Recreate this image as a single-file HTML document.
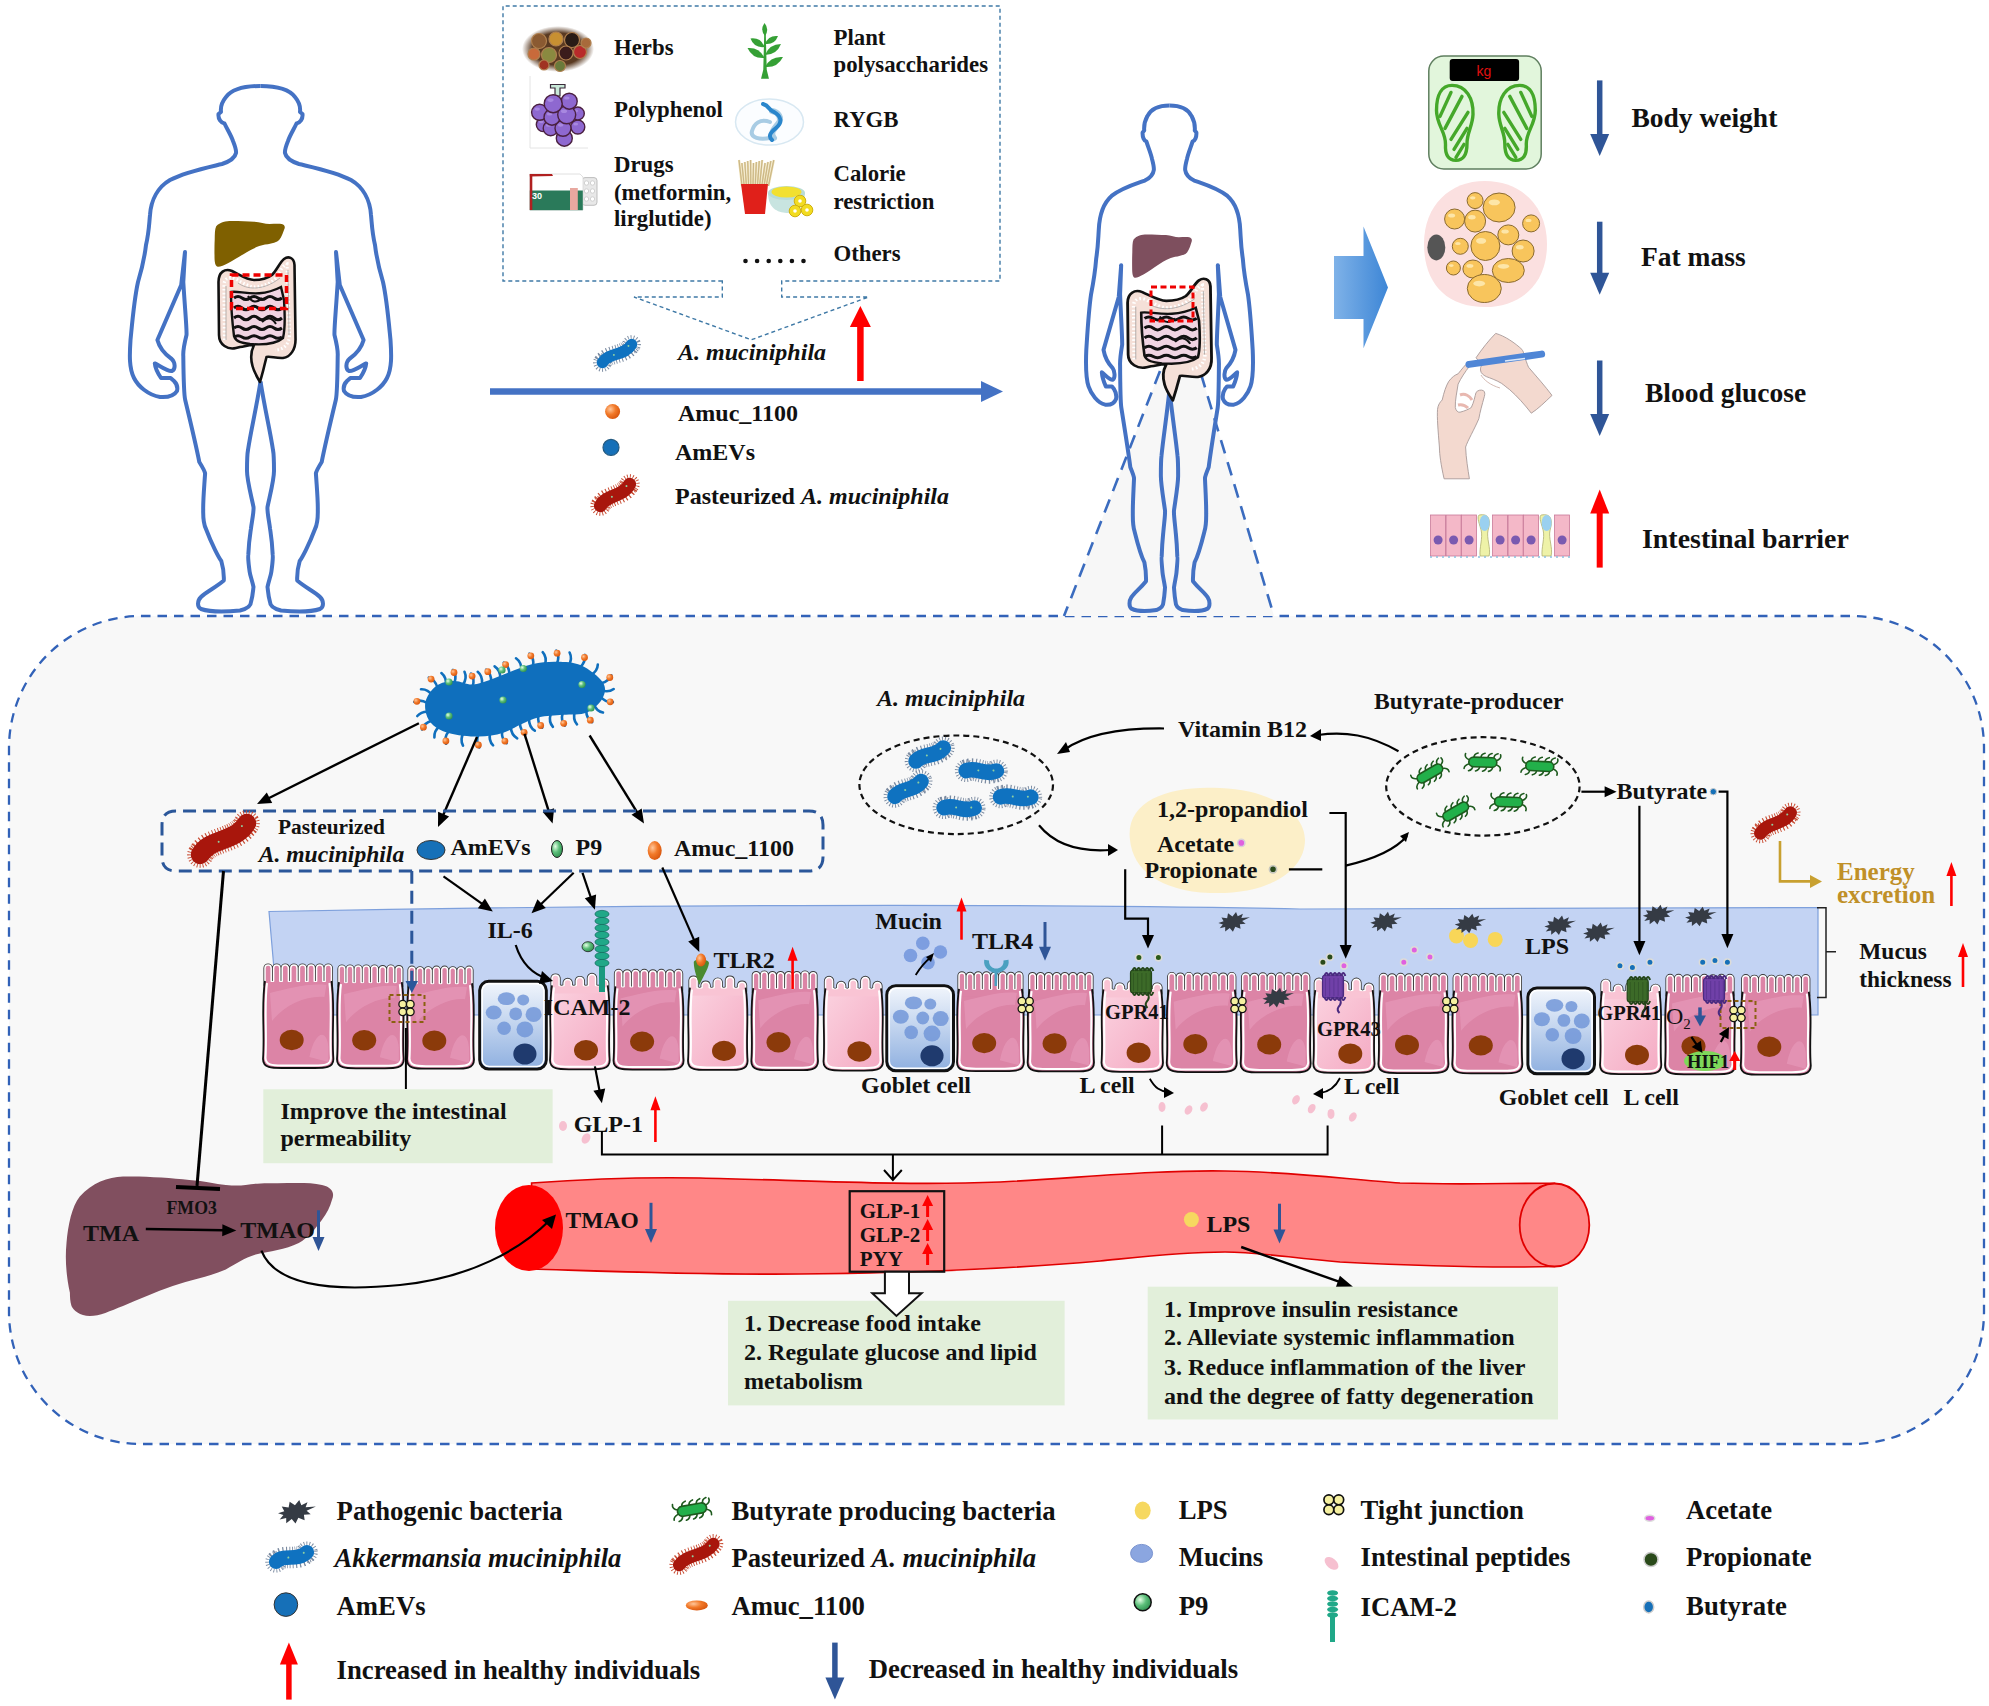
<!DOCTYPE html><html><head><meta charset="utf-8"><style>html,body{margin:0;padding:0;background:#fff;}svg{display:block;}</style></head><body><svg width="1989" height="1706" viewBox="0 0 1989 1706">
<defs>
<linearGradient id="chev" x1="0" y1="0" x2="1" y2="0"><stop offset="0" stop-color="#7fb2e8"/><stop offset="1" stop-color="#3d86d6"/></linearGradient>
<linearGradient id="gob" x1="0" y1="0" x2="0" y2="1"><stop offset="0" stop-color="#f2f6fc"/><stop offset="1" stop-color="#8fb0e0"/></linearGradient>
<radialGradient id="orb" cx="0.35" cy="0.35" r="0.7"><stop offset="0" stop-color="#ffc69a"/><stop offset="0.5" stop-color="#f27a2a"/><stop offset="1" stop-color="#d8560e"/></radialGradient>
<radialGradient id="grb" cx="0.35" cy="0.35" r="0.7"><stop offset="0" stop-color="#e6ffe6"/><stop offset="0.5" stop-color="#5cbf7a"/><stop offset="1" stop-color="#2f8f4f"/></radialGradient>
<linearGradient id="lcell" x1="0" y1="0" x2="1" y2="1"><stop offset="0" stop-color="#fbd3e0"/><stop offset="1" stop-color="#f4a9c2"/></linearGradient>
</defs>
<rect width="1989" height="1706" fill="#fff"/>
<rect x="9" y="616" width="1975" height="828" rx="132" ry="132" fill="#f8f8f8" stroke="#3262b8" stroke-width="2.3" stroke-dasharray="9.5 7"/>
<polygon points="1160,371 1064,616 1274,616 1201,374" fill="#f7f7f7"/>
<line x1="1160" y1="371" x2="1064" y2="616" stroke="#3b6cbf" stroke-width="2.6" stroke-dasharray="14 9"/>
<line x1="1201" y1="374" x2="1274" y2="616" stroke="#3b6cbf" stroke-width="2.6" stroke-dasharray="14 9"/>
<g transform="">
<path d="M260.5,86 C245,86 232,89 226,97 C221,103 220.5,108 221,112 L218.5,114 C218,119 221,123 224.5,123.5 C227,129 231,135 233,141 C235,146 236.5,150 236,153 C235,158 231,161 222,164 C205,168 185,172 170,180 C158,187 151,200 150,215 C149,225 149,232 146,245 C144,262 141,272 138,282 C134,300 132,325 130.5,340 C129.5,355 129,368 134,378 C138,386 148,395 160,397 C167,397.5 174,396 177,391 C178,387 176,383 174,381 L170.6,378 L161,378 C157,372 155,366 154.8,363.4 C160,366 168,372 172,371 C176,369 175,362 171.7,359 C166,355 160,350 157.4,340 L181.2,285 L185,252 L183.3,282 C185,310 187,330 186.5,335 C184,345 183,352 183.3,356 C183.5,375 184,395 185.2,400 C190,420 196,445 199.3,462 C203,468 205,472 205.1,473.5 C204,490 203,500 203.2,510 C203,520 204,525 206,529 C212,545 219,558 221.3,561 C224,570 224,576 223.8,580.5 C215,588 206,592 201,597 C197,601 197,607 201,609 C210,612 225,612 240,610.5 C246,609 251,606 251,602 C253,595 253,590 253.5,587 C252,580 250,575 249.6,571.5 C248,560 248,555 248.3,554.7 C249,540 250,535 250.9,529 C252,520 254,512 253.5,507 C251,495 247,480 247,471 C247,460 247,455 248,450 C251,430 256,410 260.5,381.5" fill="none" stroke="#4472c4" stroke-width="4" stroke-linejoin="round" vector-effect="non-scaling-stroke"/>
<path d="M260.5,86 C245,86 232,89 226,97 C221,103 220.5,108 221,112 L218.5,114 C218,119 221,123 224.5,123.5 C227,129 231,135 233,141 C235,146 236.5,150 236,153 C235,158 231,161 222,164 C205,168 185,172 170,180 C158,187 151,200 150,215 C149,225 149,232 146,245 C144,262 141,272 138,282 C134,300 132,325 130.5,340 C129.5,355 129,368 134,378 C138,386 148,395 160,397 C167,397.5 174,396 177,391 C178,387 176,383 174,381 L170.6,378 L161,378 C157,372 155,366 154.8,363.4 C160,366 168,372 172,371 C176,369 175,362 171.7,359 C166,355 160,350 157.4,340 L181.2,285 L185,252 L183.3,282 C185,310 187,330 186.5,335 C184,345 183,352 183.3,356 C183.5,375 184,395 185.2,400 C190,420 196,445 199.3,462 C203,468 205,472 205.1,473.5 C204,490 203,500 203.2,510 C203,520 204,525 206,529 C212,545 219,558 221.3,561 C224,570 224,576 223.8,580.5 C215,588 206,592 201,597 C197,601 197,607 201,609 C210,612 225,612 240,610.5 C246,609 251,606 251,602 C253,595 253,590 253.5,587 C252,580 250,575 249.6,571.5 C248,560 248,555 248.3,554.7 C249,540 250,535 250.9,529 C252,520 254,512 253.5,507 C251,495 247,480 247,471 C247,460 247,455 248,450 C251,430 256,410 260.5,381.5" transform="translate(521,0) scale(-1,1)" fill="none" stroke="#4472c4" stroke-width="4" stroke-linejoin="round" vector-effect="non-scaling-stroke"/>
</g>
<g transform="translate(1169.5,105.5) scale(0.64,0.962) translate(-260.5,-86)">
<path d="M260.5,86 C245,86 232,89 226,97 C221,103 220.5,108 221,112 L218.5,114 C218,119 221,123 224.5,123.5 C227,129 231,135 233,141 C235,146 236.5,150 236,153 C235,158 231,161 222,164 C205,168 185,172 170,180 C158,187 151,200 150,215 C149,225 149,232 146,245 C144,262 141,272 138,282 C134,300 132,325 130.5,340 C129.5,355 129,368 134,378 C138,386 148,395 160,397 C167,397.5 174,396 177,391 C178,387 176,383 174,381 L170.6,378 L161,378 C157,372 155,366 154.8,363.4 C160,366 168,372 172,371 C176,369 175,362 171.7,359 C166,355 160,350 157.4,340 L181.2,285 L185,252 L183.3,282 C185,310 187,330 186.5,335 C184,345 183,352 183.3,356 C183.5,375 184,395 185.2,400 C190,420 196,445 199.3,462 C203,468 205,472 205.1,473.5 C204,490 203,500 203.2,510 C203,520 204,525 206,529 C212,545 219,558 221.3,561 C224,570 224,576 223.8,580.5 C215,588 206,592 201,597 C197,601 197,607 201,609 C210,612 225,612 240,610.5 C246,609 251,606 251,602 C253,595 253,590 253.5,587 C252,580 250,575 249.6,571.5 C248,560 248,555 248.3,554.7 C249,540 250,535 250.9,529 C252,520 254,512 253.5,507 C251,495 247,480 247,471 C247,460 247,455 248,450 C251,430 256,410 260.5,381.5" fill="none" stroke="#4472c4" stroke-width="4" stroke-linejoin="round" vector-effect="non-scaling-stroke"/>
<path d="M260.5,86 C245,86 232,89 226,97 C221,103 220.5,108 221,112 L218.5,114 C218,119 221,123 224.5,123.5 C227,129 231,135 233,141 C235,146 236.5,150 236,153 C235,158 231,161 222,164 C205,168 185,172 170,180 C158,187 151,200 150,215 C149,225 149,232 146,245 C144,262 141,272 138,282 C134,300 132,325 130.5,340 C129.5,355 129,368 134,378 C138,386 148,395 160,397 C167,397.5 174,396 177,391 C178,387 176,383 174,381 L170.6,378 L161,378 C157,372 155,366 154.8,363.4 C160,366 168,372 172,371 C176,369 175,362 171.7,359 C166,355 160,350 157.4,340 L181.2,285 L185,252 L183.3,282 C185,310 187,330 186.5,335 C184,345 183,352 183.3,356 C183.5,375 184,395 185.2,400 C190,420 196,445 199.3,462 C203,468 205,472 205.1,473.5 C204,490 203,500 203.2,510 C203,520 204,525 206,529 C212,545 219,558 221.3,561 C224,570 224,576 223.8,580.5 C215,588 206,592 201,597 C197,601 197,607 201,609 C210,612 225,612 240,610.5 C246,609 251,606 251,602 C253,595 253,590 253.5,587 C252,580 250,575 249.6,571.5 C248,560 248,555 248.3,554.7 C249,540 250,535 250.9,529 C252,520 254,512 253.5,507 C251,495 247,480 247,471 C247,460 247,455 248,450 C251,430 256,410 260.5,381.5" transform="translate(521,0) scale(-1,1)" fill="none" stroke="#4472c4" stroke-width="4" stroke-linejoin="round" vector-effect="non-scaling-stroke"/>
</g>
<path d="M216.2,226.3 C220,222 226,221 231.4,221 C240,221 248,221.5 254.3,221.7 C260,222 265,224 269.5,224 C274,224 278,223.5 281.7,224 C285,225 285.5,227 284,230 C282,236 280,240 277.2,241.5 C273,243.5 269,244 265,244.6 C258,246 252,249 246.7,252.2 C240,256 234,260 228.4,262.9 C224,265 220,267 217.7,266.7 C215,266 214.5,262 214.5,255.3 C214.5,248 214.5,244 214.7,240 C214.8,234 214.8,229 216.2,226.3 Z" transform="" fill="#7f6000"/>
<path d="M216.2,226.3 C220,222 226,221 231.4,221 C240,221 248,221.5 254.3,221.7 C260,222 265,224 269.5,224 C274,224 278,223.5 281.7,224 C285,225 285.5,227 284,230 C282,236 280,240 277.2,241.5 C273,243.5 269,244 265,244.6 C258,246 252,249 246.7,252.2 C240,256 234,260 228.4,262.9 C224,265 220,267 217.7,266.7 C215,266 214.5,262 214.5,255.3 C214.5,248 214.5,244 214.7,240 C214.8,234 214.8,229 216.2,226.3 Z" transform="translate(1132.3,234.4) scale(0.85,0.95) translate(-214.7,-221)" fill="#7e4f5e"/>
<g transform="">
<path d="M236,348 C228,350 219,345 219,335 L218.5,282 C218.5,272 225,268 232,271 C240,275 247,280 254,280 C262,280 268,278 272,275 C277,270 280,262 284,259 C288,256 294,257 294.5,265 L295.5,338 C296,350 290,357 283,358 C276,358.5 270,356 266.5,357 L264.5,365 C263,372 261,378 260,382 C257,377 254,372 252.5,366 C250,357 252,349 254,345 C250,344 244,347 240,347 Z" fill="#f5e0d8" stroke="#111" stroke-width="2.6" stroke-linejoin="round"/>
<path d="M224.5,340 L224,285 C224,278 230,276 236,279 C244,284 250,287 255,287 C262,287 270,284 276,278 C280,272 282,266 287,264 L289.5,335 C289,346 282,350 275,350" fill="none" stroke="#fff" stroke-width="3.2" stroke-dasharray="1.6 2.2"/>
<path d="M226,340 L226,286 M238,283 C246,289 262,292 280,278 M288,270 L289,335" fill="none" stroke="#999" stroke-width="0.7"/>
<path d="M231,292 C240,290 258,299 281,287 L284,300 C285,315 285,330 283,338 C276,344 262,345 250,344 C242,343 236,342 234,336 C232,320 231,305 231,292 Z" fill="#f0d4e2" stroke="#111" stroke-width="2.4"/>
<path d="M234,298 q4,-3 8,0 t8,0 t8,0 t8,0 t8,0 t8,0" fill="none" stroke="#111" stroke-width="3"/>
<path d="M234,308 q4,-3.5 8,0 t8,0 t8,0 t8,0 t8,0 t8,0" fill="none" stroke="#111" stroke-width="3"/>
<path d="M234,318 q4,-3.5 8,0 t8,0 t8,0 t8,0 t8,0 t8,0" fill="none" stroke="#111" stroke-width="3"/>
<path d="M234,328 q4,-3 8,0 t8,0 t8,0 t8,0 t8,0 t8,0" fill="none" stroke="#111" stroke-width="3"/>
<path d="M234,337 q4,-2.5 8,0 t8,0 t8,0 t8,0 t8,0 t8,0" fill="none" stroke="#111" stroke-width="3"/>
<path d="M248,296 q6,10 14,2 M262,322 q8,-8 14,2" fill="none" stroke="#111" stroke-width="2"/>
</g>
<g transform="translate(1127.6,279.4) scale(1.09,0.976) translate(-218.5,-258)">
<path d="M236,348 C228,350 219,345 219,335 L218.5,282 C218.5,272 225,268 232,271 C240,275 247,280 254,280 C262,280 268,278 272,275 C277,270 280,262 284,259 C288,256 294,257 294.5,265 L295.5,338 C296,350 290,357 283,358 C276,358.5 270,356 266.5,357 L264.5,365 C263,372 261,378 260,382 C257,377 254,372 252.5,366 C250,357 252,349 254,345 C250,344 244,347 240,347 Z" fill="#f5e0d8" stroke="#111" stroke-width="2.6" stroke-linejoin="round"/>
<path d="M224.5,340 L224,285 C224,278 230,276 236,279 C244,284 250,287 255,287 C262,287 270,284 276,278 C280,272 282,266 287,264 L289.5,335 C289,346 282,350 275,350" fill="none" stroke="#fff" stroke-width="3.2" stroke-dasharray="1.6 2.2"/>
<path d="M226,340 L226,286 M238,283 C246,289 262,292 280,278 M288,270 L289,335" fill="none" stroke="#999" stroke-width="0.7"/>
<path d="M231,292 C240,290 258,299 281,287 L284,300 C285,315 285,330 283,338 C276,344 262,345 250,344 C242,343 236,342 234,336 C232,320 231,305 231,292 Z" fill="#f0d4e2" stroke="#111" stroke-width="2.4"/>
<path d="M234,298 q4,-3 8,0 t8,0 t8,0 t8,0 t8,0 t8,0" fill="none" stroke="#111" stroke-width="3"/>
<path d="M234,308 q4,-3.5 8,0 t8,0 t8,0 t8,0 t8,0 t8,0" fill="none" stroke="#111" stroke-width="3"/>
<path d="M234,318 q4,-3.5 8,0 t8,0 t8,0 t8,0 t8,0 t8,0" fill="none" stroke="#111" stroke-width="3"/>
<path d="M234,328 q4,-3 8,0 t8,0 t8,0 t8,0 t8,0 t8,0" fill="none" stroke="#111" stroke-width="3"/>
<path d="M234,337 q4,-2.5 8,0 t8,0 t8,0 t8,0 t8,0 t8,0" fill="none" stroke="#111" stroke-width="3"/>
<path d="M248,296 q6,10 14,2 M262,322 q8,-8 14,2" fill="none" stroke="#111" stroke-width="2"/>
</g>
<rect x="231.5" y="275" width="55" height="33.5" fill="none" stroke="#e00" stroke-width="3.5" stroke-dasharray="7 4"/>
<rect x="1151" y="287" width="42" height="34" fill="none" stroke="#e00" stroke-width="3" stroke-dasharray="6 3.5"/>
<path d="M722.3,281 L503,281 L503,6 L1000,6 L1000,281 L781.7,281 L781.7,297 L868.6,297 L751.3,339.8 L634,297 L722.3,297 Z" fill="none" stroke="#3f79a6" stroke-width="1.4" stroke-dasharray="4 3"/>
<line x1="723.5" y1="281" x2="780.5" y2="281" stroke="#fff" stroke-width="3"/>
<defs><radialGradient id="herbg" cx="0.5" cy="0.5" r="0.5"><stop offset="0.7" stop-color="#5a3a22" stop-opacity="1"/><stop offset="1" stop-color="#5a3a22" stop-opacity="0"/></radialGradient><filter id="hblur"><feGaussianBlur stdDeviation="0.6"/></filter></defs>
<ellipse cx="558" cy="49" rx="36" ry="23" fill="url(#herbg)"/>
<g filter="url(#hblur)">
<circle cx="539" cy="41" r="7.5" fill="#8a5a30" stroke="#b08050" stroke-width="1.2"/>
<circle cx="556" cy="39" r="7" fill="#c89030" stroke="#b08050" stroke-width="1.2"/>
<circle cx="572" cy="40" r="7.5" fill="#2a1a14" stroke="#b08050" stroke-width="1.2"/>
<circle cx="534" cy="54" r="6" fill="#c86a3a" stroke="#b08050" stroke-width="1.2"/>
<circle cx="549" cy="55" r="7.5" fill="#8a8a40" stroke="#b08050" stroke-width="1.2"/>
<circle cx="566" cy="53" r="7" fill="#3a1a1a" stroke="#b08050" stroke-width="1.2"/>
<circle cx="580" cy="52" r="6.5" fill="#b82a2a" stroke="#b08050" stroke-width="1.2"/>
<circle cx="544" cy="65" r="5" fill="#a03020" stroke="#b08050" stroke-width="1.2"/>
<circle cx="560" cy="66" r="5.5" fill="#6a7a3a" stroke="#b08050" stroke-width="1.2"/>
<circle cx="586" cy="43" r="5" fill="#a86a3a" stroke="#b08050" stroke-width="1.2"/>
</g>
<path d="M530,76 L530,148 L588,148" fill="none" stroke="#e4e4e4" stroke-width="1"/>
<path d="M550.5,84.5 L565,84.5 L565,88 L560,88 L560,96 L555,96 L555,88 L550.5,88 Z" fill="#c8e8d8" stroke="#3a2a3a" stroke-width="1.2"/>
<circle cx="564.3" cy="138.2" r="8" fill="#8e68d0" stroke="#4a2040" stroke-width="1.4"/>
<ellipse cx="561.9" cy="135.0" rx="2.8" ry="1.6" fill="#a888e0"/>
<circle cx="543.3" cy="124.6" r="7" fill="#8e68d0" stroke="#4a2040" stroke-width="1.4"/>
<ellipse cx="541.2" cy="121.8" rx="2.4" ry="1.4" fill="#a888e0"/>
<circle cx="577.8" cy="127" r="7" fill="#8e68d0" stroke="#4a2040" stroke-width="1.4"/>
<ellipse cx="575.7" cy="124.2" rx="2.4" ry="1.4" fill="#a888e0"/>
<circle cx="550.7" cy="128.3" r="7.5" fill="#8e68d0" stroke="#4a2040" stroke-width="1.4"/>
<ellipse cx="548.5" cy="125.3" rx="2.6" ry="1.5" fill="#a888e0"/>
<circle cx="563" cy="128.3" r="8" fill="#8e68d0" stroke="#4a2040" stroke-width="1.4"/>
<ellipse cx="560.6" cy="125.1" rx="2.8" ry="1.6" fill="#a888e0"/>
<circle cx="539.6" cy="112.3" r="8" fill="#8e68d0" stroke="#4a2040" stroke-width="1.4"/>
<ellipse cx="537.2" cy="109.1" rx="2.8" ry="1.6" fill="#a888e0"/>
<circle cx="577.8" cy="113.5" r="6.5" fill="#8e68d0" stroke="#4a2040" stroke-width="1.4"/>
<ellipse cx="575.8" cy="110.9" rx="2.3" ry="1.3" fill="#a888e0"/>
<circle cx="552" cy="117.2" r="8" fill="#8e68d0" stroke="#4a2040" stroke-width="1.4"/>
<ellipse cx="549.6" cy="114.0" rx="2.8" ry="1.6" fill="#a888e0"/>
<circle cx="566.7" cy="114.8" r="9" fill="#8e68d0" stroke="#4a2040" stroke-width="1.4"/>
<ellipse cx="564.0" cy="111.2" rx="3.1" ry="1.8" fill="#a888e0"/>
<circle cx="569.2" cy="101.2" r="8" fill="#8e68d0" stroke="#4a2040" stroke-width="1.4"/>
<ellipse cx="566.8" cy="98.0" rx="2.8" ry="1.6" fill="#a888e0"/>
<circle cx="553.2" cy="103.7" r="9" fill="#8e68d0" stroke="#4a2040" stroke-width="1.4"/>
<ellipse cx="550.5" cy="100.1" rx="3.1" ry="1.8" fill="#a888e0"/>
<rect x="582" y="177.6" width="15" height="27.7" rx="3" fill="#e8e8e8" stroke="#b0b0b0" stroke-width="0.8"/>
<circle cx="586.5" cy="183" r="2.2" fill="#fff" stroke="#c8c8c8" stroke-width="0.8"/>
<circle cx="592.5" cy="183" r="2.2" fill="#fff" stroke="#c8c8c8" stroke-width="0.8"/>
<circle cx="586.5" cy="191" r="2.2" fill="#fff" stroke="#c8c8c8" stroke-width="0.8"/>
<circle cx="592.5" cy="191" r="2.2" fill="#fff" stroke="#c8c8c8" stroke-width="0.8"/>
<circle cx="586.5" cy="199" r="2.2" fill="#fff" stroke="#c8c8c8" stroke-width="0.8"/>
<circle cx="592.5" cy="199" r="2.2" fill="#fff" stroke="#c8c8c8" stroke-width="0.8"/>
<polygon points="529.8,174 580,174 583,177 583,210 529.8,210" fill="#fff" stroke="#d8d8d8" stroke-width="0.8"/>
<polygon points="529.8,174 552,174 553,176 529.8,176.5" fill="#b02020"/>
<rect x="529.8" y="190.5" width="53" height="19.7" fill="#2a7a5a"/>
<rect x="529.8" y="174" width="2.5" height="36" fill="#b02020"/>
<rect x="570" y="188" width="7.8" height="22" fill="#e8a8a0"/>
<text x="532" y="199" font-family="'Liberation Sans', sans-serif" font-size="9" font-weight="bold" font-style="normal" fill="#fff" text-anchor="start" >30</text>
<path d="M762,78 L764,70 L765,33 L766,70 L768,78 Z" fill="#35a035" stroke="#35a035" stroke-width="1.5"/>
<path d="M765.0,36.0 Q769.7,29.3 764.5,23.0 Q759.8,29.7 765.0,36.0 Z" fill="#35a035"/>
<path d="M764.5,47.0 Q760.9,37.2 750.5,38.5 Q754.1,48.3 764.5,47.0 Z" fill="#35a035"/>
<path d="M765.0,44.0 Q774.6,45.1 778.0,36.0 Q768.4,34.9 765.0,44.0 Z" fill="#35a035"/>
<path d="M764.5,58.0 Q759.5,47.0 747.5,48.0 Q752.5,59.0 764.5,58.0 Z" fill="#35a035"/>
<path d="M765.0,55.0 Q776.7,54.9 781.0,44.0 Q769.3,44.1 765.0,55.0 Z" fill="#35a035"/>
<path d="M765.0,67.0 Q777.4,68.1 783.0,57.0 Q770.6,55.9 765.0,67.0 Z" fill="#35a035"/>
<ellipse cx="769.5" cy="122" rx="34" ry="23" fill="#fbfdff" stroke="#d8e8f2" stroke-width="1.5"/>
<path d="M772,111 C778,112 783,118 778,124 C773,130 770,134 774,138" fill="none" stroke="#a8cce4" stroke-width="6" stroke-linecap="round"/>
<path d="M770,122 C760,118 754,124 752,131 C750,138 760,140 770,138" fill="none" stroke="#a8cce4" stroke-width="4" stroke-linecap="round"/>
<path d="M763,104 C770,106 768,110 774,112 C781,116 783,122 776,128 C770,133 768,136 772,140" fill="none" stroke="#2a86cc" stroke-width="4" stroke-linecap="round"/>
<line x1="742.0" y1="186" x2="739.0" y2="160" stroke="#e8d8a8" stroke-width="2.2"/>
<line x1="742.0" y1="186" x2="739.0" y2="160" stroke="#a89060" stroke-width="0.5"/>
<line x1="744.2" y1="186" x2="741.9" y2="163" stroke="#e8d8a8" stroke-width="2.2"/>
<line x1="744.2" y1="186" x2="741.9" y2="163" stroke="#a89060" stroke-width="0.5"/>
<line x1="746.4" y1="186" x2="744.8" y2="162" stroke="#e8d8a8" stroke-width="2.2"/>
<line x1="746.4" y1="186" x2="744.8" y2="162" stroke="#a89060" stroke-width="0.5"/>
<line x1="748.6" y1="186" x2="747.7" y2="161" stroke="#e8d8a8" stroke-width="2.2"/>
<line x1="748.6" y1="186" x2="747.7" y2="161" stroke="#a89060" stroke-width="0.5"/>
<line x1="750.8" y1="186" x2="750.6" y2="160" stroke="#e8d8a8" stroke-width="2.2"/>
<line x1="750.8" y1="186" x2="750.6" y2="160" stroke="#a89060" stroke-width="0.5"/>
<line x1="753.0" y1="186" x2="753.5" y2="163" stroke="#e8d8a8" stroke-width="2.2"/>
<line x1="753.0" y1="186" x2="753.5" y2="163" stroke="#a89060" stroke-width="0.5"/>
<line x1="755.2" y1="186" x2="756.4" y2="162" stroke="#e8d8a8" stroke-width="2.2"/>
<line x1="755.2" y1="186" x2="756.4" y2="162" stroke="#a89060" stroke-width="0.5"/>
<line x1="757.4" y1="186" x2="759.3" y2="161" stroke="#e8d8a8" stroke-width="2.2"/>
<line x1="757.4" y1="186" x2="759.3" y2="161" stroke="#a89060" stroke-width="0.5"/>
<line x1="759.6" y1="186" x2="762.2" y2="160" stroke="#e8d8a8" stroke-width="2.2"/>
<line x1="759.6" y1="186" x2="762.2" y2="160" stroke="#a89060" stroke-width="0.5"/>
<line x1="761.8" y1="186" x2="765.1" y2="163" stroke="#e8d8a8" stroke-width="2.2"/>
<line x1="761.8" y1="186" x2="765.1" y2="163" stroke="#a89060" stroke-width="0.5"/>
<line x1="764.0" y1="186" x2="768.0" y2="162" stroke="#e8d8a8" stroke-width="2.2"/>
<line x1="764.0" y1="186" x2="768.0" y2="162" stroke="#a89060" stroke-width="0.5"/>
<line x1="766.2" y1="186" x2="770.9" y2="161" stroke="#e8d8a8" stroke-width="2.2"/>
<line x1="766.2" y1="186" x2="770.9" y2="161" stroke="#a89060" stroke-width="0.5"/>
<line x1="768.4" y1="186" x2="773.8" y2="160" stroke="#e8d8a8" stroke-width="2.2"/>
<line x1="768.4" y1="186" x2="773.8" y2="160" stroke="#a89060" stroke-width="0.5"/>
<polygon points="741,184 768,184 765,214 745,214" fill="#e0201a"/>
<path d="M768,193 C768,210 780,213 788,213 C798,213 805,205 805,193 Z" fill="#c8e4e0"/>
<ellipse cx="786.5" cy="193" rx="18.5" ry="7" fill="#b8dcd8"/>
<ellipse cx="786.5" cy="192" rx="15" ry="5.5" fill="#f2e030"/>
<circle cx="800" cy="201" r="5.8" fill="#f2dc20" stroke="#d0b010" stroke-width="1"/>
<circle cx="800" cy="201" r="1.8" fill="#fff"/>
<circle cx="807" cy="210" r="5.8" fill="#f2dc20" stroke="#d0b010" stroke-width="1"/>
<circle cx="807" cy="210" r="1.8" fill="#fff"/>
<circle cx="795" cy="211" r="5.8" fill="#f2dc20" stroke="#d0b010" stroke-width="1"/>
<circle cx="795" cy="211" r="1.8" fill="#fff"/>
<text x="614" y="55" font-family="'Liberation Serif', serif" font-size="22.8" font-weight="bold" font-style="normal" fill="#111" text-anchor="start" >Herbs</text>
<text x="833.5" y="45" font-family="'Liberation Serif', serif" font-size="22.8" font-weight="bold" font-style="normal" fill="#111" text-anchor="start" >Plant</text>
<text x="833.5" y="71.5" font-family="'Liberation Serif', serif" font-size="22.8" font-weight="bold" font-style="normal" fill="#111" text-anchor="start" >polysaccharides</text>
<text x="614" y="117" font-family="'Liberation Serif', serif" font-size="22.8" font-weight="bold" font-style="normal" fill="#111" text-anchor="start" >Polyphenol</text>
<text x="833.5" y="126.5" font-family="'Liberation Serif', serif" font-size="22.8" font-weight="bold" font-style="normal" fill="#111" text-anchor="start" >RYGB</text>
<text x="614" y="172" font-family="'Liberation Serif', serif" font-size="22.8" font-weight="bold" font-style="normal" fill="#111" text-anchor="start" >Drugs</text>
<text x="614" y="199.5" font-family="'Liberation Serif', serif" font-size="22.8" font-weight="bold" font-style="normal" fill="#111" text-anchor="start" >(metformin,</text>
<text x="614" y="225.5" font-family="'Liberation Serif', serif" font-size="22.8" font-weight="bold" font-style="normal" fill="#111" text-anchor="start" >lirglutide)</text>
<text x="833.5" y="181" font-family="'Liberation Serif', serif" font-size="22.8" font-weight="bold" font-style="normal" fill="#111" text-anchor="start" >Calorie</text>
<text x="833.5" y="208.5" font-family="'Liberation Serif', serif" font-size="22.8" font-weight="bold" font-style="normal" fill="#111" text-anchor="start" >restriction</text>
<text x="833.5" y="260.5" font-family="'Liberation Serif', serif" font-size="22.8" font-weight="bold" font-style="normal" fill="#111" text-anchor="start" >Others</text>
<circle cx="745.5" cy="261" r="2.3" fill="#111"/>
<circle cx="757.1" cy="261" r="2.3" fill="#111"/>
<circle cx="768.7" cy="261" r="2.3" fill="#111"/>
<circle cx="780.3" cy="261" r="2.3" fill="#111"/>
<circle cx="791.9" cy="261" r="2.3" fill="#111"/>
<circle cx="803.5" cy="261" r="2.3" fill="#111"/>
<line x1="490" y1="391.6" x2="985" y2="391.6" stroke="#4472c4" stroke-width="6.5"/>
<polygon points="1003,391.6 981,381 981,402" fill="#4472c4"/>
<line x1="860.4" y1="381" x2="860.4" y2="326.0" stroke="#f00" stroke-width="6.5"/>
<polygon points="860.4,306.0 870.9,327.0 849.9,327.0" fill="#f00"/>
<g transform="translate(617,353.5) rotate(-25) scale(1.0)">
<path d="M-17.0,2 C-6.800000000000001,-5 5.1,6 17.0,-2" stroke="#7a8aa0" stroke-width="18.5" stroke-dasharray="0.9 2" fill="none"/>
<circle cx="-17.0" cy="2" r="7.55" fill="none" stroke="#7a8aa0" stroke-width="3.6" stroke-dasharray="0.9 2"/>
<circle cx="17.0" cy="-2" r="7.55" fill="none" stroke="#7a8aa0" stroke-width="3.6" stroke-dasharray="0.9 2"/>
<path d="M-17.0,2 C-6.800000000000001,-5 5.1,6 17.0,-2" stroke="#0f72c0" stroke-width="11.5" stroke-linecap="round" fill="none"/>
<circle cx="-3.4000000000000004" cy="0" r="1" fill="#8fd0a0"/><circle cx="13.600000000000001" cy="-2" r="1" fill="#8fd0a0"/>
</g>
<circle cx="612.6" cy="411.5" r="7.5" fill="url(#orb)"/>
<circle cx="611" cy="447.4" r="8" fill="#1670b8" stroke="#245a80" stroke-width="1.2"/>
<g transform="translate(615,495) rotate(-30) scale(1.0)">
<path d="M-18.0,2 C-7.2,-5 5.3999999999999995,6 18.0,-2" stroke="#c84a30" stroke-width="20" stroke-dasharray="0.9 2" fill="none"/>
<circle cx="-18.0" cy="2" r="8.3" fill="none" stroke="#c84a30" stroke-width="3.6" stroke-dasharray="0.9 2"/>
<circle cx="18.0" cy="-2" r="8.3" fill="none" stroke="#c84a30" stroke-width="3.6" stroke-dasharray="0.9 2"/>
<path d="M-18.0,2 C-7.2,-5 5.3999999999999995,6 18.0,-2" stroke="#a8160c" stroke-width="13" stroke-linecap="round" fill="none"/>
<circle cx="-3.6" cy="0" r="1" fill="#8fd0a0"/><circle cx="14.4" cy="-2" r="1" fill="#8fd0a0"/>
</g>
<text x="678" y="359.6" font-family="'Liberation Serif', serif" font-size="24" font-weight="bold" font-style="italic" fill="#111" text-anchor="start" >A. muciniphila</text>
<text x="678" y="420.6" font-family="'Liberation Serif', serif" font-size="24" font-weight="bold" font-style="normal" fill="#111" text-anchor="start" >Amuc_1100</text>
<text x="675" y="460.2" font-family="'Liberation Serif', serif" font-size="24" font-weight="bold" font-style="normal" fill="#111" text-anchor="start" >AmEVs</text>
<text x="675" y="504.4" font-family="'Liberation Serif', serif" font-size="24" font-weight="bold" font-style="normal" fill="#111" text-anchor="start" >Pasteurized <tspan font-style="italic">A. muciniphila</tspan></text>
<rect x="1428.8" y="56.1" width="112.4" height="112.8" rx="15" fill="#e2f6dc" stroke="#5f7f5f" stroke-width="1.5"/>
<rect x="1449.7" y="59.1" width="69.4" height="21.8" rx="3" fill="#000"/>
<text x="1484" y="75.5" font-family="'Liberation Sans', sans-serif" font-size="14" font-weight="normal" font-style="normal" fill="#e01010" text-anchor="middle" >kg</text>
<g transform="translate(1455,122.4) scale(1,1)" fill="none" stroke="#45a82a" stroke-width="3.4" stroke-linecap="round">
<path d="M-3,-37 C11,-37 18.5,-24 18,-8 C17.5,4 12,10 12,21 C12,33 8,38 1,38 C-7,38 -10,32 -9.5,22 C-9,10 -18.5,2 -18.5,-12 C-18.5,-28 -13,-37 -3,-37 Z"/>
<line x1="-15" y1="-6" x2="-4" y2="-30"/>
<line x1="-10" y1="6" x2="7" y2="-26"/>
<line x1="-4" y1="17" x2="13" y2="-10"/>
<line x1="-1" y1="27" x2="12" y2="6"/>
<line x1="1" y1="35" x2="9" y2="22"/>
</g>
<g transform="translate(1516.8,122.4) scale(-1,1)" fill="none" stroke="#45a82a" stroke-width="3.4" stroke-linecap="round">
<path d="M-3,-37 C11,-37 18.5,-24 18,-8 C17.5,4 12,10 12,21 C12,33 8,38 1,38 C-7,38 -10,32 -9.5,22 C-9,10 -18.5,2 -18.5,-12 C-18.5,-28 -13,-37 -3,-37 Z"/>
<line x1="-15" y1="-6" x2="-4" y2="-30"/>
<line x1="-10" y1="6" x2="7" y2="-26"/>
<line x1="-4" y1="17" x2="13" y2="-10"/>
<line x1="-1" y1="27" x2="12" y2="6"/>
<line x1="1" y1="35" x2="9" y2="22"/>
</g>
<line x1="1599.7" y1="80.4" x2="1599.7" y2="135.0" stroke="#2f5597" stroke-width="5.5"/>
<polygon points="1599.7,156.0 1590.2,134.0 1609.2,134.0" fill="#2f5597"/>
<text x="1631.4" y="126.7" font-family="'Liberation Serif', serif" font-size="27.5" font-weight="bold" font-style="normal" fill="#111" text-anchor="start" >Body weight</text>
<path d="M1485,181 C1520,181 1547,205 1547,244 C1547,285 1520,307 1485,307 C1445,307 1424,282 1424,244 C1424,205 1450,181 1485,181 Z" fill="#fbe0e0"/>
<ellipse cx="1436.3" cy="247.4" rx="9" ry="13" fill="#555"/>
<ellipse cx="1475.1" cy="200.6" rx="8" ry="8" fill="#f8c55c" stroke="#8a6a30" stroke-width="1"/>
<ellipse cx="1472.7" cy="197.8" rx="2.8" ry="1.6" fill="#fde6a8"/>
<ellipse cx="1499.1" cy="207.5" rx="16" ry="14.5" fill="#f8c55c" stroke="#8a6a30" stroke-width="1"/>
<ellipse cx="1494.3" cy="202.4" rx="5.6" ry="2.9" fill="#fde6a8"/>
<ellipse cx="1454.6" cy="219" rx="10" ry="10" fill="#f8c55c" stroke="#8a6a30" stroke-width="1"/>
<ellipse cx="1451.6" cy="215.5" rx="3.5" ry="2.0" fill="#fde6a8"/>
<ellipse cx="1475.1" cy="221.1" rx="10.5" ry="11" fill="#f8c55c" stroke="#8a6a30" stroke-width="1"/>
<ellipse cx="1471.9" cy="217.2" rx="3.7" ry="2.2" fill="#fde6a8"/>
<ellipse cx="1531.1" cy="223.4" rx="8.5" ry="8.5" fill="#f8c55c" stroke="#8a6a30" stroke-width="1"/>
<ellipse cx="1528.5" cy="220.4" rx="3.0" ry="1.7" fill="#fde6a8"/>
<ellipse cx="1508.3" cy="234.9" rx="10.5" ry="10" fill="#f8c55c" stroke="#8a6a30" stroke-width="1"/>
<ellipse cx="1505.1" cy="231.4" rx="3.7" ry="2.0" fill="#fde6a8"/>
<ellipse cx="1460.3" cy="246.3" rx="8" ry="8" fill="#f8c55c" stroke="#8a6a30" stroke-width="1"/>
<ellipse cx="1457.9" cy="243.5" rx="2.8" ry="1.6" fill="#fde6a8"/>
<ellipse cx="1485.4" cy="246" rx="14.5" ry="14.5" fill="#f8c55c" stroke="#8a6a30" stroke-width="1"/>
<ellipse cx="1481.1" cy="240.9" rx="5.1" ry="2.9" fill="#fde6a8"/>
<ellipse cx="1523.1" cy="251" rx="11" ry="11" fill="#f8c55c" stroke="#8a6a30" stroke-width="1"/>
<ellipse cx="1519.8" cy="247.2" rx="3.8" ry="2.2" fill="#fde6a8"/>
<ellipse cx="1453.4" cy="268" rx="7" ry="7" fill="#f8c55c" stroke="#8a6a30" stroke-width="1"/>
<ellipse cx="1451.3" cy="265.6" rx="2.4" ry="1.4" fill="#fde6a8"/>
<ellipse cx="1472.9" cy="269" rx="10" ry="9" fill="#f8c55c" stroke="#8a6a30" stroke-width="1"/>
<ellipse cx="1469.9" cy="265.9" rx="3.5" ry="1.8" fill="#fde6a8"/>
<ellipse cx="1508.3" cy="270.5" rx="16" ry="12" fill="#f8c55c" stroke="#8a6a30" stroke-width="1"/>
<ellipse cx="1503.5" cy="266.3" rx="5.6" ry="2.4" fill="#fde6a8"/>
<ellipse cx="1484.3" cy="288.5" rx="17" ry="14" fill="#f8c55c" stroke="#8a6a30" stroke-width="1"/>
<ellipse cx="1479.2" cy="283.6" rx="5.9" ry="2.8" fill="#fde6a8"/>
<line x1="1599.7" y1="221.7" x2="1599.7" y2="273.7" stroke="#2f5597" stroke-width="5.5"/>
<polygon points="1599.7,294.7 1590.2,272.7 1609.2,272.7" fill="#2f5597"/>
<text x="1641" y="265.5" font-family="'Liberation Serif', serif" font-size="27.5" font-weight="bold" font-style="normal" fill="#111" text-anchor="start" >Fat mass</text>
<path d="M1444.1,478.8 C1441,465 1439.5,455 1439.4,447 C1438,430 1437,418 1437.5,409.4 C1438,405 1440,402 1442.2,400 C1444,392 1446,386 1448.8,381.3 C1452,377 1455,375 1458.1,373.8 C1462,369 1465,365 1468,362.5 C1470,363 1470,365 1469.4,366.3 C1465,372 1461,378 1458.1,384.1 C1457,392 1455,400 1455.3,407.5 C1456,411 1458,412.5 1460,412.2 C1465,411 1469,409 1471.3,407.5 C1474,402 1475,396 1476,392.5 C1478,390 1481,389.5 1483.5,390.7 C1485,392 1485,394 1484.4,396.3 C1482,405 1480,412 1478.8,418.8 C1474,430 1468,440 1465.6,447 C1466,458 1468,470 1469.4,478.8 Z" fill="#f3d9cf" stroke="#a89a98" stroke-width="0.9"/>
<path d="M1495.7,333.4 C1505,336 1515,343 1521.9,349.4 C1523,351 1524,353 1523.8,355 C1526,360 1527,364 1528.5,367.2 C1536,376 1545,386 1552,395.4 C1545,402 1538,409 1531.3,413.2 C1525,405 1517,396 1509.7,389.7 C1506,387 1504,385 1501.3,383.2 C1496,380 1490,378 1486.3,376.6 C1483,375 1481,373 1480.7,371 C1480,368 1481,366 1482.5,364.4 C1480,362 1478,360 1476,357.8 C1482,349 1489,340 1495.7,333.4 Z" fill="#f3d9cf" stroke="#a89a98" stroke-width="0.9"/>
<path d="M1481,375 C1484,380 1490,385 1500,388" fill="none" stroke="#c9a8a0" stroke-width="0.8"/>
<path d="M1460,395 C1465,393 1470,396 1472,400 M1458,405 C1462,404 1466,406 1468,408" fill="none" stroke="#e8b8b0" stroke-width="3"/>
<path d="M1469,364.4 L1541.6,354.1" stroke="#4f86d6" stroke-width="7" stroke-linecap="round"/>
<path d="M1505,361 L1525,358.5" stroke="#dce8f8" stroke-width="1.6"/>
<line x1="1599.7" y1="360.5" x2="1599.7" y2="415.0" stroke="#2f5597" stroke-width="5.5"/>
<polygon points="1599.7,436.0 1590.2,414.0 1609.2,414.0" fill="#2f5597"/>
<text x="1645" y="402" font-family="'Liberation Serif', serif" font-size="27.5" font-weight="bold" font-style="normal" fill="#111" text-anchor="start" >Blood glucose</text>
<rect x="1430.6" y="515" width="15" height="41" fill="#f4b8c8" stroke="#c87898" stroke-width="0.8"/>
<circle cx="1438.1" cy="540" r="4.5" fill="#7a5ab0"/>
<rect x="1446.1" y="515" width="15" height="41" fill="#f4b8c8" stroke="#c87898" stroke-width="0.8"/>
<circle cx="1453.6" cy="540" r="4.5" fill="#7a5ab0"/>
<rect x="1461.6" y="515" width="15" height="41" fill="#f4b8c8" stroke="#c87898" stroke-width="0.8"/>
<circle cx="1469.1" cy="540" r="4.5" fill="#7a5ab0"/>
<path d="M1479.1,515 C1489.1,513 1491.1,520 1488.1,530 C1486.1,538 1491.1,548 1489.1,556 L1480.1,556 C1479.1,548 1483.1,538 1481.1,530 C1478.1,520 1477.1,517 1479.1,515 Z" fill="#eef2a8" stroke="#b0b070" stroke-width="0.8"/>
<ellipse cx="1484.6" cy="523" rx="5" ry="8" fill="#9ad0f0"/>
<rect x="1492.6" y="515" width="15" height="41" fill="#f4b8c8" stroke="#c87898" stroke-width="0.8"/>
<circle cx="1500.1" cy="540" r="4.5" fill="#7a5ab0"/>
<rect x="1508.1" y="515" width="15" height="41" fill="#f4b8c8" stroke="#c87898" stroke-width="0.8"/>
<circle cx="1515.6" cy="540" r="4.5" fill="#7a5ab0"/>
<rect x="1523.6" y="515" width="15" height="41" fill="#f4b8c8" stroke="#c87898" stroke-width="0.8"/>
<circle cx="1531.1" cy="540" r="4.5" fill="#7a5ab0"/>
<path d="M1541.1,515 C1551.1,513 1553.1,520 1550.1,530 C1548.1,538 1553.1,548 1551.1,556 L1542.1,556 C1541.1,548 1545.1,538 1543.1,530 C1540.1,520 1539.1,517 1541.1,515 Z" fill="#eef2a8" stroke="#b0b070" stroke-width="0.8"/>
<ellipse cx="1546.6" cy="523" rx="5" ry="8" fill="#9ad0f0"/>
<rect x="1554.6" y="515" width="15" height="41" fill="#f4b8c8" stroke="#c87898" stroke-width="0.8"/>
<circle cx="1562.1" cy="540" r="4.5" fill="#7a5ab0"/>
<line x1="1430" y1="557" x2="1572" y2="557" stroke="#8ac0e0" stroke-width="1.5" stroke-dasharray="2 4"/>
<line x1="1599.7" y1="567.6" x2="1599.7" y2="512.6" stroke="#f00" stroke-width="6"/>
<polygon points="1599.7,489.6 1609.2,513.6 1590.2,513.6" fill="#f00"/>
<text x="1642" y="548" font-family="'Liberation Serif', serif" font-size="27.9" font-weight="bold" font-style="normal" fill="#111" text-anchor="start" >Intestinal barrier</text>
<polygon points="1334,256 1363.5,256 1363.5,226.5 1388,287.4 1363.5,348.3 1363.5,319 1334,319" fill="url(#chev)"/>
<path d="M269,911.5 C600,905 1000,903 1300,909 C1500,909 1700,908 1818,907.5 L1818,1015 L278,1015 Z" fill="#c3d3f3" stroke="#7ea0dc" stroke-width="1.2"/>
<path d="M1817,907.8 L1826,907.8 L1826,997.5 L1817,997.5 M1826,951.7 L1836,951.7" fill="none" stroke="#222" stroke-width="1.5"/>
<path d="M265,981.0 C261,1006.0 265,1032.0 263,1059.0 C263,1068.0 272,1068.0 282,1068.0 L314.4,1068.0 C324.4,1068.0 333.4,1068.0 333.4,1059.0 C331.4,1032.0 335.4,1006.0 331.4,981.0 Z" fill="#dc84a6"/>
<path d="M265,985.0 L265.0,968.1 A3.1,3.1 0 0 1 271.2,968.1 L271.2,981.0 Q272.4,983.0 273.6,981.0 L273.6,968.1 A3.1,3.1 0 0 1 279.8,968.1 L279.8,981.0 Q281.0,983.0 282.2,981.0 L282.2,968.1 A3.1,3.1 0 0 1 288.4,968.1 L288.4,981.0 Q289.6,983.0 290.8,981.0 L290.8,968.1 A3.1,3.1 0 0 1 297.0,968.1 L297.0,981.0 Q298.2,983.0 299.4,981.0 L299.4,968.1 A3.1,3.1 0 0 1 305.6,968.1 L305.6,981.0 Q306.8,983.0 308.0,981.0 L308.0,968.1 A3.1,3.1 0 0 1 314.2,968.1 L314.2,981.0 Q315.4,983.0 316.6,981.0 L316.6,968.1 A3.1,3.1 0 0 1 322.8,968.1 L322.8,981.0 Q324.0,983.0 325.2,981.0 L325.2,968.1 A3.1,3.1 0 0 1 331.4,968.1 L331.4,981.0 L331.4,985.0 Z" fill="none" stroke="#3a3a3a" stroke-width="3.2" stroke-linejoin="round"/>
<path d="M265,985.0 L265.0,968.1 A3.1,3.1 0 0 1 271.2,968.1 L271.2,981.0 Q272.4,983.0 273.6,981.0 L273.6,968.1 A3.1,3.1 0 0 1 279.8,968.1 L279.8,981.0 Q281.0,983.0 282.2,981.0 L282.2,968.1 A3.1,3.1 0 0 1 288.4,968.1 L288.4,981.0 Q289.6,983.0 290.8,981.0 L290.8,968.1 A3.1,3.1 0 0 1 297.0,968.1 L297.0,981.0 Q298.2,983.0 299.4,981.0 L299.4,968.1 A3.1,3.1 0 0 1 305.6,968.1 L305.6,981.0 Q306.8,983.0 308.0,981.0 L308.0,968.1 A3.1,3.1 0 0 1 314.2,968.1 L314.2,981.0 Q315.4,983.0 316.6,981.0 L316.6,968.1 A3.1,3.1 0 0 1 322.8,968.1 L322.8,981.0 Q324.0,983.0 325.2,981.0 L325.2,968.1 A3.1,3.1 0 0 1 331.4,968.1 L331.4,981.0 L331.4,985.0 Z" fill="#dc84a6" stroke="#fff" stroke-width="1.5" stroke-linejoin="round"/>
<rect x="264.5" y="982.0" width="67.39999999999998" height="7" fill="#dc84a6"/>
<path d="M265,981.0 C261,1006.0 265,1032.0 263,1059.0 C263,1068.0 272,1068.0 282,1068.0 L314.4,1068.0 C324.4,1068.0 333.4,1068.0 333.4,1059.0 C331.4,1032.0 335.4,1006.0 331.4,981.0" fill="none" stroke="#111" stroke-width="1.8" stroke-linejoin="round"/>
<path d="M267,983.0 C264,1006.0 267,1032.0 265.5,1058.0 C266,1065.0 272,1065.5 282,1065.5 L314.4,1065.5 C324.4,1065.5 330.4,1065.0 330.9,1058.0 C329.4,1032.0 332.4,1006.0 329.4,983.0" fill="none" stroke="#fff" stroke-width="2"/>
<path d="M270,993.0 C287,989.0 307,983.0 326.4,985.0 L324.4,997.0 C307,995.0 284,1005.0 272,1021.0 Z" fill="#e596b6" opacity="0.8"/>
<path d="M309.4,1057.0 C314.4,1032.0 326.4,1027.0 328.4,1047.0 L328.4,1062.0 Z" fill="#e596b6" opacity="0.8"/>
<ellipse cx="291.7" cy="1040.0" rx="12" ry="10.2" fill="#8b3a0a"/>
<path d="M339,982.1511111111112 C335,1007.1511111111112 339,1032.334193548387 337,1059.334193548387 C337,1068.334193548387 346,1068.334193548387 356,1068.334193548387 L384.8,1068.334193548387 C394.8,1068.334193548387 403.8,1068.334193548387 403.8,1059.334193548387 C401.8,1032.334193548387 405.8,1007.1511111111112 401.8,982.1511111111112 Z" fill="#dc84a6"/>
<path d="M339,986.1511111111112 L339.0,969.0 A2.9,2.9 0 0 1 344.8,969.0 L344.8,982.2 Q345.9,984.2 347.1,982.2 L347.1,969.0 A2.9,2.9 0 0 1 352.9,969.0 L352.9,982.2 Q354.1,984.2 355.3,982.2 L355.3,969.0 A2.9,2.9 0 0 1 361.1,969.0 L361.1,982.2 Q362.2,984.2 363.4,982.2 L363.4,969.0 A2.9,2.9 0 0 1 369.2,969.0 L369.2,982.2 Q370.4,984.2 371.6,982.2 L371.6,969.0 A2.9,2.9 0 0 1 377.4,969.0 L377.4,982.2 Q378.6,984.2 379.8,982.2 L379.8,969.0 A2.9,2.9 0 0 1 385.5,969.0 L385.5,982.2 Q386.7,984.2 387.9,982.2 L387.9,969.0 A2.9,2.9 0 0 1 393.7,969.0 L393.7,982.2 Q394.9,984.2 396.1,982.2 L396.1,969.0 A2.9,2.9 0 0 1 401.8,969.0 L401.8,982.2 L401.8,986.1511111111112 Z" fill="none" stroke="#3a3a3a" stroke-width="3.2" stroke-linejoin="round"/>
<path d="M339,986.1511111111112 L339.0,969.0 A2.9,2.9 0 0 1 344.8,969.0 L344.8,982.2 Q345.9,984.2 347.1,982.2 L347.1,969.0 A2.9,2.9 0 0 1 352.9,969.0 L352.9,982.2 Q354.1,984.2 355.3,982.2 L355.3,969.0 A2.9,2.9 0 0 1 361.1,969.0 L361.1,982.2 Q362.2,984.2 363.4,982.2 L363.4,969.0 A2.9,2.9 0 0 1 369.2,969.0 L369.2,982.2 Q370.4,984.2 371.6,982.2 L371.6,969.0 A2.9,2.9 0 0 1 377.4,969.0 L377.4,982.2 Q378.6,984.2 379.8,982.2 L379.8,969.0 A2.9,2.9 0 0 1 385.5,969.0 L385.5,982.2 Q386.7,984.2 387.9,982.2 L387.9,969.0 A2.9,2.9 0 0 1 393.7,969.0 L393.7,982.2 Q394.9,984.2 396.1,982.2 L396.1,969.0 A2.9,2.9 0 0 1 401.8,969.0 L401.8,982.2 L401.8,986.1511111111112 Z" fill="#dc84a6" stroke="#fff" stroke-width="1.5" stroke-linejoin="round"/>
<rect x="338.5" y="983.1511111111112" width="63.80000000000001" height="7" fill="#dc84a6"/>
<path d="M339,982.1511111111112 C335,1007.1511111111112 339,1032.334193548387 337,1059.334193548387 C337,1068.334193548387 346,1068.334193548387 356,1068.334193548387 L384.8,1068.334193548387 C394.8,1068.334193548387 403.8,1068.334193548387 403.8,1059.334193548387 C401.8,1032.334193548387 405.8,1007.1511111111112 401.8,982.1511111111112" fill="none" stroke="#111" stroke-width="1.8" stroke-linejoin="round"/>
<path d="M341,984.1511111111112 C338,1007.1511111111112 341,1032.334193548387 339.5,1058.334193548387 C340,1065.334193548387 346,1065.834193548387 356,1065.834193548387 L384.8,1065.834193548387 C394.8,1065.834193548387 400.8,1065.334193548387 401.3,1058.334193548387 C399.8,1032.334193548387 402.8,1007.1511111111112 399.8,984.1511111111112" fill="none" stroke="#fff" stroke-width="2"/>
<path d="M344,994.1511111111112 C361,990.1511111111112 381,984.1511111111112 396.8,986.1511111111112 L394.8,998.1511111111112 C381,996.1511111111112 358,1006.1511111111112 346,1022.1511111111112 Z" fill="#e596b6" opacity="0.8"/>
<path d="M379.8,1057.334193548387 C384.8,1032.334193548387 396.8,1027.334193548387 398.8,1047.334193548387 L398.8,1062.334193548387 Z" fill="#e596b6" opacity="0.8"/>
<ellipse cx="364.2" cy="1040.3" rx="12" ry="10.2" fill="#8b3a0a"/>
<path d="M409,983.24 C405,1008.24 409,1032.6503225806453 407,1059.6503225806453 C407,1068.6503225806453 416,1068.6503225806453 426,1068.6503225806453 L455,1068.6503225806453 C465,1068.6503225806453 474,1068.6503225806453 474,1059.6503225806453 C472,1032.6503225806453 476,1008.24 472,983.24 Z" fill="#dc84a6"/>
<path d="M409,987.24 L409.0,970.1 A2.9,2.9 0 0 1 414.8,970.1 L414.8,983.2 Q416.0,985.2 417.2,983.2 L417.2,970.1 A2.9,2.9 0 0 1 422.9,970.1 L422.9,983.2 Q424.1,985.2 425.3,983.2 L425.4,970.1 A2.9,2.9 0 0 1 431.1,970.1 L431.1,983.2 Q432.3,985.2 433.5,983.2 L433.5,970.1 A2.9,2.9 0 0 1 439.3,970.1 L439.3,983.2 Q440.5,985.2 441.7,983.2 L441.7,970.1 A2.9,2.9 0 0 1 447.5,970.1 L447.5,983.2 Q448.7,985.2 449.9,983.2 L449.9,970.1 A2.9,2.9 0 0 1 455.6,970.1 L455.6,983.2 Q456.8,985.2 458.0,983.2 L458.1,970.1 A2.9,2.9 0 0 1 463.8,970.1 L463.8,983.2 Q465.0,985.2 466.2,983.2 L466.2,970.1 A2.9,2.9 0 0 1 472.0,970.1 L472.0,983.2 L472,987.24 Z" fill="none" stroke="#3a3a3a" stroke-width="3.2" stroke-linejoin="round"/>
<path d="M409,987.24 L409.0,970.1 A2.9,2.9 0 0 1 414.8,970.1 L414.8,983.2 Q416.0,985.2 417.2,983.2 L417.2,970.1 A2.9,2.9 0 0 1 422.9,970.1 L422.9,983.2 Q424.1,985.2 425.3,983.2 L425.4,970.1 A2.9,2.9 0 0 1 431.1,970.1 L431.1,983.2 Q432.3,985.2 433.5,983.2 L433.5,970.1 A2.9,2.9 0 0 1 439.3,970.1 L439.3,983.2 Q440.5,985.2 441.7,983.2 L441.7,970.1 A2.9,2.9 0 0 1 447.5,970.1 L447.5,983.2 Q448.7,985.2 449.9,983.2 L449.9,970.1 A2.9,2.9 0 0 1 455.6,970.1 L455.6,983.2 Q456.8,985.2 458.0,983.2 L458.1,970.1 A2.9,2.9 0 0 1 463.8,970.1 L463.8,983.2 Q465.0,985.2 466.2,983.2 L466.2,970.1 A2.9,2.9 0 0 1 472.0,970.1 L472.0,983.2 L472,987.24 Z" fill="#dc84a6" stroke="#fff" stroke-width="1.5" stroke-linejoin="round"/>
<rect x="408.5" y="984.24" width="64" height="7" fill="#dc84a6"/>
<path d="M409,983.24 C405,1008.24 409,1032.6503225806453 407,1059.6503225806453 C407,1068.6503225806453 416,1068.6503225806453 426,1068.6503225806453 L455,1068.6503225806453 C465,1068.6503225806453 474,1068.6503225806453 474,1059.6503225806453 C472,1032.6503225806453 476,1008.24 472,983.24" fill="none" stroke="#111" stroke-width="1.8" stroke-linejoin="round"/>
<path d="M411,985.24 C408,1008.24 411,1032.6503225806453 409.5,1058.6503225806453 C410,1065.6503225806453 416,1066.1503225806453 426,1066.1503225806453 L455,1066.1503225806453 C465,1066.1503225806453 471,1065.6503225806453 471.5,1058.6503225806453 C470,1032.6503225806453 473,1008.24 470,985.24" fill="none" stroke="#fff" stroke-width="2"/>
<path d="M414,995.24 C431,991.24 451,985.24 467,987.24 L465,999.24 C451,997.24 428,1007.24 416,1023.24 Z" fill="#e596b6" opacity="0.8"/>
<path d="M450,1057.6503225806453 C455,1032.6503225806453 467,1027.6503225806453 469,1047.6503225806453 L469,1062.6503225806453 Z" fill="#e596b6" opacity="0.8"/>
<ellipse cx="434.3" cy="1040.7" rx="12" ry="10.2" fill="#8b3a0a"/>
<rect x="479.7" y="981.3708888888889" width="66.59999999999997" height="87.6077562724015" rx="9" fill="url(#gob)" stroke="#111" stroke-width="3"/>
<rect x="482.2" y="983.8708888888889" width="61.599999999999966" height="82.6077562724015" rx="7" fill="none" stroke="#fff" stroke-width="1.5"/>
<ellipse cx="506.4" cy="998.7" rx="8.7" ry="6.4" fill="#7296d8" opacity="0.85"/>
<ellipse cx="523.2" cy="999.9" rx="6" ry="5.5" fill="#7296d8" opacity="0.85"/>
<ellipse cx="493.7" cy="1012.6" rx="8" ry="7" fill="#7296d8" opacity="0.85"/>
<ellipse cx="515.7" cy="1013.8" rx="6.4" ry="6.4" fill="#7296d8" opacity="0.85"/>
<ellipse cx="533.6" cy="1014.4" rx="8" ry="7.5" fill="#7296d8" opacity="0.85"/>
<ellipse cx="504.1" cy="1028.2" rx="6.8" ry="6.8" fill="#7296d8" opacity="0.85"/>
<ellipse cx="524.9" cy="1029.4" rx="8.4" ry="8" fill="#7296d8" opacity="0.85"/>
<ellipse cx="524.9" cy="1054.0" rx="11.6" ry="10.5" fill="#1f3a6e"/>
<path d="M552,985.4644444444444 C548,1010.4644444444444 552,1033.296129032258 550,1060.296129032258 C550,1069.296129032258 559,1069.296129032258 569,1069.296129032258 L590.7,1069.296129032258 C600.7,1069.296129032258 609.7,1069.296129032258 609.7,1060.296129032258 C607.7,1033.296129032258 611.7,1010.4644444444444 607.7,985.4644444444444 Z" fill="url(#lcell)"/>
<path d="M552,989.4644444444444 L552.0,978.0 A3.6,3.6 0 0 1 559.1,978.0 L559.1,985.5 Q561.6,987.5 564.1,985.5 L564.1,983.0 A3.6,3.6 0 0 1 571.3,983.0 L571.3,985.5 Q573.8,987.5 576.3,985.5 L576.3,980.5 A3.6,3.6 0 0 1 583.4,980.5 L583.4,985.5 Q585.9,987.5 588.4,985.5 L588.4,978.0 A3.6,3.6 0 0 1 595.6,978.0 L595.6,985.5 Q598.1,987.5 600.6,985.5 L600.6,983.0 A3.6,3.6 0 0 1 607.7,983.0 L607.7,985.5 L607.7,989.4644444444444 Z" fill="none" stroke="#3a3a3a" stroke-width="3.2" stroke-linejoin="round"/>
<path d="M552,989.4644444444444 L552.0,978.0 A3.6,3.6 0 0 1 559.1,978.0 L559.1,985.5 Q561.6,987.5 564.1,985.5 L564.1,983.0 A3.6,3.6 0 0 1 571.3,983.0 L571.3,985.5 Q573.8,987.5 576.3,985.5 L576.3,980.5 A3.6,3.6 0 0 1 583.4,980.5 L583.4,985.5 Q585.9,987.5 588.4,985.5 L588.4,978.0 A3.6,3.6 0 0 1 595.6,978.0 L595.6,985.5 Q598.1,987.5 600.6,985.5 L600.6,983.0 A3.6,3.6 0 0 1 607.7,983.0 L607.7,985.5 L607.7,989.4644444444444 Z" fill="#f9c4d4" stroke="#fff" stroke-width="1.5" stroke-linejoin="round"/>
<rect x="551.5" y="986.4644444444444" width="56.700000000000045" height="7" fill="#f9c4d4"/>
<path d="M552,985.4644444444444 C548,1010.4644444444444 552,1033.296129032258 550,1060.296129032258 C550,1069.296129032258 559,1069.296129032258 569,1069.296129032258 L590.7,1069.296129032258 C600.7,1069.296129032258 609.7,1069.296129032258 609.7,1060.296129032258 C607.7,1033.296129032258 611.7,1010.4644444444444 607.7,985.4644444444444" fill="none" stroke="#111" stroke-width="1.8" stroke-linejoin="round"/>
<path d="M554,987.4644444444444 C551,1010.4644444444444 554,1033.296129032258 552.5,1059.296129032258 C553,1066.296129032258 559,1066.796129032258 569,1066.796129032258 L590.7,1066.796129032258 C600.7,1066.796129032258 606.7,1066.296129032258 607.2,1059.296129032258 C605.7,1033.296129032258 608.7,1010.4644444444444 605.7,987.4644444444444" fill="none" stroke="#fff" stroke-width="2"/>
<ellipse cx="586.0" cy="1050.3" rx="12" ry="10.2" fill="#8b3a0a"/>
<path d="M615.5,986.4522222222222 C611.5,1011.4522222222222 615.5,1033.5829032258064 613.5,1060.5829032258064 C613.5,1069.5829032258064 622.5,1069.5829032258064 632.5,1069.5829032258064 L664.6,1069.5829032258064 C674.6,1069.5829032258064 683.6,1069.5829032258064 683.6,1060.5829032258064 C681.6,1033.5829032258064 685.6,1011.4522222222222 681.6,986.4522222222222 Z" fill="#dc84a6"/>
<path d="M615.5,990.4522222222222 L615.5,973.5 A3.1,3.1 0 0 1 621.7,973.5 L621.7,986.5 Q622.9,988.5 624.1,986.5 L624.1,973.5 A3.1,3.1 0 0 1 630.2,973.5 L630.2,986.5 Q631.4,988.5 632.6,986.5 L632.6,973.5 A3.1,3.1 0 0 1 638.8,973.5 L638.8,986.5 Q640.0,988.5 641.2,986.5 L641.2,973.5 A3.1,3.1 0 0 1 647.4,973.5 L647.4,986.5 Q648.6,988.5 649.8,986.5 L649.8,973.5 A3.1,3.1 0 0 1 655.9,973.5 L655.9,986.5 Q657.1,988.5 658.3,986.5 L658.3,973.5 A3.1,3.1 0 0 1 664.5,973.5 L664.5,986.5 Q665.7,988.5 666.9,986.5 L666.9,973.5 A3.1,3.1 0 0 1 673.0,973.5 L673.0,986.5 Q674.2,988.5 675.4,986.5 L675.4,973.5 A3.1,3.1 0 0 1 681.6,973.5 L681.6,986.5 L681.6,990.4522222222222 Z" fill="none" stroke="#3a3a3a" stroke-width="3.2" stroke-linejoin="round"/>
<path d="M615.5,990.4522222222222 L615.5,973.5 A3.1,3.1 0 0 1 621.7,973.5 L621.7,986.5 Q622.9,988.5 624.1,986.5 L624.1,973.5 A3.1,3.1 0 0 1 630.2,973.5 L630.2,986.5 Q631.4,988.5 632.6,986.5 L632.6,973.5 A3.1,3.1 0 0 1 638.8,973.5 L638.8,986.5 Q640.0,988.5 641.2,986.5 L641.2,973.5 A3.1,3.1 0 0 1 647.4,973.5 L647.4,986.5 Q648.6,988.5 649.8,986.5 L649.8,973.5 A3.1,3.1 0 0 1 655.9,973.5 L655.9,986.5 Q657.1,988.5 658.3,986.5 L658.3,973.5 A3.1,3.1 0 0 1 664.5,973.5 L664.5,986.5 Q665.7,988.5 666.9,986.5 L666.9,973.5 A3.1,3.1 0 0 1 673.0,973.5 L673.0,986.5 Q674.2,988.5 675.4,986.5 L675.4,973.5 A3.1,3.1 0 0 1 681.6,973.5 L681.6,986.5 L681.6,990.4522222222222 Z" fill="#dc84a6" stroke="#fff" stroke-width="1.5" stroke-linejoin="round"/>
<rect x="615.0" y="987.4522222222222" width="67.10000000000002" height="7" fill="#dc84a6"/>
<path d="M615.5,986.4522222222222 C611.5,1011.4522222222222 615.5,1033.5829032258064 613.5,1060.5829032258064 C613.5,1069.5829032258064 622.5,1069.5829032258064 632.5,1069.5829032258064 L664.6,1069.5829032258064 C674.6,1069.5829032258064 683.6,1069.5829032258064 683.6,1060.5829032258064 C681.6,1033.5829032258064 685.6,1011.4522222222222 681.6,986.4522222222222" fill="none" stroke="#111" stroke-width="1.8" stroke-linejoin="round"/>
<path d="M617.5,988.4522222222222 C614.5,1011.4522222222222 617.5,1033.5829032258064 616.0,1059.5829032258064 C616.5,1066.5829032258064 622.5,1067.0829032258064 632.5,1067.0829032258064 L664.6,1067.0829032258064 C674.6,1067.0829032258064 680.6,1066.5829032258064 681.1,1059.5829032258064 C679.6,1033.5829032258064 682.6,1011.4522222222222 679.6,988.4522222222222" fill="none" stroke="#fff" stroke-width="2"/>
<path d="M620.5,998.4522222222222 C637.5,994.4522222222222 657.5,988.4522222222222 676.6,990.4522222222222 L674.6,1002.4522222222222 C657.5,1000.4522222222222 634.5,1010.4522222222222 622.5,1026.4522222222222 Z" fill="#e596b6" opacity="0.8"/>
<path d="M659.6,1058.5829032258064 C664.6,1033.5829032258064 676.6,1028.5829032258064 678.6,1048.5829032258064 L678.6,1063.5829032258064 Z" fill="#e596b6" opacity="0.8"/>
<ellipse cx="642.1" cy="1041.6" rx="12" ry="10.2" fill="#8b3a0a"/>
<path d="M690,987.6111111111111 C686,1012.6111111111111 690,1033.9193548387098 688,1060.9193548387098 C688,1069.9193548387098 697,1069.9193548387098 707,1069.9193548387098 L728.6,1069.9193548387098 C738.6,1069.9193548387098 747.6,1069.9193548387098 747.6,1060.9193548387098 C745.6,1033.9193548387098 749.6,1012.6111111111111 745.6,987.6111111111111 Z" fill="url(#lcell)"/>
<path d="M690,991.6111111111111 L690.0,980.2 A3.6,3.6 0 0 1 697.1,980.2 L697.1,987.6 Q699.6,989.6 702.1,987.6 L702.1,985.2 A3.6,3.6 0 0 1 709.2,985.2 L709.2,987.6 Q711.7,989.6 714.2,987.6 L714.2,982.7 A3.6,3.6 0 0 1 721.4,982.7 L721.4,987.6 Q723.9,989.6 726.4,987.6 L726.4,980.2 A3.6,3.6 0 0 1 733.5,980.2 L733.5,987.6 Q736.0,989.6 738.5,987.6 L738.5,985.2 A3.6,3.6 0 0 1 745.6,985.2 L745.6,987.6 L745.6,991.6111111111111 Z" fill="none" stroke="#3a3a3a" stroke-width="3.2" stroke-linejoin="round"/>
<path d="M690,991.6111111111111 L690.0,980.2 A3.6,3.6 0 0 1 697.1,980.2 L697.1,987.6 Q699.6,989.6 702.1,987.6 L702.1,985.2 A3.6,3.6 0 0 1 709.2,985.2 L709.2,987.6 Q711.7,989.6 714.2,987.6 L714.2,982.7 A3.6,3.6 0 0 1 721.4,982.7 L721.4,987.6 Q723.9,989.6 726.4,987.6 L726.4,980.2 A3.6,3.6 0 0 1 733.5,980.2 L733.5,987.6 Q736.0,989.6 738.5,987.6 L738.5,985.2 A3.6,3.6 0 0 1 745.6,985.2 L745.6,987.6 L745.6,991.6111111111111 Z" fill="#f9c4d4" stroke="#fff" stroke-width="1.5" stroke-linejoin="round"/>
<rect x="689.5" y="988.6111111111111" width="56.60000000000002" height="7" fill="#f9c4d4"/>
<path d="M690,987.6111111111111 C686,1012.6111111111111 690,1033.9193548387098 688,1060.9193548387098 C688,1069.9193548387098 697,1069.9193548387098 707,1069.9193548387098 L728.6,1069.9193548387098 C738.6,1069.9193548387098 747.6,1069.9193548387098 747.6,1060.9193548387098 C745.6,1033.9193548387098 749.6,1012.6111111111111 745.6,987.6111111111111" fill="none" stroke="#111" stroke-width="1.8" stroke-linejoin="round"/>
<path d="M692,989.6111111111111 C689,1012.6111111111111 692,1033.9193548387098 690.5,1059.9193548387098 C691,1066.9193548387098 697,1067.4193548387098 707,1067.4193548387098 L728.6,1067.4193548387098 C738.6,1067.4193548387098 744.6,1066.9193548387098 745.1,1059.9193548387098 C743.6,1033.9193548387098 746.6,1012.6111111111111 743.6,989.6111111111111" fill="none" stroke="#fff" stroke-width="2"/>
<ellipse cx="724.0" cy="1050.9" rx="12" ry="10.2" fill="#8b3a0a"/>
<path d="M753.3,988.1392727272728 C749.3,1013.1392727272728 753.3,1034.2052258064516 751.3,1061.2052258064516 C751.3,1070.2052258064516 760.3,1070.2052258064516 770.3,1070.2052258064516 L799,1070.2052258064516 C809,1070.2052258064516 818,1070.2052258064516 818,1061.2052258064516 C816,1034.2052258064516 820,1013.1392727272728 816,988.1392727272728 Z" fill="#dc84a6"/>
<path d="M753.3,992.1392727272728 L753.3,975.0 A2.9,2.9 0 0 1 759.0,975.0 L759.0,988.1 Q760.2,990.1 761.4,988.1 L761.4,975.0 A2.9,2.9 0 0 1 767.2,975.0 L767.2,988.1 Q768.4,990.1 769.6,988.1 L769.6,975.0 A2.9,2.9 0 0 1 775.3,975.0 L775.3,988.1 Q776.5,990.1 777.7,988.1 L777.7,975.0 A2.9,2.9 0 0 1 783.4,975.0 L783.4,988.1 Q784.6,990.1 785.8,988.1 L785.9,975.0 A2.9,2.9 0 0 1 791.6,975.0 L791.6,988.1 Q792.8,990.1 794.0,988.1 L794.0,975.0 A2.9,2.9 0 0 1 799.7,975.0 L799.7,988.1 Q800.9,990.1 802.1,988.1 L802.1,975.0 A2.9,2.9 0 0 1 807.9,975.0 L807.9,988.1 Q809.1,990.1 810.3,988.1 L810.3,975.0 A2.9,2.9 0 0 1 816.0,975.0 L816.0,988.1 L816,992.1392727272728 Z" fill="none" stroke="#3a3a3a" stroke-width="3.2" stroke-linejoin="round"/>
<path d="M753.3,992.1392727272728 L753.3,975.0 A2.9,2.9 0 0 1 759.0,975.0 L759.0,988.1 Q760.2,990.1 761.4,988.1 L761.4,975.0 A2.9,2.9 0 0 1 767.2,975.0 L767.2,988.1 Q768.4,990.1 769.6,988.1 L769.6,975.0 A2.9,2.9 0 0 1 775.3,975.0 L775.3,988.1 Q776.5,990.1 777.7,988.1 L777.7,975.0 A2.9,2.9 0 0 1 783.4,975.0 L783.4,988.1 Q784.6,990.1 785.8,988.1 L785.9,975.0 A2.9,2.9 0 0 1 791.6,975.0 L791.6,988.1 Q792.8,990.1 794.0,988.1 L794.0,975.0 A2.9,2.9 0 0 1 799.7,975.0 L799.7,988.1 Q800.9,990.1 802.1,988.1 L802.1,975.0 A2.9,2.9 0 0 1 807.9,975.0 L807.9,988.1 Q809.1,990.1 810.3,988.1 L810.3,975.0 A2.9,2.9 0 0 1 816.0,975.0 L816.0,988.1 L816,992.1392727272728 Z" fill="#dc84a6" stroke="#fff" stroke-width="1.5" stroke-linejoin="round"/>
<rect x="752.8" y="989.1392727272728" width="63.700000000000045" height="7" fill="#dc84a6"/>
<path d="M753.3,988.1392727272728 C749.3,1013.1392727272728 753.3,1034.2052258064516 751.3,1061.2052258064516 C751.3,1070.2052258064516 760.3,1070.2052258064516 770.3,1070.2052258064516 L799,1070.2052258064516 C809,1070.2052258064516 818,1070.2052258064516 818,1061.2052258064516 C816,1034.2052258064516 820,1013.1392727272728 816,988.1392727272728" fill="none" stroke="#111" stroke-width="1.8" stroke-linejoin="round"/>
<path d="M755.3,990.1392727272728 C752.3,1013.1392727272728 755.3,1034.2052258064516 753.8,1060.2052258064516 C754.3,1067.2052258064516 760.3,1067.7052258064516 770.3,1067.7052258064516 L799,1067.7052258064516 C809,1067.7052258064516 815,1067.2052258064516 815.5,1060.2052258064516 C814,1034.2052258064516 817,1013.1392727272728 814,990.1392727272728" fill="none" stroke="#fff" stroke-width="2"/>
<path d="M758.3,1000.1392727272728 C775.3,996.1392727272728 795.3,990.1392727272728 811,992.1392727272728 L809,1004.1392727272728 C795.3,1002.1392727272728 772.3,1012.1392727272728 760.3,1028.1392727272728 Z" fill="#e596b6" opacity="0.8"/>
<path d="M794,1059.2052258064516 C799,1034.2052258064516 811,1029.2052258064516 813,1049.2052258064516 L813,1064.2052258064516 Z" fill="#e596b6" opacity="0.8"/>
<ellipse cx="778.5" cy="1042.2" rx="12" ry="10.2" fill="#8b3a0a"/>
<path d="M825.5,988.4018181818182 C821.5,1013.4018181818182 825.5,1034.5312903225806 823.5,1061.5312903225806 C823.5,1070.5312903225806 832.5,1070.5312903225806 842.5,1070.5312903225806 L864,1070.5312903225806 C874,1070.5312903225806 883,1070.5312903225806 883,1061.5312903225806 C881,1034.5312903225806 885,1013.4018181818182 881,988.4018181818182 Z" fill="url(#lcell)"/>
<path d="M825.5,992.4018181818182 L825.5,981.0 A3.5,3.5 0 0 1 832.6,981.0 L832.6,988.4 Q835.1,990.4 837.6,988.4 L837.6,986.0 A3.5,3.5 0 0 1 844.7,986.0 L844.7,988.4 Q847.2,990.4 849.7,988.4 L849.7,983.5 A3.5,3.5 0 0 1 856.8,983.5 L856.8,988.4 Q859.3,990.4 861.8,988.4 L861.8,981.0 A3.5,3.5 0 0 1 868.9,981.0 L868.9,988.4 Q871.4,990.4 873.9,988.4 L873.9,986.0 A3.5,3.5 0 0 1 881.0,986.0 L881.0,988.4 L881,992.4018181818182 Z" fill="none" stroke="#3a3a3a" stroke-width="3.2" stroke-linejoin="round"/>
<path d="M825.5,992.4018181818182 L825.5,981.0 A3.5,3.5 0 0 1 832.6,981.0 L832.6,988.4 Q835.1,990.4 837.6,988.4 L837.6,986.0 A3.5,3.5 0 0 1 844.7,986.0 L844.7,988.4 Q847.2,990.4 849.7,988.4 L849.7,983.5 A3.5,3.5 0 0 1 856.8,983.5 L856.8,988.4 Q859.3,990.4 861.8,988.4 L861.8,981.0 A3.5,3.5 0 0 1 868.9,981.0 L868.9,988.4 Q871.4,990.4 873.9,988.4 L873.9,986.0 A3.5,3.5 0 0 1 881.0,986.0 L881.0,988.4 L881,992.4018181818182 Z" fill="#f9c4d4" stroke="#fff" stroke-width="1.5" stroke-linejoin="round"/>
<rect x="825.0" y="989.4018181818182" width="56.5" height="7" fill="#f9c4d4"/>
<path d="M825.5,988.4018181818182 C821.5,1013.4018181818182 825.5,1034.5312903225806 823.5,1061.5312903225806 C823.5,1070.5312903225806 832.5,1070.5312903225806 842.5,1070.5312903225806 L864,1070.5312903225806 C874,1070.5312903225806 883,1070.5312903225806 883,1061.5312903225806 C881,1034.5312903225806 885,1013.4018181818182 881,988.4018181818182" fill="none" stroke="#111" stroke-width="1.8" stroke-linejoin="round"/>
<path d="M827.5,990.4018181818182 C824.5,1013.4018181818182 827.5,1034.5312903225806 826.0,1060.5312903225806 C826.5,1067.5312903225806 832.5,1068.0312903225806 842.5,1068.0312903225806 L864,1068.0312903225806 C874,1068.0312903225806 880,1067.5312903225806 880.5,1060.5312903225806 C879,1034.5312903225806 882,1013.4018181818182 879,990.4018181818182" fill="none" stroke="#fff" stroke-width="2"/>
<ellipse cx="859.4" cy="1051.5" rx="12" ry="10.2" fill="#8b3a0a"/>
<rect x="886.8" y="985.632" width="66.70000000000005" height="85.18516129032253" rx="9" fill="url(#gob)" stroke="#111" stroke-width="3"/>
<rect x="889.3" y="988.132" width="61.700000000000045" height="80.18516129032253" rx="7" fill="none" stroke="#fff" stroke-width="1.5"/>
<ellipse cx="913.5" cy="1002.9" rx="8.7" ry="6.4" fill="#7296d8" opacity="0.85"/>
<ellipse cx="930.3" cy="1004.1" rx="6" ry="5.5" fill="#7296d8" opacity="0.85"/>
<ellipse cx="900.8" cy="1016.8" rx="8" ry="7" fill="#7296d8" opacity="0.85"/>
<ellipse cx="922.8" cy="1018.0" rx="6.4" ry="6.4" fill="#7296d8" opacity="0.85"/>
<ellipse cx="940.7" cy="1018.6" rx="8" ry="7.5" fill="#7296d8" opacity="0.85"/>
<ellipse cx="911.2" cy="1032.4" rx="6.8" ry="6.8" fill="#7296d8" opacity="0.85"/>
<ellipse cx="932.0" cy="1033.6" rx="8.4" ry="8" fill="#7296d8" opacity="0.85"/>
<ellipse cx="932.0" cy="1055.8" rx="11.6" ry="10.5" fill="#1f3a6e"/>
<path d="M959,988.8872727272727 C955,1013.8872727272727 959,1035.1341935483872 957,1062.1341935483872 C957,1071.1341935483872 966,1071.1341935483872 976,1071.1341935483872 L1004.9000000000001,1071.1341935483872 C1014.9000000000001,1071.1341935483872 1023.9000000000001,1071.1341935483872 1023.9000000000001,1062.1341935483872 C1021.9000000000001,1035.1341935483872 1025.9,1013.8872727272727 1021.9000000000001,988.8872727272727 Z" fill="#dc84a6"/>
<path d="M959,992.8872727272727 L959.0,975.8 A2.9,2.9 0 0 1 964.8,975.8 L964.8,988.9 Q966.0,990.9 967.2,988.9 L967.2,975.8 A2.9,2.9 0 0 1 972.9,975.8 L972.9,988.9 Q974.1,990.9 975.3,988.9 L975.3,975.8 A2.9,2.9 0 0 1 981.1,975.8 L981.1,988.9 Q982.3,990.9 983.5,988.9 L983.5,975.8 A2.9,2.9 0 0 1 989.3,975.8 L989.3,988.9 Q990.5,990.9 991.7,988.9 L991.7,975.8 A2.9,2.9 0 0 1 997.4,975.8 L997.4,988.9 Q998.6,990.9 999.8,988.9 L999.8,975.8 A2.9,2.9 0 0 1 1005.6,975.8 L1005.6,988.9 Q1006.8,990.9 1008.0,988.9 L1008.0,975.8 A2.9,2.9 0 0 1 1013.7,975.8 L1013.7,988.9 Q1014.9,990.9 1016.1,988.9 L1016.1,975.8 A2.9,2.9 0 0 1 1021.9,975.8 L1021.9,988.9 L1021.9000000000001,992.8872727272727 Z" fill="none" stroke="#3a3a3a" stroke-width="3.2" stroke-linejoin="round"/>
<path d="M959,992.8872727272727 L959.0,975.8 A2.9,2.9 0 0 1 964.8,975.8 L964.8,988.9 Q966.0,990.9 967.2,988.9 L967.2,975.8 A2.9,2.9 0 0 1 972.9,975.8 L972.9,988.9 Q974.1,990.9 975.3,988.9 L975.3,975.8 A2.9,2.9 0 0 1 981.1,975.8 L981.1,988.9 Q982.3,990.9 983.5,988.9 L983.5,975.8 A2.9,2.9 0 0 1 989.3,975.8 L989.3,988.9 Q990.5,990.9 991.7,988.9 L991.7,975.8 A2.9,2.9 0 0 1 997.4,975.8 L997.4,988.9 Q998.6,990.9 999.8,988.9 L999.8,975.8 A2.9,2.9 0 0 1 1005.6,975.8 L1005.6,988.9 Q1006.8,990.9 1008.0,988.9 L1008.0,975.8 A2.9,2.9 0 0 1 1013.7,975.8 L1013.7,988.9 Q1014.9,990.9 1016.1,988.9 L1016.1,975.8 A2.9,2.9 0 0 1 1021.9,975.8 L1021.9,988.9 L1021.9000000000001,992.8872727272727 Z" fill="#dc84a6" stroke="#fff" stroke-width="1.5" stroke-linejoin="round"/>
<rect x="958.5" y="989.8872727272727" width="63.90000000000009" height="7" fill="#dc84a6"/>
<path d="M959,988.8872727272727 C955,1013.8872727272727 959,1035.1341935483872 957,1062.1341935483872 C957,1071.1341935483872 966,1071.1341935483872 976,1071.1341935483872 L1004.9000000000001,1071.1341935483872 C1014.9000000000001,1071.1341935483872 1023.9000000000001,1071.1341935483872 1023.9000000000001,1062.1341935483872 C1021.9000000000001,1035.1341935483872 1025.9,1013.8872727272727 1021.9000000000001,988.8872727272727" fill="none" stroke="#111" stroke-width="1.8" stroke-linejoin="round"/>
<path d="M961,990.8872727272727 C958,1013.8872727272727 961,1035.1341935483872 959.5,1061.1341935483872 C960,1068.1341935483872 966,1068.6341935483872 976,1068.6341935483872 L1004.9000000000001,1068.6341935483872 C1014.9000000000001,1068.6341935483872 1020.9000000000001,1068.1341935483872 1021.4000000000001,1061.1341935483872 C1019.9000000000001,1035.1341935483872 1022.9000000000001,1013.8872727272727 1019.9000000000001,990.8872727272727" fill="none" stroke="#fff" stroke-width="2"/>
<path d="M964,1000.8872727272727 C981,996.8872727272727 1001,990.8872727272727 1016.9000000000001,992.8872727272727 L1014.9000000000001,1004.8872727272727 C1001,1002.8872727272727 978,1012.8872727272727 966,1028.8872727272728 Z" fill="#e596b6" opacity="0.8"/>
<path d="M999.9000000000001,1060.1341935483872 C1004.9000000000001,1035.1341935483872 1016.9000000000001,1030.1341935483872 1018.9000000000001,1050.1341935483872 L1018.9000000000001,1065.1341935483872 Z" fill="#e596b6" opacity="0.8"/>
<ellipse cx="984.2" cy="1043.1" rx="12" ry="10.2" fill="#8b3a0a"/>
<path d="M1029.6,989.144 C1025.6,1014.144 1029.6,1035.4530322580645 1027.6,1062.4530322580645 C1027.6,1071.4530322580645 1036.6,1071.4530322580645 1046.6,1071.4530322580645 L1075,1071.4530322580645 C1085,1071.4530322580645 1094,1071.4530322580645 1094,1062.4530322580645 C1092,1035.4530322580645 1096,1014.144 1092,989.144 Z" fill="#dc84a6"/>
<path d="M1029.6,993.144 L1029.6,976.0 A2.9,2.9 0 0 1 1035.3,976.0 L1035.3,989.1 Q1036.5,991.1 1037.7,989.1 L1037.7,976.0 A2.9,2.9 0 0 1 1043.4,976.0 L1043.4,989.1 Q1044.6,991.1 1045.8,989.1 L1045.8,976.0 A2.9,2.9 0 0 1 1051.5,976.0 L1051.5,989.1 Q1052.7,991.1 1053.9,989.1 L1053.9,976.0 A2.9,2.9 0 0 1 1059.6,976.0 L1059.6,989.1 Q1060.8,991.1 1062.0,989.1 L1062.0,976.0 A2.9,2.9 0 0 1 1067.7,976.0 L1067.7,989.1 Q1068.9,991.1 1070.1,989.1 L1070.1,976.0 A2.9,2.9 0 0 1 1075.8,976.0 L1075.8,989.1 Q1077.0,991.1 1078.2,989.1 L1078.2,976.0 A2.9,2.9 0 0 1 1083.9,976.0 L1083.9,989.1 Q1085.1,991.1 1086.3,989.1 L1086.3,976.0 A2.9,2.9 0 0 1 1092.0,976.0 L1092.0,989.1 L1092,993.144 Z" fill="none" stroke="#3a3a3a" stroke-width="3.2" stroke-linejoin="round"/>
<path d="M1029.6,993.144 L1029.6,976.0 A2.9,2.9 0 0 1 1035.3,976.0 L1035.3,989.1 Q1036.5,991.1 1037.7,989.1 L1037.7,976.0 A2.9,2.9 0 0 1 1043.4,976.0 L1043.4,989.1 Q1044.6,991.1 1045.8,989.1 L1045.8,976.0 A2.9,2.9 0 0 1 1051.5,976.0 L1051.5,989.1 Q1052.7,991.1 1053.9,989.1 L1053.9,976.0 A2.9,2.9 0 0 1 1059.6,976.0 L1059.6,989.1 Q1060.8,991.1 1062.0,989.1 L1062.0,976.0 A2.9,2.9 0 0 1 1067.7,976.0 L1067.7,989.1 Q1068.9,991.1 1070.1,989.1 L1070.1,976.0 A2.9,2.9 0 0 1 1075.8,976.0 L1075.8,989.1 Q1077.0,991.1 1078.2,989.1 L1078.2,976.0 A2.9,2.9 0 0 1 1083.9,976.0 L1083.9,989.1 Q1085.1,991.1 1086.3,989.1 L1086.3,976.0 A2.9,2.9 0 0 1 1092.0,976.0 L1092.0,989.1 L1092,993.144 Z" fill="#dc84a6" stroke="#fff" stroke-width="1.5" stroke-linejoin="round"/>
<rect x="1029.1" y="990.144" width="63.40000000000009" height="7" fill="#dc84a6"/>
<path d="M1029.6,989.144 C1025.6,1014.144 1029.6,1035.4530322580645 1027.6,1062.4530322580645 C1027.6,1071.4530322580645 1036.6,1071.4530322580645 1046.6,1071.4530322580645 L1075,1071.4530322580645 C1085,1071.4530322580645 1094,1071.4530322580645 1094,1062.4530322580645 C1092,1035.4530322580645 1096,1014.144 1092,989.144" fill="none" stroke="#111" stroke-width="1.8" stroke-linejoin="round"/>
<path d="M1031.6,991.144 C1028.6,1014.144 1031.6,1035.4530322580645 1030.1,1061.4530322580645 C1030.6,1068.4530322580645 1036.6,1068.9530322580645 1046.6,1068.9530322580645 L1075,1068.9530322580645 C1085,1068.9530322580645 1091,1068.4530322580645 1091.5,1061.4530322580645 C1090,1035.4530322580645 1093,1014.144 1090,991.144" fill="none" stroke="#fff" stroke-width="2"/>
<path d="M1034.6,1001.144 C1051.6,997.144 1071.6,991.144 1087,993.144 L1085,1005.144 C1071.6,1003.144 1048.6,1013.144 1036.6,1029.144 Z" fill="#e596b6" opacity="0.8"/>
<path d="M1070,1060.4530322580645 C1075,1035.4530322580645 1087,1030.4530322580645 1089,1050.4530322580645 L1089,1065.4530322580645 Z" fill="#e596b6" opacity="0.8"/>
<ellipse cx="1054.6" cy="1043.5" rx="12" ry="10.2" fill="#8b3a0a"/>
<path d="M1103.5,989.4127272727272 C1099.5,1014.4127272727272 1103.5,1035.7867741935484 1101.5,1062.7867741935484 C1101.5,1071.7867741935484 1110.5,1071.7867741935484 1120.5,1071.7867741935484 L1144,1071.7867741935484 C1154,1071.7867741935484 1163,1071.7867741935484 1163,1062.7867741935484 C1161,1035.7867741935484 1165,1014.4127272727272 1161,989.4127272727272 Z" fill="url(#lcell)"/>
<path d="M1103.5,993.4127272727272 L1103.5,982.2 A3.8,3.8 0 0 1 1111.0,982.2 L1111.0,989.4 Q1113.5,991.4 1116.0,989.4 L1116.0,987.2 A3.8,3.8 0 0 1 1123.5,987.2 L1123.5,989.4 Q1126.0,991.4 1128.5,989.4 L1128.5,984.7 A3.8,3.8 0 0 1 1136.0,984.7 L1136.0,989.4 Q1138.5,991.4 1141.0,989.4 L1141.0,982.2 A3.8,3.8 0 0 1 1148.5,982.2 L1148.5,989.4 Q1151.0,991.4 1153.5,989.4 L1153.5,987.2 A3.8,3.8 0 0 1 1161.0,987.2 L1161.0,989.4 L1161,993.4127272727272 Z" fill="none" stroke="#3a3a3a" stroke-width="3.2" stroke-linejoin="round"/>
<path d="M1103.5,993.4127272727272 L1103.5,982.2 A3.8,3.8 0 0 1 1111.0,982.2 L1111.0,989.4 Q1113.5,991.4 1116.0,989.4 L1116.0,987.2 A3.8,3.8 0 0 1 1123.5,987.2 L1123.5,989.4 Q1126.0,991.4 1128.5,989.4 L1128.5,984.7 A3.8,3.8 0 0 1 1136.0,984.7 L1136.0,989.4 Q1138.5,991.4 1141.0,989.4 L1141.0,982.2 A3.8,3.8 0 0 1 1148.5,982.2 L1148.5,989.4 Q1151.0,991.4 1153.5,989.4 L1153.5,987.2 A3.8,3.8 0 0 1 1161.0,987.2 L1161.0,989.4 L1161,993.4127272727272 Z" fill="#f9c4d4" stroke="#fff" stroke-width="1.5" stroke-linejoin="round"/>
<rect x="1103.0" y="990.4127272727272" width="58.5" height="7" fill="#f9c4d4"/>
<path d="M1103.5,989.4127272727272 C1099.5,1014.4127272727272 1103.5,1035.7867741935484 1101.5,1062.7867741935484 C1101.5,1071.7867741935484 1110.5,1071.7867741935484 1120.5,1071.7867741935484 L1144,1071.7867741935484 C1154,1071.7867741935484 1163,1071.7867741935484 1163,1062.7867741935484 C1161,1035.7867741935484 1165,1014.4127272727272 1161,989.4127272727272" fill="none" stroke="#111" stroke-width="1.8" stroke-linejoin="round"/>
<path d="M1105.5,991.4127272727272 C1102.5,1014.4127272727272 1105.5,1035.7867741935484 1104.0,1061.7867741935484 C1104.5,1068.7867741935484 1110.5,1069.2867741935484 1120.5,1069.2867741935484 L1144,1069.2867741935484 C1154,1069.2867741935484 1160,1068.7867741935484 1160.5,1061.7867741935484 C1159,1035.7867741935484 1162,1014.4127272727272 1159,991.4127272727272" fill="none" stroke="#fff" stroke-width="2"/>
<ellipse cx="1138.6" cy="1052.8" rx="12" ry="10.2" fill="#8b3a0a"/>
<path d="M1168.7,989.6498181818182 C1164.7,1014.6498181818182 1168.7,1036.0812258064516 1166.7,1063.0812258064516 C1166.7,1072.0812258064516 1175.7,1072.0812258064516 1185.7,1072.0812258064516 L1217.8,1072.0812258064516 C1227.8,1072.0812258064516 1236.8,1072.0812258064516 1236.8,1063.0812258064516 C1234.8,1036.0812258064516 1238.8,1014.6498181818182 1234.8,989.6498181818182 Z" fill="#dc84a6"/>
<path d="M1168.7,993.6498181818182 L1168.7,976.7 A3.1,3.1 0 0 1 1174.9,976.7 L1174.9,989.6 Q1176.1,991.6 1177.3,989.6 L1177.3,976.7 A3.1,3.1 0 0 1 1183.4,976.7 L1183.4,989.6 Q1184.6,991.6 1185.8,989.6 L1185.8,976.7 A3.1,3.1 0 0 1 1192.0,976.7 L1192.0,989.6 Q1193.2,991.6 1194.4,989.6 L1194.4,976.7 A3.1,3.1 0 0 1 1200.5,976.7 L1200.5,989.6 Q1201.8,991.6 1203.0,989.6 L1203.0,976.7 A3.1,3.1 0 0 1 1209.1,976.7 L1209.1,989.6 Q1210.3,991.6 1211.5,989.6 L1211.5,976.7 A3.1,3.1 0 0 1 1217.7,976.7 L1217.7,989.6 Q1218.9,991.6 1220.1,989.6 L1220.1,976.7 A3.1,3.1 0 0 1 1226.2,976.7 L1226.2,989.6 Q1227.4,991.6 1228.6,989.6 L1228.6,976.7 A3.1,3.1 0 0 1 1234.8,976.7 L1234.8,989.6 L1234.8,993.6498181818182 Z" fill="none" stroke="#3a3a3a" stroke-width="3.2" stroke-linejoin="round"/>
<path d="M1168.7,993.6498181818182 L1168.7,976.7 A3.1,3.1 0 0 1 1174.9,976.7 L1174.9,989.6 Q1176.1,991.6 1177.3,989.6 L1177.3,976.7 A3.1,3.1 0 0 1 1183.4,976.7 L1183.4,989.6 Q1184.6,991.6 1185.8,989.6 L1185.8,976.7 A3.1,3.1 0 0 1 1192.0,976.7 L1192.0,989.6 Q1193.2,991.6 1194.4,989.6 L1194.4,976.7 A3.1,3.1 0 0 1 1200.5,976.7 L1200.5,989.6 Q1201.8,991.6 1203.0,989.6 L1203.0,976.7 A3.1,3.1 0 0 1 1209.1,976.7 L1209.1,989.6 Q1210.3,991.6 1211.5,989.6 L1211.5,976.7 A3.1,3.1 0 0 1 1217.7,976.7 L1217.7,989.6 Q1218.9,991.6 1220.1,989.6 L1220.1,976.7 A3.1,3.1 0 0 1 1226.2,976.7 L1226.2,989.6 Q1227.4,991.6 1228.6,989.6 L1228.6,976.7 A3.1,3.1 0 0 1 1234.8,976.7 L1234.8,989.6 L1234.8,993.6498181818182 Z" fill="#dc84a6" stroke="#fff" stroke-width="1.5" stroke-linejoin="round"/>
<rect x="1168.2" y="990.6498181818182" width="67.09999999999991" height="7" fill="#dc84a6"/>
<path d="M1168.7,989.6498181818182 C1164.7,1014.6498181818182 1168.7,1036.0812258064516 1166.7,1063.0812258064516 C1166.7,1072.0812258064516 1175.7,1072.0812258064516 1185.7,1072.0812258064516 L1217.8,1072.0812258064516 C1227.8,1072.0812258064516 1236.8,1072.0812258064516 1236.8,1063.0812258064516 C1234.8,1036.0812258064516 1238.8,1014.6498181818182 1234.8,989.6498181818182" fill="none" stroke="#111" stroke-width="1.8" stroke-linejoin="round"/>
<path d="M1170.7,991.6498181818182 C1167.7,1014.6498181818182 1170.7,1036.0812258064516 1169.2,1062.0812258064516 C1169.7,1069.0812258064516 1175.7,1069.5812258064516 1185.7,1069.5812258064516 L1217.8,1069.5812258064516 C1227.8,1069.5812258064516 1233.8,1069.0812258064516 1234.3,1062.0812258064516 C1232.8,1036.0812258064516 1235.8,1014.6498181818182 1232.8,991.6498181818182" fill="none" stroke="#fff" stroke-width="2"/>
<path d="M1173.7,1001.6498181818182 C1190.7,997.6498181818182 1210.7,991.6498181818182 1229.8,993.6498181818182 L1227.8,1005.6498181818182 C1210.7,1003.6498181818182 1187.7,1013.6498181818182 1175.7,1029.6498181818183 Z" fill="#e596b6" opacity="0.8"/>
<path d="M1212.8,1061.0812258064516 C1217.8,1036.0812258064516 1229.8,1031.0812258064516 1231.8,1051.0812258064516 L1231.8,1066.0812258064516 Z" fill="#e596b6" opacity="0.8"/>
<ellipse cx="1195.3" cy="1044.1" rx="12" ry="10.2" fill="#8b3a0a"/>
<path d="M1242.6,989.9185454545454 C1238.6,1014.9185454545454 1242.6,1036.4149677419355 1240.6,1063.4149677419355 C1240.6,1072.4149677419355 1249.6,1072.4149677419355 1259.6,1072.4149677419355 L1291.7,1072.4149677419355 C1301.7,1072.4149677419355 1310.7,1072.4149677419355 1310.7,1063.4149677419355 C1308.7,1036.4149677419355 1312.7,1014.9185454545454 1308.7,989.9185454545454 Z" fill="#dc84a6"/>
<path d="M1242.6,993.9185454545454 L1242.6,977.0 A3.1,3.1 0 0 1 1248.8,977.0 L1248.8,989.9 Q1250.0,991.9 1251.2,989.9 L1251.2,977.0 A3.1,3.1 0 0 1 1257.3,977.0 L1257.3,989.9 Q1258.5,991.9 1259.7,989.9 L1259.7,977.0 A3.1,3.1 0 0 1 1265.9,977.0 L1265.9,989.9 Q1267.1,991.9 1268.3,989.9 L1268.3,977.0 A3.1,3.1 0 0 1 1274.4,977.0 L1274.4,989.9 Q1275.6,991.9 1276.8,989.9 L1276.8,977.0 A3.1,3.1 0 0 1 1283.0,977.0 L1283.0,989.9 Q1284.2,991.9 1285.4,989.9 L1285.4,977.0 A3.1,3.1 0 0 1 1291.6,977.0 L1291.6,989.9 Q1292.8,991.9 1294.0,989.9 L1294.0,977.0 A3.1,3.1 0 0 1 1300.1,977.0 L1300.1,989.9 Q1301.3,991.9 1302.5,989.9 L1302.5,977.0 A3.1,3.1 0 0 1 1308.7,977.0 L1308.7,989.9 L1308.7,993.9185454545454 Z" fill="none" stroke="#3a3a3a" stroke-width="3.2" stroke-linejoin="round"/>
<path d="M1242.6,993.9185454545454 L1242.6,977.0 A3.1,3.1 0 0 1 1248.8,977.0 L1248.8,989.9 Q1250.0,991.9 1251.2,989.9 L1251.2,977.0 A3.1,3.1 0 0 1 1257.3,977.0 L1257.3,989.9 Q1258.5,991.9 1259.7,989.9 L1259.7,977.0 A3.1,3.1 0 0 1 1265.9,977.0 L1265.9,989.9 Q1267.1,991.9 1268.3,989.9 L1268.3,977.0 A3.1,3.1 0 0 1 1274.4,977.0 L1274.4,989.9 Q1275.6,991.9 1276.8,989.9 L1276.8,977.0 A3.1,3.1 0 0 1 1283.0,977.0 L1283.0,989.9 Q1284.2,991.9 1285.4,989.9 L1285.4,977.0 A3.1,3.1 0 0 1 1291.6,977.0 L1291.6,989.9 Q1292.8,991.9 1294.0,989.9 L1294.0,977.0 A3.1,3.1 0 0 1 1300.1,977.0 L1300.1,989.9 Q1301.3,991.9 1302.5,989.9 L1302.5,977.0 A3.1,3.1 0 0 1 1308.7,977.0 L1308.7,989.9 L1308.7,993.9185454545454 Z" fill="#dc84a6" stroke="#fff" stroke-width="1.5" stroke-linejoin="round"/>
<rect x="1242.1" y="990.9185454545454" width="67.10000000000014" height="7" fill="#dc84a6"/>
<path d="M1242.6,989.9185454545454 C1238.6,1014.9185454545454 1242.6,1036.4149677419355 1240.6,1063.4149677419355 C1240.6,1072.4149677419355 1249.6,1072.4149677419355 1259.6,1072.4149677419355 L1291.7,1072.4149677419355 C1301.7,1072.4149677419355 1310.7,1072.4149677419355 1310.7,1063.4149677419355 C1308.7,1036.4149677419355 1312.7,1014.9185454545454 1308.7,989.9185454545454" fill="none" stroke="#111" stroke-width="1.8" stroke-linejoin="round"/>
<path d="M1244.6,991.9185454545454 C1241.6,1014.9185454545454 1244.6,1036.4149677419355 1243.1,1062.4149677419355 C1243.6,1069.4149677419355 1249.6,1069.9149677419355 1259.6,1069.9149677419355 L1291.7,1069.9149677419355 C1301.7,1069.9149677419355 1307.7,1069.4149677419355 1308.2,1062.4149677419355 C1306.7,1036.4149677419355 1309.7,1014.9185454545454 1306.7,991.9185454545454" fill="none" stroke="#fff" stroke-width="2"/>
<path d="M1247.6,1001.9185454545454 C1264.6,997.9185454545454 1284.6,991.9185454545454 1303.7,993.9185454545454 L1301.7,1005.9185454545454 C1284.6,1003.9185454545454 1261.6,1013.9185454545454 1249.6,1029.9185454545454 Z" fill="#e596b6" opacity="0.8"/>
<path d="M1286.7,1061.4149677419355 C1291.7,1036.4149677419355 1303.7,1031.4149677419355 1305.7,1051.4149677419355 L1305.7,1066.4149677419355 Z" fill="#e596b6" opacity="0.8"/>
<ellipse cx="1269.2" cy="1044.4" rx="12" ry="10.2" fill="#8b3a0a"/>
<path d="M1315.3,990.1829090909091 C1311.3,1015.1829090909091 1315.3,1036.7432903225806 1313.3,1063.7432903225806 C1313.3,1072.7432903225806 1322.3,1072.7432903225806 1332.3,1072.7432903225806 L1355.6,1072.7432903225806 C1365.6,1072.7432903225806 1374.6,1072.7432903225806 1374.6,1063.7432903225806 C1372.6,1036.7432903225806 1376.6,1015.1829090909091 1372.6,990.1829090909091 Z" fill="url(#lcell)"/>
<path d="M1315.3,994.1829090909091 L1315.3,982.9 A3.7,3.7 0 0 1 1322.8,982.9 L1322.8,990.2 Q1325.3,992.2 1327.8,990.2 L1327.8,987.9 A3.7,3.7 0 0 1 1335.2,987.9 L1335.2,990.2 Q1337.7,992.2 1340.2,990.2 L1340.2,985.4 A3.7,3.7 0 0 1 1347.7,985.4 L1347.7,990.2 Q1350.2,992.2 1352.7,990.2 L1352.7,982.9 A3.7,3.7 0 0 1 1360.1,982.9 L1360.1,990.2 Q1362.6,992.2 1365.1,990.2 L1365.1,987.9 A3.7,3.7 0 0 1 1372.6,987.9 L1372.6,990.2 L1372.6,994.1829090909091 Z" fill="none" stroke="#3a3a3a" stroke-width="3.2" stroke-linejoin="round"/>
<path d="M1315.3,994.1829090909091 L1315.3,982.9 A3.7,3.7 0 0 1 1322.8,982.9 L1322.8,990.2 Q1325.3,992.2 1327.8,990.2 L1327.8,987.9 A3.7,3.7 0 0 1 1335.2,987.9 L1335.2,990.2 Q1337.7,992.2 1340.2,990.2 L1340.2,985.4 A3.7,3.7 0 0 1 1347.7,985.4 L1347.7,990.2 Q1350.2,992.2 1352.7,990.2 L1352.7,982.9 A3.7,3.7 0 0 1 1360.1,982.9 L1360.1,990.2 Q1362.6,992.2 1365.1,990.2 L1365.1,987.9 A3.7,3.7 0 0 1 1372.6,987.9 L1372.6,990.2 L1372.6,994.1829090909091 Z" fill="#f9c4d4" stroke="#fff" stroke-width="1.5" stroke-linejoin="round"/>
<rect x="1314.8" y="991.1829090909091" width="58.299999999999955" height="7" fill="#f9c4d4"/>
<path d="M1315.3,990.1829090909091 C1311.3,1015.1829090909091 1315.3,1036.7432903225806 1313.3,1063.7432903225806 C1313.3,1072.7432903225806 1322.3,1072.7432903225806 1332.3,1072.7432903225806 L1355.6,1072.7432903225806 C1365.6,1072.7432903225806 1374.6,1072.7432903225806 1374.6,1063.7432903225806 C1372.6,1036.7432903225806 1376.6,1015.1829090909091 1372.6,990.1829090909091" fill="none" stroke="#111" stroke-width="1.8" stroke-linejoin="round"/>
<path d="M1317.3,992.1829090909091 C1314.3,1015.1829090909091 1317.3,1036.7432903225806 1315.8,1062.7432903225806 C1316.3,1069.7432903225806 1322.3,1070.2432903225806 1332.3,1070.2432903225806 L1355.6,1070.2432903225806 C1365.6,1070.2432903225806 1371.6,1069.7432903225806 1372.1,1062.7432903225806 C1370.6,1036.7432903225806 1373.6,1015.1829090909091 1370.6,992.1829090909091" fill="none" stroke="#fff" stroke-width="2"/>
<ellipse cx="1350.3" cy="1053.7" rx="12" ry="10.2" fill="#8b3a0a"/>
<path d="M1380.4,990.4196363636364 C1376.4,1015.4196363636364 1380.4,1037.0372903225807 1378.4,1064.0372903225807 C1378.4,1073.0372903225807 1387.4,1073.0372903225807 1397.4,1073.0372903225807 L1429.5,1073.0372903225807 C1439.5,1073.0372903225807 1448.5,1073.0372903225807 1448.5,1064.0372903225807 C1446.5,1037.0372903225807 1450.5,1015.4196363636364 1446.5,990.4196363636364 Z" fill="#dc84a6"/>
<path d="M1380.4,994.4196363636364 L1380.4,977.5 A3.1,3.1 0 0 1 1386.6,977.5 L1386.6,990.4 Q1387.8,992.4 1389.0,990.4 L1389.0,977.5 A3.1,3.1 0 0 1 1395.1,977.5 L1395.1,990.4 Q1396.3,992.4 1397.5,990.4 L1397.5,977.5 A3.1,3.1 0 0 1 1403.7,977.5 L1403.7,990.4 Q1404.9,992.4 1406.1,990.4 L1406.1,977.5 A3.1,3.1 0 0 1 1412.2,977.5 L1412.2,990.4 Q1413.5,992.4 1414.7,990.4 L1414.7,977.5 A3.1,3.1 0 0 1 1420.8,977.5 L1420.8,990.4 Q1422.0,992.4 1423.2,990.4 L1423.2,977.5 A3.1,3.1 0 0 1 1429.4,977.5 L1429.4,990.4 Q1430.6,992.4 1431.8,990.4 L1431.8,977.5 A3.1,3.1 0 0 1 1437.9,977.5 L1437.9,990.4 Q1439.1,992.4 1440.3,990.4 L1440.3,977.5 A3.1,3.1 0 0 1 1446.5,977.5 L1446.5,990.4 L1446.5,994.4196363636364 Z" fill="none" stroke="#3a3a3a" stroke-width="3.2" stroke-linejoin="round"/>
<path d="M1380.4,994.4196363636364 L1380.4,977.5 A3.1,3.1 0 0 1 1386.6,977.5 L1386.6,990.4 Q1387.8,992.4 1389.0,990.4 L1389.0,977.5 A3.1,3.1 0 0 1 1395.1,977.5 L1395.1,990.4 Q1396.3,992.4 1397.5,990.4 L1397.5,977.5 A3.1,3.1 0 0 1 1403.7,977.5 L1403.7,990.4 Q1404.9,992.4 1406.1,990.4 L1406.1,977.5 A3.1,3.1 0 0 1 1412.2,977.5 L1412.2,990.4 Q1413.5,992.4 1414.7,990.4 L1414.7,977.5 A3.1,3.1 0 0 1 1420.8,977.5 L1420.8,990.4 Q1422.0,992.4 1423.2,990.4 L1423.2,977.5 A3.1,3.1 0 0 1 1429.4,977.5 L1429.4,990.4 Q1430.6,992.4 1431.8,990.4 L1431.8,977.5 A3.1,3.1 0 0 1 1437.9,977.5 L1437.9,990.4 Q1439.1,992.4 1440.3,990.4 L1440.3,977.5 A3.1,3.1 0 0 1 1446.5,977.5 L1446.5,990.4 L1446.5,994.4196363636364 Z" fill="#dc84a6" stroke="#fff" stroke-width="1.5" stroke-linejoin="round"/>
<rect x="1379.9" y="991.4196363636364" width="67.09999999999991" height="7" fill="#dc84a6"/>
<path d="M1380.4,990.4196363636364 C1376.4,1015.4196363636364 1380.4,1037.0372903225807 1378.4,1064.0372903225807 C1378.4,1073.0372903225807 1387.4,1073.0372903225807 1397.4,1073.0372903225807 L1429.5,1073.0372903225807 C1439.5,1073.0372903225807 1448.5,1073.0372903225807 1448.5,1064.0372903225807 C1446.5,1037.0372903225807 1450.5,1015.4196363636364 1446.5,990.4196363636364" fill="none" stroke="#111" stroke-width="1.8" stroke-linejoin="round"/>
<path d="M1382.4,992.4196363636364 C1379.4,1015.4196363636364 1382.4,1037.0372903225807 1380.9,1063.0372903225807 C1381.4,1070.0372903225807 1387.4,1070.5372903225807 1397.4,1070.5372903225807 L1429.5,1070.5372903225807 C1439.5,1070.5372903225807 1445.5,1070.0372903225807 1446.0,1063.0372903225807 C1444.5,1037.0372903225807 1447.5,1015.4196363636364 1444.5,992.4196363636364" fill="none" stroke="#fff" stroke-width="2"/>
<path d="M1385.4,1002.4196363636364 C1402.4,998.4196363636364 1422.4,992.4196363636364 1441.5,994.4196363636364 L1439.5,1006.4196363636364 C1422.4,1004.4196363636364 1399.4,1014.4196363636364 1387.4,1030.4196363636365 Z" fill="#e596b6" opacity="0.8"/>
<path d="M1424.5,1062.0372903225807 C1429.5,1037.0372903225807 1441.5,1032.0372903225807 1443.5,1052.0372903225807 L1443.5,1067.0372903225807 Z" fill="#e596b6" opacity="0.8"/>
<ellipse cx="1407.0" cy="1045.0" rx="12" ry="10.2" fill="#8b3a0a"/>
<path d="M1454.2,990.688 C1450.2,1015.688 1454.2,1037.3705806451612 1452.2,1064.3705806451612 C1452.2,1073.3705806451612 1461.2,1073.3705806451612 1471.2,1073.3705806451612 L1503.4,1073.3705806451612 C1513.4,1073.3705806451612 1522.4,1073.3705806451612 1522.4,1064.3705806451612 C1520.4,1037.3705806451612 1524.4,1015.688 1520.4,990.688 Z" fill="#dc84a6"/>
<path d="M1454.2,994.688 L1454.2,977.8 A3.1,3.1 0 0 1 1460.4,977.8 L1460.4,990.7 Q1461.6,992.7 1462.8,990.7 L1462.8,977.8 A3.1,3.1 0 0 1 1469.0,977.8 L1469.0,990.7 Q1470.2,992.7 1471.4,990.7 L1471.4,977.8 A3.1,3.1 0 0 1 1477.5,977.8 L1477.5,990.7 Q1478.7,992.7 1479.9,990.7 L1479.9,977.8 A3.1,3.1 0 0 1 1486.1,977.8 L1486.1,990.7 Q1487.3,992.7 1488.5,990.7 L1488.5,977.8 A3.1,3.1 0 0 1 1494.7,977.8 L1494.7,990.7 Q1495.9,992.7 1497.1,990.7 L1497.1,977.8 A3.1,3.1 0 0 1 1503.2,977.8 L1503.2,990.7 Q1504.5,992.7 1505.7,990.7 L1505.7,977.8 A3.1,3.1 0 0 1 1511.8,977.8 L1511.8,990.7 Q1513.0,992.7 1514.2,990.7 L1514.2,977.8 A3.1,3.1 0 0 1 1520.4,977.8 L1520.4,990.7 L1520.4,994.688 Z" fill="none" stroke="#3a3a3a" stroke-width="3.2" stroke-linejoin="round"/>
<path d="M1454.2,994.688 L1454.2,977.8 A3.1,3.1 0 0 1 1460.4,977.8 L1460.4,990.7 Q1461.6,992.7 1462.8,990.7 L1462.8,977.8 A3.1,3.1 0 0 1 1469.0,977.8 L1469.0,990.7 Q1470.2,992.7 1471.4,990.7 L1471.4,977.8 A3.1,3.1 0 0 1 1477.5,977.8 L1477.5,990.7 Q1478.7,992.7 1479.9,990.7 L1479.9,977.8 A3.1,3.1 0 0 1 1486.1,977.8 L1486.1,990.7 Q1487.3,992.7 1488.5,990.7 L1488.5,977.8 A3.1,3.1 0 0 1 1494.7,977.8 L1494.7,990.7 Q1495.9,992.7 1497.1,990.7 L1497.1,977.8 A3.1,3.1 0 0 1 1503.2,977.8 L1503.2,990.7 Q1504.5,992.7 1505.7,990.7 L1505.7,977.8 A3.1,3.1 0 0 1 1511.8,977.8 L1511.8,990.7 Q1513.0,992.7 1514.2,990.7 L1514.2,977.8 A3.1,3.1 0 0 1 1520.4,977.8 L1520.4,990.7 L1520.4,994.688 Z" fill="#dc84a6" stroke="#fff" stroke-width="1.5" stroke-linejoin="round"/>
<rect x="1453.7" y="991.688" width="67.20000000000005" height="7" fill="#dc84a6"/>
<path d="M1454.2,990.688 C1450.2,1015.688 1454.2,1037.3705806451612 1452.2,1064.3705806451612 C1452.2,1073.3705806451612 1461.2,1073.3705806451612 1471.2,1073.3705806451612 L1503.4,1073.3705806451612 C1513.4,1073.3705806451612 1522.4,1073.3705806451612 1522.4,1064.3705806451612 C1520.4,1037.3705806451612 1524.4,1015.688 1520.4,990.688" fill="none" stroke="#111" stroke-width="1.8" stroke-linejoin="round"/>
<path d="M1456.2,992.688 C1453.2,1015.688 1456.2,1037.3705806451612 1454.7,1063.3705806451612 C1455.2,1070.3705806451612 1461.2,1070.8705806451612 1471.2,1070.8705806451612 L1503.4,1070.8705806451612 C1513.4,1070.8705806451612 1519.4,1070.3705806451612 1519.9,1063.3705806451612 C1518.4,1037.3705806451612 1521.4,1015.688 1518.4,992.688" fill="none" stroke="#fff" stroke-width="2"/>
<path d="M1459.2,1002.688 C1476.2,998.688 1496.2,992.688 1515.4,994.688 L1513.4,1006.688 C1496.2,1004.688 1473.2,1014.688 1461.2,1030.688 Z" fill="#e596b6" opacity="0.8"/>
<path d="M1498.4,1062.3705806451612 C1503.4,1037.3705806451612 1515.4,1032.3705806451612 1517.4,1052.3705806451612 L1517.4,1067.3705806451612 Z" fill="#e596b6" opacity="0.8"/>
<ellipse cx="1480.8" cy="1045.4" rx="12" ry="10.2" fill="#8b3a0a"/>
<rect x="1527.9" y="987.9632727272727" width="66.59999999999991" height="85.74917888563039" rx="9" fill="url(#gob)" stroke="#111" stroke-width="3"/>
<rect x="1530.4" y="990.4632727272727" width="61.59999999999991" height="80.74917888563039" rx="7" fill="none" stroke="#fff" stroke-width="1.5"/>
<ellipse cx="1554.6" cy="1005.3" rx="8.7" ry="6.4" fill="#7296d8" opacity="0.85"/>
<ellipse cx="1571.4" cy="1006.5" rx="6" ry="5.5" fill="#7296d8" opacity="0.85"/>
<ellipse cx="1541.9" cy="1019.2" rx="8" ry="7" fill="#7296d8" opacity="0.85"/>
<ellipse cx="1563.9" cy="1020.4" rx="6.4" ry="6.4" fill="#7296d8" opacity="0.85"/>
<ellipse cx="1581.8" cy="1021.0" rx="8" ry="7.5" fill="#7296d8" opacity="0.85"/>
<ellipse cx="1552.3" cy="1034.8" rx="6.8" ry="6.8" fill="#7296d8" opacity="0.85"/>
<ellipse cx="1573.1" cy="1036.0" rx="8.4" ry="8" fill="#7296d8" opacity="0.85"/>
<ellipse cx="1573.1" cy="1058.7" rx="11.6" ry="10.5" fill="#1f3a6e"/>
<path d="M1602,991.2254545454546 C1598,1016.2254545454546 1602,1038.038064516129 1600,1065.038064516129 C1600,1074.038064516129 1609,1074.038064516129 1619,1074.038064516129 L1642.3,1074.038064516129 C1652.3,1074.038064516129 1661.3,1074.038064516129 1661.3,1065.038064516129 C1659.3,1038.038064516129 1663.3,1016.2254545454546 1659.3,991.2254545454546 Z" fill="url(#lcell)"/>
<path d="M1602,995.2254545454546 L1602.0,984.0 A3.7,3.7 0 0 1 1609.5,984.0 L1609.5,991.2 Q1612.0,993.2 1614.5,991.2 L1614.5,989.0 A3.7,3.7 0 0 1 1621.9,989.0 L1621.9,991.2 Q1624.4,993.2 1626.9,991.2 L1626.9,986.5 A3.7,3.7 0 0 1 1634.4,986.5 L1634.4,991.2 Q1636.9,993.2 1639.4,991.2 L1639.4,984.0 A3.7,3.7 0 0 1 1646.8,984.0 L1646.8,991.2 Q1649.3,993.2 1651.8,991.2 L1651.8,989.0 A3.7,3.7 0 0 1 1659.3,989.0 L1659.3,991.2 L1659.3,995.2254545454546 Z" fill="none" stroke="#3a3a3a" stroke-width="3.2" stroke-linejoin="round"/>
<path d="M1602,995.2254545454546 L1602.0,984.0 A3.7,3.7 0 0 1 1609.5,984.0 L1609.5,991.2 Q1612.0,993.2 1614.5,991.2 L1614.5,989.0 A3.7,3.7 0 0 1 1621.9,989.0 L1621.9,991.2 Q1624.4,993.2 1626.9,991.2 L1626.9,986.5 A3.7,3.7 0 0 1 1634.4,986.5 L1634.4,991.2 Q1636.9,993.2 1639.4,991.2 L1639.4,984.0 A3.7,3.7 0 0 1 1646.8,984.0 L1646.8,991.2 Q1649.3,993.2 1651.8,991.2 L1651.8,989.0 A3.7,3.7 0 0 1 1659.3,989.0 L1659.3,991.2 L1659.3,995.2254545454546 Z" fill="#f9c4d4" stroke="#fff" stroke-width="1.5" stroke-linejoin="round"/>
<rect x="1601.5" y="992.2254545454546" width="58.299999999999955" height="7" fill="#f9c4d4"/>
<path d="M1602,991.2254545454546 C1598,1016.2254545454546 1602,1038.038064516129 1600,1065.038064516129 C1600,1074.038064516129 1609,1074.038064516129 1619,1074.038064516129 L1642.3,1074.038064516129 C1652.3,1074.038064516129 1661.3,1074.038064516129 1661.3,1065.038064516129 C1659.3,1038.038064516129 1663.3,1016.2254545454546 1659.3,991.2254545454546" fill="none" stroke="#111" stroke-width="1.8" stroke-linejoin="round"/>
<path d="M1604,993.2254545454546 C1601,1016.2254545454546 1604,1038.038064516129 1602.5,1064.038064516129 C1603,1071.038064516129 1609,1071.538064516129 1619,1071.538064516129 L1642.3,1071.538064516129 C1652.3,1071.538064516129 1658.3,1071.038064516129 1658.8,1064.038064516129 C1657.3,1038.038064516129 1660.3,1016.2254545454546 1657.3,993.2254545454546" fill="none" stroke="#fff" stroke-width="2"/>
<ellipse cx="1637.0" cy="1055.0" rx="12" ry="10.2" fill="#8b3a0a"/>
<path d="M1667,991.4618181818182 C1663,1016.4618181818182 1667,1038.3316129032257 1665,1065.3316129032257 C1665,1074.3316129032257 1674,1074.3316129032257 1684,1074.3316129032257 L1716,1074.3316129032257 C1726,1074.3316129032257 1735,1074.3316129032257 1735,1065.3316129032257 C1733,1038.3316129032257 1737,1016.4618181818182 1733,991.4618181818182 Z" fill="#dc84a6"/>
<path d="M1667,995.4618181818182 L1667.0,978.5 A3.1,3.1 0 0 1 1673.2,978.5 L1673.2,991.5 Q1674.4,993.5 1675.6,991.5 L1675.5,978.5 A3.1,3.1 0 0 1 1681.7,978.5 L1681.7,991.5 Q1682.9,993.5 1684.1,991.5 L1684.1,978.5 A3.1,3.1 0 0 1 1690.2,978.5 L1690.2,991.5 Q1691.5,993.5 1692.7,991.5 L1692.7,978.5 A3.1,3.1 0 0 1 1698.8,978.5 L1698.8,991.5 Q1700.0,993.5 1701.2,991.5 L1701.2,978.5 A3.1,3.1 0 0 1 1707.4,978.5 L1707.4,991.5 Q1708.6,993.5 1709.8,991.5 L1709.8,978.5 A3.1,3.1 0 0 1 1715.9,978.5 L1715.9,991.5 Q1717.1,993.5 1718.3,991.5 L1718.3,978.5 A3.1,3.1 0 0 1 1724.5,978.5 L1724.5,991.5 Q1725.7,993.5 1726.9,991.5 L1726.8,978.5 A3.1,3.1 0 0 1 1733.0,978.5 L1733.0,991.5 L1733,995.4618181818182 Z" fill="none" stroke="#3a3a3a" stroke-width="3.2" stroke-linejoin="round"/>
<path d="M1667,995.4618181818182 L1667.0,978.5 A3.1,3.1 0 0 1 1673.2,978.5 L1673.2,991.5 Q1674.4,993.5 1675.6,991.5 L1675.5,978.5 A3.1,3.1 0 0 1 1681.7,978.5 L1681.7,991.5 Q1682.9,993.5 1684.1,991.5 L1684.1,978.5 A3.1,3.1 0 0 1 1690.2,978.5 L1690.2,991.5 Q1691.5,993.5 1692.7,991.5 L1692.7,978.5 A3.1,3.1 0 0 1 1698.8,978.5 L1698.8,991.5 Q1700.0,993.5 1701.2,991.5 L1701.2,978.5 A3.1,3.1 0 0 1 1707.4,978.5 L1707.4,991.5 Q1708.6,993.5 1709.8,991.5 L1709.8,978.5 A3.1,3.1 0 0 1 1715.9,978.5 L1715.9,991.5 Q1717.1,993.5 1718.3,991.5 L1718.3,978.5 A3.1,3.1 0 0 1 1724.5,978.5 L1724.5,991.5 Q1725.7,993.5 1726.9,991.5 L1726.8,978.5 A3.1,3.1 0 0 1 1733.0,978.5 L1733.0,991.5 L1733,995.4618181818182 Z" fill="#dc84a6" stroke="#fff" stroke-width="1.5" stroke-linejoin="round"/>
<rect x="1666.5" y="992.4618181818182" width="67" height="7" fill="#dc84a6"/>
<path d="M1667,991.4618181818182 C1663,1016.4618181818182 1667,1038.3316129032257 1665,1065.3316129032257 C1665,1074.3316129032257 1674,1074.3316129032257 1684,1074.3316129032257 L1716,1074.3316129032257 C1726,1074.3316129032257 1735,1074.3316129032257 1735,1065.3316129032257 C1733,1038.3316129032257 1737,1016.4618181818182 1733,991.4618181818182" fill="none" stroke="#111" stroke-width="1.8" stroke-linejoin="round"/>
<path d="M1669,993.4618181818182 C1666,1016.4618181818182 1669,1038.3316129032257 1667.5,1064.3316129032257 C1668,1071.3316129032257 1674,1071.8316129032257 1684,1071.8316129032257 L1716,1071.8316129032257 C1726,1071.8316129032257 1732,1071.3316129032257 1732.5,1064.3316129032257 C1731,1038.3316129032257 1734,1016.4618181818182 1731,993.4618181818182" fill="none" stroke="#fff" stroke-width="2"/>
<path d="M1672,1003.4618181818182 C1689,999.4618181818182 1709,993.4618181818182 1728,995.4618181818182 L1726,1007.4618181818182 C1709,1005.4618181818182 1686,1015.4618181818182 1674,1031.4618181818182 Z" fill="#e596b6" opacity="0.8"/>
<path d="M1711,1063.3316129032257 C1716,1038.3316129032257 1728,1033.3316129032257 1730,1053.3316129032257 L1730,1068.3316129032257 Z" fill="#e596b6" opacity="0.8"/>
<ellipse cx="1693.5" cy="1046.3" rx="12" ry="10.2" fill="#8b3a0a"/>
<path d="M1742.7,991.737090909091 C1738.7,1016.737090909091 1742.7,1038.6734838709676 1740.7,1065.6734838709676 C1740.7,1074.6734838709676 1749.7,1074.6734838709676 1759.7,1074.6734838709676 L1791.8,1074.6734838709676 C1801.8,1074.6734838709676 1810.8,1074.6734838709676 1810.8,1065.6734838709676 C1808.8,1038.6734838709676 1812.8,1016.737090909091 1808.8,991.737090909091 Z" fill="#dc84a6"/>
<path d="M1742.7,995.737090909091 L1742.7,978.8 A3.1,3.1 0 0 1 1748.9,978.8 L1748.9,991.7 Q1750.1,993.7 1751.3,991.7 L1751.3,978.8 A3.1,3.1 0 0 1 1757.4,978.8 L1757.4,991.7 Q1758.6,993.7 1759.8,991.7 L1759.8,978.8 A3.1,3.1 0 0 1 1766.0,978.8 L1766.0,991.7 Q1767.2,993.7 1768.4,991.7 L1768.4,978.8 A3.1,3.1 0 0 1 1774.5,978.8 L1774.5,991.7 Q1775.8,993.7 1777.0,991.7 L1777.0,978.8 A3.1,3.1 0 0 1 1783.1,978.8 L1783.1,991.7 Q1784.3,993.7 1785.5,991.7 L1785.5,978.8 A3.1,3.1 0 0 1 1791.7,978.8 L1791.7,991.7 Q1792.9,993.7 1794.1,991.7 L1794.1,978.8 A3.1,3.1 0 0 1 1800.2,978.8 L1800.2,991.7 Q1801.4,993.7 1802.6,991.7 L1802.6,978.8 A3.1,3.1 0 0 1 1808.8,978.8 L1808.8,991.7 L1808.8,995.737090909091 Z" fill="none" stroke="#3a3a3a" stroke-width="3.2" stroke-linejoin="round"/>
<path d="M1742.7,995.737090909091 L1742.7,978.8 A3.1,3.1 0 0 1 1748.9,978.8 L1748.9,991.7 Q1750.1,993.7 1751.3,991.7 L1751.3,978.8 A3.1,3.1 0 0 1 1757.4,978.8 L1757.4,991.7 Q1758.6,993.7 1759.8,991.7 L1759.8,978.8 A3.1,3.1 0 0 1 1766.0,978.8 L1766.0,991.7 Q1767.2,993.7 1768.4,991.7 L1768.4,978.8 A3.1,3.1 0 0 1 1774.5,978.8 L1774.5,991.7 Q1775.8,993.7 1777.0,991.7 L1777.0,978.8 A3.1,3.1 0 0 1 1783.1,978.8 L1783.1,991.7 Q1784.3,993.7 1785.5,991.7 L1785.5,978.8 A3.1,3.1 0 0 1 1791.7,978.8 L1791.7,991.7 Q1792.9,993.7 1794.1,991.7 L1794.1,978.8 A3.1,3.1 0 0 1 1800.2,978.8 L1800.2,991.7 Q1801.4,993.7 1802.6,991.7 L1802.6,978.8 A3.1,3.1 0 0 1 1808.8,978.8 L1808.8,991.7 L1808.8,995.737090909091 Z" fill="#dc84a6" stroke="#fff" stroke-width="1.5" stroke-linejoin="round"/>
<rect x="1742.2" y="992.737090909091" width="67.09999999999991" height="7" fill="#dc84a6"/>
<path d="M1742.7,991.737090909091 C1738.7,1016.737090909091 1742.7,1038.6734838709676 1740.7,1065.6734838709676 C1740.7,1074.6734838709676 1749.7,1074.6734838709676 1759.7,1074.6734838709676 L1791.8,1074.6734838709676 C1801.8,1074.6734838709676 1810.8,1074.6734838709676 1810.8,1065.6734838709676 C1808.8,1038.6734838709676 1812.8,1016.737090909091 1808.8,991.737090909091" fill="none" stroke="#111" stroke-width="1.8" stroke-linejoin="round"/>
<path d="M1744.7,993.737090909091 C1741.7,1016.737090909091 1744.7,1038.6734838709676 1743.2,1064.6734838709676 C1743.7,1071.6734838709676 1749.7,1072.1734838709676 1759.7,1072.1734838709676 L1791.8,1072.1734838709676 C1801.8,1072.1734838709676 1807.8,1071.6734838709676 1808.3,1064.6734838709676 C1806.8,1038.6734838709676 1809.8,1016.737090909091 1806.8,993.737090909091" fill="none" stroke="#fff" stroke-width="2"/>
<path d="M1747.7,1003.737090909091 C1764.7,999.737090909091 1784.7,993.737090909091 1803.8,995.737090909091 L1801.8,1007.737090909091 C1784.7,1005.737090909091 1761.7,1015.737090909091 1749.7,1031.737090909091 Z" fill="#e596b6" opacity="0.8"/>
<path d="M1786.8,1063.6734838709676 C1791.8,1038.6734838709676 1803.8,1033.6734838709676 1805.8,1053.6734838709676 L1805.8,1068.6734838709676 Z" fill="#e596b6" opacity="0.8"/>
<ellipse cx="1769.3" cy="1046.7" rx="12" ry="10.2" fill="#8b3a0a"/>
<rect x="389.5" y="995" width="35" height="27" fill="none" stroke="#8a6010" stroke-width="2" stroke-dasharray="4 3"/>
<circle cx="402.7" cy="1004.2" r="3.8" fill="#f5f0a0" stroke="#111" stroke-width="1.3"/>
<circle cx="402.7" cy="1011.8" r="3.8" fill="#f5f0a0" stroke="#111" stroke-width="1.3"/>
<circle cx="410.3" cy="1004.2" r="3.8" fill="#f5f0a0" stroke="#111" stroke-width="1.3"/>
<circle cx="410.3" cy="1011.8" r="3.8" fill="#f5f0a0" stroke="#111" stroke-width="1.3"/>
<circle cx="1021.9000000000001" cy="1001.2" r="3.8" fill="#f5f0a0" stroke="#111" stroke-width="1.3"/>
<circle cx="1021.9000000000001" cy="1008.8" r="3.8" fill="#f5f0a0" stroke="#111" stroke-width="1.3"/>
<circle cx="1029.5" cy="1001.2" r="3.8" fill="#f5f0a0" stroke="#111" stroke-width="1.3"/>
<circle cx="1029.5" cy="1008.8" r="3.8" fill="#f5f0a0" stroke="#111" stroke-width="1.3"/>
<circle cx="1234.7" cy="1001.2" r="3.8" fill="#f5f0a0" stroke="#111" stroke-width="1.3"/>
<circle cx="1234.7" cy="1008.8" r="3.8" fill="#f5f0a0" stroke="#111" stroke-width="1.3"/>
<circle cx="1242.3" cy="1001.2" r="3.8" fill="#f5f0a0" stroke="#111" stroke-width="1.3"/>
<circle cx="1242.3" cy="1008.8" r="3.8" fill="#f5f0a0" stroke="#111" stroke-width="1.3"/>
<circle cx="1446.5" cy="1001.2" r="3.8" fill="#f5f0a0" stroke="#111" stroke-width="1.3"/>
<circle cx="1446.5" cy="1008.8" r="3.8" fill="#f5f0a0" stroke="#111" stroke-width="1.3"/>
<circle cx="1454.1" cy="1001.2" r="3.8" fill="#f5f0a0" stroke="#111" stroke-width="1.3"/>
<circle cx="1454.1" cy="1008.8" r="3.8" fill="#f5f0a0" stroke="#111" stroke-width="1.3"/>
<rect x="1720.5" y="1001" width="35" height="27" fill="none" stroke="#8a6010" stroke-width="2" stroke-dasharray="4 3"/>
<circle cx="1733.7" cy="1010.2" r="3.8" fill="#f5f0a0" stroke="#111" stroke-width="1.3"/>
<circle cx="1733.7" cy="1017.8" r="3.8" fill="#f5f0a0" stroke="#111" stroke-width="1.3"/>
<circle cx="1741.3" cy="1010.2" r="3.8" fill="#f5f0a0" stroke="#111" stroke-width="1.3"/>
<circle cx="1741.3" cy="1017.8" r="3.8" fill="#f5f0a0" stroke="#111" stroke-width="1.3"/>
<path d="M427.3,703.0 Q420.4,698.8 414.3,701.9" stroke="#0f6fbd" stroke-width="2.6" fill="none" stroke-linecap="round"/>
<circle cx="416.9" cy="701.3" r="3.4" fill="url(#orb)"/>
<path d="M432.4,695.4 Q427.8,688.8 421.0,689.2" stroke="#0f6fbd" stroke-width="2.6" fill="none" stroke-linecap="round"/>
<path d="M437.4,687.5 Q435.3,679.7 428.8,677.7" stroke="#0f6fbd" stroke-width="2.6" fill="none" stroke-linecap="round"/>
<circle cx="431.1" cy="679.1" r="3.4" fill="url(#orb)"/>
<path d="M445.8,685.4 Q446.7,677.4 441.4,673.1" stroke="#0f6fbd" stroke-width="2.6" fill="none" stroke-linecap="round"/>
<path d="M454.4,683.0 Q457.1,675.4 452.9,670.0" stroke="#0f6fbd" stroke-width="2.6" fill="none" stroke-linecap="round"/>
<circle cx="454.0" cy="672.5" r="3.4" fill="url(#orb)"/>
<path d="M463.0,684.8 Q467.4,678.0 464.5,671.8" stroke="#0f6fbd" stroke-width="2.6" fill="none" stroke-linecap="round"/>
<path d="M472.5,686.6 Q475.2,679.0 471.0,673.6" stroke="#0f6fbd" stroke-width="2.6" fill="none" stroke-linecap="round"/>
<circle cx="472.1" cy="676.1" r="3.4" fill="url(#orb)"/>
<path d="M482.0,684.1 Q482.9,676.1 477.7,671.8" stroke="#0f6fbd" stroke-width="2.6" fill="none" stroke-linecap="round"/>
<path d="M491.1,681.7 Q491.6,673.6 486.1,669.7" stroke="#0f6fbd" stroke-width="2.6" fill="none" stroke-linecap="round"/>
<circle cx="487.8" cy="671.7" r="3.4" fill="url(#orb)"/>
<path d="M500.3,678.1 Q500.3,670.0 494.6,666.3" stroke="#0f6fbd" stroke-width="2.6" fill="none" stroke-linecap="round"/>
<path d="M509.3,674.5 Q509.5,666.4 503.8,662.6" stroke="#0f6fbd" stroke-width="2.6" fill="none" stroke-linecap="round"/>
<circle cx="505.6" cy="664.6" r="3.4" fill="url(#orb)"/>
<path d="M521.3,670.2 Q521.6,662.2 516.0,658.3" stroke="#0f6fbd" stroke-width="2.6" fill="none" stroke-linecap="round"/>
<path d="M533.1,666.1 Q534.4,658.1 529.3,653.6" stroke="#0f6fbd" stroke-width="2.6" fill="none" stroke-linecap="round"/>
<circle cx="530.8" cy="655.8" r="3.4" fill="url(#orb)"/>
<path d="M545.0,664.9 Q547.2,657.1 542.7,652.1" stroke="#0f6fbd" stroke-width="2.6" fill="none" stroke-linecap="round"/>
<path d="M556.9,663.7 Q560.0,656.3 556.2,650.7" stroke="#0f6fbd" stroke-width="2.6" fill="none" stroke-linecap="round"/>
<circle cx="557.1" cy="653.2" r="3.4" fill="url(#orb)"/>
<path d="M568.7,665.5 Q572.7,658.5 569.6,652.5" stroke="#0f6fbd" stroke-width="2.6" fill="none" stroke-linecap="round"/>
<path d="M580.2,667.1 Q586.0,661.5 584.6,654.9" stroke="#0f6fbd" stroke-width="2.6" fill="none" stroke-linecap="round"/>
<circle cx="584.5" cy="657.5" r="3.4" fill="url(#orb)"/>
<path d="M590.6,675.3 Q597.6,671.3 597.8,664.5" stroke="#0f6fbd" stroke-width="2.6" fill="none" stroke-linecap="round"/>
<path d="M601.0,683.3 Q608.9,681.6 611.3,675.3" stroke="#0f6fbd" stroke-width="2.6" fill="none" stroke-linecap="round"/>
<circle cx="609.8" cy="677.5" r="3.4" fill="url(#orb)"/>
<path d="M600.7,690.0 Q608.2,693.0 613.7,689.0" stroke="#0f6fbd" stroke-width="2.6" fill="none" stroke-linecap="round"/>
<path d="M600.9,697.0 Q606.2,703.1 612.9,702.1" stroke="#0f6fbd" stroke-width="2.6" fill="none" stroke-linecap="round"/>
<circle cx="610.2" cy="701.8" r="3.4" fill="url(#orb)"/>
<path d="M593.5,703.7 Q596.4,711.2 603.0,712.6" stroke="#0f6fbd" stroke-width="2.6" fill="none" stroke-linecap="round"/>
<path d="M586.2,710.6 Q586.4,718.6 592.2,722.1" stroke="#0f6fbd" stroke-width="2.6" fill="none" stroke-linecap="round"/>
<circle cx="590.3" cy="720.2" r="3.4" fill="url(#orb)"/>
<path d="M574.8,711.6 Q572.5,719.4 577.0,724.4" stroke="#0f6fbd" stroke-width="2.6" fill="none" stroke-linecap="round"/>
<path d="M562.7,712.8 Q560.5,720.6 565.0,725.6" stroke="#0f6fbd" stroke-width="2.6" fill="none" stroke-linecap="round"/>
<circle cx="563.7" cy="723.3" r="3.4" fill="url(#orb)"/>
<path d="M550.7,714.0 Q548.4,721.8 552.9,726.8" stroke="#0f6fbd" stroke-width="2.6" fill="none" stroke-linecap="round"/>
<path d="M538.4,715.3 Q537.1,723.2 542.2,727.7" stroke="#0f6fbd" stroke-width="2.6" fill="none" stroke-linecap="round"/>
<circle cx="540.7" cy="725.5" r="3.4" fill="url(#orb)"/>
<path d="M529.0,719.0 Q529.0,727.1 534.8,730.7" stroke="#0f6fbd" stroke-width="2.6" fill="none" stroke-linecap="round"/>
<path d="M519.9,722.7 Q520.1,730.7 526.0,734.2" stroke="#0f6fbd" stroke-width="2.6" fill="none" stroke-linecap="round"/>
<circle cx="524.1" cy="732.3" r="3.4" fill="url(#orb)"/>
<path d="M510.8,726.9 Q511.2,735.0 517.2,738.3" stroke="#0f6fbd" stroke-width="2.6" fill="none" stroke-linecap="round"/>
<path d="M502.1,731.0 Q501.2,739.0 506.6,743.2" stroke="#0f6fbd" stroke-width="2.6" fill="none" stroke-linecap="round"/>
<circle cx="504.9" cy="741.1" r="3.4" fill="url(#orb)"/>
<path d="M490.2,732.7 Q488.3,740.6 493.1,745.4" stroke="#0f6fbd" stroke-width="2.6" fill="none" stroke-linecap="round"/>
<path d="M478.4,734.5 Q475.4,742.0 479.4,747.5" stroke="#0f6fbd" stroke-width="2.6" fill="none" stroke-linecap="round"/>
<circle cx="478.4" cy="745.0" r="3.4" fill="url(#orb)"/>
<path d="M463.6,732.7 Q459.7,739.8 463.0,745.7" stroke="#0f6fbd" stroke-width="2.6" fill="none" stroke-linecap="round"/>
<path d="M448.9,731.0 Q443.8,737.3 446.1,743.7" stroke="#0f6fbd" stroke-width="2.6" fill="none" stroke-linecap="round"/>
<circle cx="445.9" cy="741.0" r="3.4" fill="url(#orb)"/>
<path d="M440.3,725.7 Q433.8,730.6 434.4,737.4" stroke="#0f6fbd" stroke-width="2.6" fill="none" stroke-linecap="round"/>
<path d="M431.8,720.8 Q424.0,722.9 422.1,729.5" stroke="#0f6fbd" stroke-width="2.6" fill="none" stroke-linecap="round"/>
<circle cx="423.4" cy="727.2" r="3.4" fill="url(#orb)"/>
<path d="M429.7,711.9 Q421.7,710.8 417.3,716.0" stroke="#0f6fbd" stroke-width="2.6" fill="none" stroke-linecap="round"/>
<path d="M425.3,702.7 C426.3,696.7 431.4,689.5 436.2,685.9 C441.0,682.3 448.3,681.2 454.3,681.0 C460.3,680.8 466.4,684.8 472.4,684.6 C478.4,684.4 484.5,681.8 490.5,679.8 C496.5,677.8 501.6,675.2 508.6,672.6 C515.6,670.0 524.7,665.9 532.7,664.1 C540.8,662.3 548.9,661.5 556.9,661.7 C564.9,661.9 573.4,661.9 581.0,665.3 C588.6,668.7 599.1,676.8 602.7,682.2 C606.3,687.6 605.3,692.9 602.7,697.9 C600.1,702.9 593.6,709.6 587.0,712.4 C580.4,715.2 570.9,714.0 562.9,714.8 C554.9,715.6 545.8,715.6 538.8,717.2 C531.8,718.8 526.7,721.9 520.7,724.5 C514.7,727.1 509.7,730.9 502.6,732.9 C495.6,734.9 487.4,736.5 478.4,736.5 C469.3,736.5 456.3,735.3 448.3,732.9 C440.3,730.5 434.0,727.0 430.2,722.0 C426.4,717.0 424.3,708.7 425.3,702.7 Z" fill="#0f6fbd"/>
<circle cx="449" cy="716" r="3.6" fill="url(#grb)"/>
<circle cx="449" cy="682" r="3.6" fill="url(#grb)"/>
<circle cx="502" cy="670" r="3.6" fill="url(#grb)"/>
<circle cx="523.3" cy="668.5" r="3.6" fill="url(#grb)"/>
<circle cx="582" cy="684.5" r="3.6" fill="url(#grb)"/>
<circle cx="591" cy="708" r="3.6" fill="url(#grb)"/>
<circle cx="503" cy="700" r="3.6" fill="url(#grb)"/>
<line x1="418.9" y1="723.2" x2="268.6" y2="798.2" stroke="#000" stroke-width="2.4"/>
<polygon points="257.0,804.0 266.8,792.4 272.2,803.1" fill="#000"/>
<line x1="477" y1="737" x2="443.2" y2="815.1" stroke="#000" stroke-width="2.4"/>
<polygon points="438.0,827.0 438.1,811.8 449.1,816.5" fill="#000"/>
<line x1="524.5" y1="733.8" x2="548.7" y2="811.1" stroke="#000" stroke-width="2.4"/>
<polygon points="552.6,823.5 542.7,811.9 554.1,808.3" fill="#000"/>
<line x1="589.6" y1="735.5" x2="637.2" y2="812.4" stroke="#000" stroke-width="2.4"/>
<polygon points="644.0,823.5 631.5,814.7 641.7,808.4" fill="#000"/>
<path d="M411.8,871 L176,871 Q162,871 162,857 L162,825 Q162,811 176,811 L809,811 Q823,811 823,825 L823,857 Q823,871 809,871 L411.8,871 L411.8,985" fill="none" stroke="#2b579a" stroke-width="3" stroke-dasharray="13 7"/>
<polygon points="405.5,981 418,981 411.8,993" fill="#2b579a"/>
<g transform="translate(223.5,839) rotate(-30) scale(1.0)">
<path d="M-28.0,2 C-11.200000000000001,-8 8.4,9 28.0,-2" stroke="#c84a30" stroke-width="26" stroke-dasharray="0.9 2" fill="none"/>
<circle cx="-28.0" cy="2" r="11.3" fill="none" stroke="#c84a30" stroke-width="3.6" stroke-dasharray="0.9 2"/>
<circle cx="28.0" cy="-2" r="11.3" fill="none" stroke="#c84a30" stroke-width="3.6" stroke-dasharray="0.9 2"/>
<path d="M-28.0,2 C-11.200000000000001,-8 8.4,9 28.0,-2" stroke="#a8160c" stroke-width="19" stroke-linecap="round" fill="none"/>
<circle cx="-5.6000000000000005" cy="0" r="1" fill="#8fd0a0"/><circle cx="22.400000000000002" cy="-2" r="1" fill="#8fd0a0"/>
</g>
<text x="278" y="834" font-family="'Liberation Serif', serif" font-size="21.4" font-weight="bold" font-style="normal" fill="#111" text-anchor="start" >Pasteurized</text>
<text x="258.7" y="862.2" font-family="'Liberation Serif', serif" font-size="23.6" font-weight="bold" font-style="italic" fill="#111" text-anchor="start" >A. muciniphila</text>
<ellipse cx="431" cy="850" rx="14" ry="9.5" fill="#1670b8" stroke="#333" stroke-width="1"/>
<text x="450.5" y="855.2" font-family="'Liberation Serif', serif" font-size="24" font-weight="bold" font-style="normal" fill="#111" text-anchor="start" >AmEVs</text>
<ellipse cx="557" cy="849" rx="5.5" ry="8.5" fill="url(#grb)" stroke="#222" stroke-width="1"/>
<text x="575.5" y="855.2" font-family="'Liberation Serif', serif" font-size="24" font-weight="bold" font-style="normal" fill="#111" text-anchor="start" >P9</text>
<ellipse cx="654.7" cy="850.6" rx="7" ry="9.5" fill="url(#orb)"/>
<text x="674" y="856" font-family="'Liberation Serif', serif" font-size="24" font-weight="bold" font-style="normal" fill="#111" text-anchor="start" >Amuc_1100</text>
<line x1="443.5" y1="876.3" x2="482.2" y2="903.9" stroke="#000" stroke-width="2.2"/>
<polygon points="492.8,911.5 477.9,908.2 484.9,898.5" fill="#000"/>
<line x1="573.7" y1="872.8" x2="540.9" y2="904.3" stroke="#000" stroke-width="2.2"/>
<polygon points="531.5,913.3 537.4,899.3 545.8,907.9" fill="#000"/>
<line x1="582.5" y1="872.8" x2="590.8" y2="897.4" stroke="#000" stroke-width="2.2"/>
<polygon points="594.9,909.7 584.8,898.3 596.1,894.5" fill="#000"/>
<line x1="662.3" y1="867.5" x2="694.1" y2="940.1" stroke="#000" stroke-width="2.2"/>
<polygon points="699.3,952.0 688.2,941.6 699.2,936.8" fill="#000"/>
<text x="487.5" y="938" font-family="'Liberation Serif', serif" font-size="24" font-weight="bold" font-style="normal" fill="#111" text-anchor="start" >IL-6</text>
<path d="M515.7,945 C522,965 535,975 548,979" fill="none" stroke="#000" stroke-width="2.2"/>
<polygon points="553,981 539,984 542,971" fill="#000"/>
<rect x="599" y="960" width="6" height="32" fill="#1a9a80"/>
<ellipse cx="602" cy="914" rx="7" ry="3.6" fill="#20a888" stroke="#127060" stroke-width="0.8"/>
<ellipse cx="602" cy="921" rx="7" ry="3.6" fill="#20a888" stroke="#127060" stroke-width="0.8"/>
<ellipse cx="602" cy="928" rx="7" ry="3.6" fill="#20a888" stroke="#127060" stroke-width="0.8"/>
<ellipse cx="602" cy="935" rx="7" ry="3.6" fill="#20a888" stroke="#127060" stroke-width="0.8"/>
<ellipse cx="602" cy="942" rx="7" ry="3.6" fill="#20a888" stroke="#127060" stroke-width="0.8"/>
<ellipse cx="602" cy="949" rx="7" ry="3.6" fill="#20a888" stroke="#127060" stroke-width="0.8"/>
<ellipse cx="602" cy="956" rx="7" ry="3.6" fill="#20a888" stroke="#127060" stroke-width="0.8"/>
<ellipse cx="602" cy="963" rx="7" ry="3.6" fill="#20a888" stroke="#127060" stroke-width="0.8"/>
<ellipse cx="588" cy="946.7" rx="6" ry="5" fill="url(#grb)" stroke="#222" stroke-width="0.8"/>
<text x="543.8" y="1015.3" font-family="'Liberation Serif', serif" font-size="24" font-weight="bold" font-style="normal" fill="#111" text-anchor="start" >ICAM-2</text>
<line x1="594.9" y1="1066.4" x2="599.5" y2="1090.5" stroke="#000" stroke-width="2.2"/>
<polygon points="601.9,1103.3 593.4,1090.7 605.2,1088.4" fill="#000"/>
<text x="573.7" y="1131.5" font-family="'Liberation Serif', serif" font-size="24" font-weight="bold" font-style="normal" fill="#111" text-anchor="start" >GLP-1</text>
<line x1="655.4" y1="1142" x2="655.4" y2="1109.3" stroke="#f00" stroke-width="2.6"/>
<polygon points="655.4,1096.3 660.4,1110.3 650.4,1110.3" fill="#f00"/>
<ellipse cx="563" cy="1126" rx="4" ry="5" fill="#f6c0d0"/>
<ellipse cx="586" cy="1138.5" rx="4" ry="5.5" transform="rotate(30 586 1138.5)" fill="#f6c0d0"/>
<path d="M601.9,1131 L601.9,1154.4 L1327.6,1154.4 L1327.6,1125.5 M1162.1,1125.5 L1162.1,1154.4" fill="none" stroke="#000" stroke-width="2"/>
<path d="M892.9,1154.4 L892.9,1180 M884,1170 L892.9,1180 L901.8,1170" fill="none" stroke="#000" stroke-width="2"/>
<rect x="263.3" y="1089.3" width="289.3" height="73.9" fill="#e2efda"/>
<line x1="405.9" y1="1028" x2="405.9" y2="1089" stroke="#000" stroke-width="2"/>
<text x="280.5" y="1119.2" font-family="'Liberation Serif', serif" font-size="24" font-weight="bold" font-style="normal" fill="#111" text-anchor="start" >Improve the intestinal</text>
<text x="280.5" y="1145.6" font-family="'Liberation Serif', serif" font-size="24" font-weight="bold" font-style="normal" fill="#111" text-anchor="start" >permeability</text>
<path d="M693.8,962.9 C693,958 708,958 709,962.9 C708,970 702,978 699.5,985 C697,978 694,970 693.8,962.9 Z" fill="#4a8a30"/>
<ellipse cx="701" cy="960" rx="5" ry="6.5" fill="url(#orb)"/>
<text x="713.4" y="967.8" font-family="'Liberation Serif', serif" font-size="24" font-weight="bold" font-style="normal" fill="#111" text-anchor="start" >TLR2</text>
<line x1="792.6" y1="989" x2="792.6" y2="959.7" stroke="#f00" stroke-width="2.6"/>
<polygon points="792.6,946.7 797.6,960.7 787.6,960.7" fill="#f00"/>
<text x="875.3" y="929" font-family="'Liberation Serif', serif" font-size="24" font-weight="bold" font-style="normal" fill="#111" text-anchor="start" >Mucin</text>
<circle cx="922.8" cy="943.2" r="6.8" fill="#7d9ee0"/>
<circle cx="910.5" cy="955.5" r="6.8" fill="#7d9ee0"/>
<circle cx="928" cy="962.6" r="6.8" fill="#7d9ee0"/>
<circle cx="940.4" cy="952" r="6.8" fill="#7d9ee0"/>
<path d="M915.7,974.9 C920,968 925,962 931,957" fill="none" stroke="#000" stroke-width="1.8"/>
<polygon points="934,953 926,957 931,962" fill="#000"/>
<line x1="961.5" y1="939.7" x2="961.5" y2="910.4" stroke="#f00" stroke-width="2.6"/>
<polygon points="961.5,897.4 966.5,911.4 956.5,911.4" fill="#f00"/>
<text x="972" y="948.5" font-family="'Liberation Serif', serif" font-size="24" font-weight="bold" font-style="normal" fill="#111" text-anchor="start" >TLR4</text>
<line x1="1045" y1="922" x2="1045.0" y2="947.8" stroke="#2f5597" stroke-width="3"/>
<polygon points="1045.0,960.8 1039.0,946.8 1051.0,946.8" fill="#2f5597"/>
<path d="M984.2,959.8 C983,968 990,972 994.5,973 L994.5,986 L997,986 L997.5,973 C1003,972 1010,968 1008.5,959.8 L1003.5,960.5 C1004,966 1000,968.5 996.3,968.5 C992.5,968.5 988.8,966 989,960.5 Z" fill="#4aa0c0"/>
<rect x="1130.5" y="970" width="21" height="23" rx="3" fill="#3c6a28" stroke="#24461a" stroke-width="1.2"/>
<path d="M1132.5,971 q2,-6 4,0 M1132.5,992 q2,6 4,0" fill="none" stroke="#24461a" stroke-width="2"/>
<line x1="1133.5" y1="973" x2="1133.5" y2="991" stroke="#24461a" stroke-width="0.8" opacity="0.6"/>
<path d="M1136.7,971 q2,-6 4,0 M1136.7,992 q2,6 4,0" fill="none" stroke="#24461a" stroke-width="2"/>
<line x1="1137.7" y1="973" x2="1137.7" y2="991" stroke="#24461a" stroke-width="0.8" opacity="0.6"/>
<path d="M1140.9,971 q2,-6 4,0 M1140.9,992 q2,6 4,0" fill="none" stroke="#24461a" stroke-width="2"/>
<line x1="1141.9" y1="973" x2="1141.9" y2="991" stroke="#24461a" stroke-width="0.8" opacity="0.6"/>
<path d="M1145.1,971 q2,-6 4,0 M1145.1,992 q2,6 4,0" fill="none" stroke="#24461a" stroke-width="2"/>
<line x1="1146.1" y1="973" x2="1146.1" y2="991" stroke="#24461a" stroke-width="0.8" opacity="0.6"/>
<path d="M1149.3,971 q2,-6 4,0 M1149.3,992 q2,6 4,0" fill="none" stroke="#24461a" stroke-width="2"/>
<line x1="1150.3" y1="973" x2="1150.3" y2="991" stroke="#24461a" stroke-width="0.8" opacity="0.6"/>
<path d="M1147.5,993 q3,5 -1,9 q-2,3 1,6" fill="none" stroke="#24461a" stroke-width="2"/>
<rect x="1322.5" y="975" width="21" height="23" rx="3" fill="#7040a8" stroke="#4a2a80" stroke-width="1.2"/>
<path d="M1324.5,976 q2,-6 4,0 M1324.5,997 q2,6 4,0" fill="none" stroke="#4a2a80" stroke-width="2"/>
<line x1="1325.5" y1="978" x2="1325.5" y2="996" stroke="#4a2a80" stroke-width="0.8" opacity="0.6"/>
<path d="M1328.7,976 q2,-6 4,0 M1328.7,997 q2,6 4,0" fill="none" stroke="#4a2a80" stroke-width="2"/>
<line x1="1329.7" y1="978" x2="1329.7" y2="996" stroke="#4a2a80" stroke-width="0.8" opacity="0.6"/>
<path d="M1332.9,976 q2,-6 4,0 M1332.9,997 q2,6 4,0" fill="none" stroke="#4a2a80" stroke-width="2"/>
<line x1="1333.9" y1="978" x2="1333.9" y2="996" stroke="#4a2a80" stroke-width="0.8" opacity="0.6"/>
<path d="M1337.1,976 q2,-6 4,0 M1337.1,997 q2,6 4,0" fill="none" stroke="#4a2a80" stroke-width="2"/>
<line x1="1338.1" y1="978" x2="1338.1" y2="996" stroke="#4a2a80" stroke-width="0.8" opacity="0.6"/>
<path d="M1341.3,976 q2,-6 4,0 M1341.3,997 q2,6 4,0" fill="none" stroke="#4a2a80" stroke-width="2"/>
<line x1="1342.3" y1="978" x2="1342.3" y2="996" stroke="#4a2a80" stroke-width="0.8" opacity="0.6"/>
<path d="M1339.5,998 q3,5 -1,9 q-2,3 1,6" fill="none" stroke="#4a2a80" stroke-width="2"/>
<rect x="1627.2" y="979" width="21" height="23" rx="3" fill="#3c6a28" stroke="#24461a" stroke-width="1.2"/>
<path d="M1629.2,980 q2,-6 4,0 M1629.2,1001 q2,6 4,0" fill="none" stroke="#24461a" stroke-width="2"/>
<line x1="1630.2" y1="982" x2="1630.2" y2="1000" stroke="#24461a" stroke-width="0.8" opacity="0.6"/>
<path d="M1633.4,980 q2,-6 4,0 M1633.4,1001 q2,6 4,0" fill="none" stroke="#24461a" stroke-width="2"/>
<line x1="1634.4" y1="982" x2="1634.4" y2="1000" stroke="#24461a" stroke-width="0.8" opacity="0.6"/>
<path d="M1637.6000000000001,980 q2,-6 4,0 M1637.6000000000001,1001 q2,6 4,0" fill="none" stroke="#24461a" stroke-width="2"/>
<line x1="1638.6000000000001" y1="982" x2="1638.6000000000001" y2="1000" stroke="#24461a" stroke-width="0.8" opacity="0.6"/>
<path d="M1641.8,980 q2,-6 4,0 M1641.8,1001 q2,6 4,0" fill="none" stroke="#24461a" stroke-width="2"/>
<line x1="1642.8" y1="982" x2="1642.8" y2="1000" stroke="#24461a" stroke-width="0.8" opacity="0.6"/>
<path d="M1646.0,980 q2,-6 4,0 M1646.0,1001 q2,6 4,0" fill="none" stroke="#24461a" stroke-width="2"/>
<line x1="1647.0" y1="982" x2="1647.0" y2="1000" stroke="#24461a" stroke-width="0.8" opacity="0.6"/>
<path d="M1644.2,1002 q3,5 -1,9 q-2,3 1,6" fill="none" stroke="#24461a" stroke-width="2"/>
<rect x="1703.5" y="978" width="21" height="23" rx="3" fill="#7040a8" stroke="#4a2a80" stroke-width="1.2"/>
<path d="M1705.5,979 q2,-6 4,0 M1705.5,1000 q2,6 4,0" fill="none" stroke="#4a2a80" stroke-width="2"/>
<line x1="1706.5" y1="981" x2="1706.5" y2="999" stroke="#4a2a80" stroke-width="0.8" opacity="0.6"/>
<path d="M1709.7,979 q2,-6 4,0 M1709.7,1000 q2,6 4,0" fill="none" stroke="#4a2a80" stroke-width="2"/>
<line x1="1710.7" y1="981" x2="1710.7" y2="999" stroke="#4a2a80" stroke-width="0.8" opacity="0.6"/>
<path d="M1713.9,979 q2,-6 4,0 M1713.9,1000 q2,6 4,0" fill="none" stroke="#4a2a80" stroke-width="2"/>
<line x1="1714.9" y1="981" x2="1714.9" y2="999" stroke="#4a2a80" stroke-width="0.8" opacity="0.6"/>
<path d="M1718.1,979 q2,-6 4,0 M1718.1,1000 q2,6 4,0" fill="none" stroke="#4a2a80" stroke-width="2"/>
<line x1="1719.1" y1="981" x2="1719.1" y2="999" stroke="#4a2a80" stroke-width="0.8" opacity="0.6"/>
<path d="M1722.3,979 q2,-6 4,0 M1722.3,1000 q2,6 4,0" fill="none" stroke="#4a2a80" stroke-width="2"/>
<line x1="1723.3" y1="981" x2="1723.3" y2="999" stroke="#4a2a80" stroke-width="0.8" opacity="0.6"/>
<path d="M1720.5,1001 q3,5 -1,9 q-2,3 1,6" fill="none" stroke="#4a2a80" stroke-width="2"/>
<text x="1105" y="1019.4" font-family="'Liberation Serif', serif" font-size="20.5" font-weight="bold" font-style="normal" fill="#111" text-anchor="start" >GPR41</text>
<text x="1317" y="1036" font-family="'Liberation Serif', serif" font-size="20.5" font-weight="bold" font-style="normal" fill="#111" text-anchor="start" >GPR43</text>
<text x="1597.2" y="1020.3" font-family="'Liberation Serif', serif" font-size="20.5" font-weight="bold" font-style="normal" fill="#111" text-anchor="start" >GPR41</text>
<text x="1079.4" y="1092.8" font-family="'Liberation Serif', serif" font-size="24" font-weight="bold" font-style="normal" fill="#111" text-anchor="start" >L cell</text>
<text x="1344" y="1094.2" font-family="'Liberation Serif', serif" font-size="24" font-weight="bold" font-style="normal" fill="#111" text-anchor="start" >L cell</text>
<text x="861" y="1092.8" font-family="'Liberation Serif', serif" font-size="24" font-weight="bold" font-style="normal" fill="#111" text-anchor="start" >Goblet cell</text>
<text x="1498.7" y="1104.7" font-family="'Liberation Serif', serif" font-size="24" font-weight="bold" font-style="normal" fill="#111" text-anchor="start" >Goblet cell</text>
<text x="1623.6" y="1104.7" font-family="'Liberation Serif', serif" font-size="24" font-weight="bold" font-style="normal" fill="#111" text-anchor="start" >L cell</text>
<path d="M1149.8,1078.7 C1155,1088 1160,1091 1168,1092" fill="none" stroke="#000" stroke-width="1.8"/>
<polygon points="1174,1093 1164,1087 1164,1098" fill="#000"/>
<path d="M1340,1078 C1335,1088 1328,1092 1320,1093" fill="none" stroke="#000" stroke-width="1.8"/>
<polygon points="1313,1094 1323,1088 1323,1099" fill="#000"/>
<ellipse cx="1162" cy="1107" rx="3.5" ry="5" transform="rotate(0 1162 1107)" fill="#f6c0d0"/>
<ellipse cx="1188.5" cy="1110" rx="3.5" ry="5" transform="rotate(30 1188.5 1110)" fill="#f6c0d0"/>
<ellipse cx="1204" cy="1107" rx="3.5" ry="5" transform="rotate(30 1204 1107)" fill="#f6c0d0"/>
<ellipse cx="1296" cy="1099.8" rx="3.5" ry="5" transform="rotate(30 1296 1099.8)" fill="#f6c0d0"/>
<ellipse cx="1311.7" cy="1108.6" rx="3.5" ry="5" transform="rotate(30 1311.7 1108.6)" fill="#f6c0d0"/>
<ellipse cx="1331" cy="1113.9" rx="3.5" ry="5" transform="rotate(0 1331 1113.9)" fill="#f6c0d0"/>
<ellipse cx="1352.8" cy="1117" rx="3.5" ry="5" transform="rotate(30 1352.8 1117)" fill="#f6c0d0"/>
<text x="877" y="705.5" font-family="'Liberation Serif', serif" font-size="24" font-weight="bold" font-style="italic" fill="#111" text-anchor="start" >A. muciniphila</text>
<ellipse cx="956.2" cy="784.8" rx="96.8" ry="49.3" fill="none" stroke="#111" stroke-width="2.2" stroke-dasharray="6 4"/>
<g transform="translate(929.7,754.5) rotate(-18) scale(1.0)">
<path d="M-15.0,2 C-6.0,-3.5 4.5,4.5 15.0,-2" stroke="#7a8aa0" stroke-width="22.5" stroke-dasharray="0.9 2" fill="none"/>
<circle cx="-15.0" cy="2" r="9.55" fill="none" stroke="#7a8aa0" stroke-width="3.6" stroke-dasharray="0.9 2"/>
<circle cx="15.0" cy="-2" r="9.55" fill="none" stroke="#7a8aa0" stroke-width="3.6" stroke-dasharray="0.9 2"/>
<path d="M-15.0,2 C-6.0,-3.5 4.5,4.5 15.0,-2" stroke="#0f72c0" stroke-width="15.5" stroke-linecap="round" fill="none"/>
<circle cx="-3.0" cy="0" r="1" fill="#8fd0a0"/><circle cx="12.0" cy="-2" r="1" fill="#8fd0a0"/>
</g>
<g transform="translate(981.3,770.8) rotate(8) scale(1.0)">
<path d="M-15.0,2 C-6.0,-3.5 4.5,4.5 15.0,-2" stroke="#7a8aa0" stroke-width="22.5" stroke-dasharray="0.9 2" fill="none"/>
<circle cx="-15.0" cy="2" r="9.55" fill="none" stroke="#7a8aa0" stroke-width="3.6" stroke-dasharray="0.9 2"/>
<circle cx="15.0" cy="-2" r="9.55" fill="none" stroke="#7a8aa0" stroke-width="3.6" stroke-dasharray="0.9 2"/>
<path d="M-15.0,2 C-6.0,-3.5 4.5,4.5 15.0,-2" stroke="#0f72c0" stroke-width="15.5" stroke-linecap="round" fill="none"/>
<circle cx="-3.0" cy="0" r="1" fill="#8fd0a0"/><circle cx="12.0" cy="-2" r="1" fill="#8fd0a0"/>
</g>
<g transform="translate(908,788.9) rotate(-22) scale(1.0)">
<path d="M-15.0,2 C-6.0,-3.5 4.5,4.5 15.0,-2" stroke="#7a8aa0" stroke-width="22.5" stroke-dasharray="0.9 2" fill="none"/>
<circle cx="-15.0" cy="2" r="9.55" fill="none" stroke="#7a8aa0" stroke-width="3.6" stroke-dasharray="0.9 2"/>
<circle cx="15.0" cy="-2" r="9.55" fill="none" stroke="#7a8aa0" stroke-width="3.6" stroke-dasharray="0.9 2"/>
<path d="M-15.0,2 C-6.0,-3.5 4.5,4.5 15.0,-2" stroke="#0f72c0" stroke-width="15.5" stroke-linecap="round" fill="none"/>
<circle cx="-3.0" cy="0" r="1" fill="#8fd0a0"/><circle cx="12.0" cy="-2" r="1" fill="#8fd0a0"/>
</g>
<g transform="translate(1015.7,797) rotate(8) scale(1.0)">
<path d="M-15.0,2 C-6.0,-3.5 4.5,4.5 15.0,-2" stroke="#7a8aa0" stroke-width="22.5" stroke-dasharray="0.9 2" fill="none"/>
<circle cx="-15.0" cy="2" r="9.55" fill="none" stroke="#7a8aa0" stroke-width="3.6" stroke-dasharray="0.9 2"/>
<circle cx="15.0" cy="-2" r="9.55" fill="none" stroke="#7a8aa0" stroke-width="3.6" stroke-dasharray="0.9 2"/>
<path d="M-15.0,2 C-6.0,-3.5 4.5,4.5 15.0,-2" stroke="#0f72c0" stroke-width="15.5" stroke-linecap="round" fill="none"/>
<circle cx="-3.0" cy="0" r="1" fill="#8fd0a0"/><circle cx="12.0" cy="-2" r="1" fill="#8fd0a0"/>
</g>
<g transform="translate(959.1,807.9) rotate(8) scale(1.0)">
<path d="M-15.0,2 C-6.0,-3.5 4.5,4.5 15.0,-2" stroke="#7a8aa0" stroke-width="22.5" stroke-dasharray="0.9 2" fill="none"/>
<circle cx="-15.0" cy="2" r="9.55" fill="none" stroke="#7a8aa0" stroke-width="3.6" stroke-dasharray="0.9 2"/>
<circle cx="15.0" cy="-2" r="9.55" fill="none" stroke="#7a8aa0" stroke-width="3.6" stroke-dasharray="0.9 2"/>
<path d="M-15.0,2 C-6.0,-3.5 4.5,4.5 15.0,-2" stroke="#0f72c0" stroke-width="15.5" stroke-linecap="round" fill="none"/>
<circle cx="-3.0" cy="0" r="1" fill="#8fd0a0"/><circle cx="12.0" cy="-2" r="1" fill="#8fd0a0"/>
</g>
<text x="1178" y="737.3" font-family="'Liberation Serif', serif" font-size="24" font-weight="bold" font-style="normal" fill="#111" text-anchor="start" >Vitamin B12</text>
<path d="M1164,728.5 C1120,728 1085,735 1064,750" fill="none" stroke="#000" stroke-width="2.2"/>
<polygon points="1057,754 1066,742 1070,752" fill="#000"/>
<path d="M1398.5,751.3 C1370,735 1345,731 1318,735" fill="none" stroke="#000" stroke-width="2.2"/>
<polygon points="1310,736 1321,729 1321,741" fill="#000"/>
<path d="M1130,840 C1125,800 1170,785 1220,788 C1275,790 1305,815 1305,840 C1305,870 1270,895 1210,893 C1160,891 1133,870 1130,840 Z" fill="#fcefc8"/>
<text x="1156.9" y="816.5" font-family="'Liberation Serif', serif" font-size="24" font-weight="bold" font-style="normal" fill="#111" text-anchor="start" >1,2-propandiol</text>
<text x="1156.9" y="851.7" font-family="'Liberation Serif', serif" font-size="24" font-weight="bold" font-style="normal" fill="#111" text-anchor="start" >Acetate</text>
<text x="1144.5" y="878.1" font-family="'Liberation Serif', serif" font-size="24" font-weight="bold" font-style="normal" fill="#111" text-anchor="start" >Propionate</text>
<circle cx="1241.3" cy="842.9" r="3.6" fill="#e060e0" stroke="#d8d0d8" stroke-width="1.6"/>
<circle cx="1273" cy="869.3" r="3.6" fill="#2a4a1a" stroke="#c8c8c0" stroke-width="1.6"/>
<path d="M1039,825.3 C1055,845 1080,852 1110,850" fill="none" stroke="#000" stroke-width="2.2"/>
<polygon points="1118,850 1108,844 1108,856" fill="#000"/>
<path d="M1288.9,869.3 L1322.3,869.3 M1345.7,865.6 C1370,860 1395,850 1407,836" fill="none" stroke="#000" stroke-width="2.2"/>
<polygon points="1409,832 1400,836 1406,842" fill="#000"/>
<path d="M1329.4,813 L1345.7,813 L1345.7,946" fill="none" stroke="#000" stroke-width="2.2"/>
<polygon points="1345.7,958.8 1339.7,945 1351.7,945" fill="#000"/>
<path d="M1125.2,869.3 L1125.2,918.6 L1148,918.6 L1148,936" fill="none" stroke="#000" stroke-width="2.2"/>
<polygon points="1148,948.5 1142,935 1154,935" fill="#000"/>
<text x="1373.9" y="709" font-family="'Liberation Serif', serif" font-size="23.6" font-weight="bold" font-style="normal" fill="#111" text-anchor="start" >Butyrate-producer</text>
<ellipse cx="1482.9" cy="786.4" rx="96.7" ry="49.2" fill="none" stroke="#111" stroke-width="2.2" stroke-dasharray="6 4"/>
<g transform="translate(1429.9,773.5) rotate(-30) scale(1.0)" fill="none" stroke="#1e5a1e" stroke-width="1.6" stroke-linecap="round">
<path d="M-9,-4.5 c0,-3 2,-4 4,-4.5"/><path d="M-10,4.5 c0,3 -2,4 -4,4.5"/>
<path d="M-2,-4.5 c0,-3 2,-4 4,-4.5"/><path d="M-3,4.5 c0,3 -2,4 -4,4.5"/>
<path d="M5,-4.5 c0,-3 2,-4 4,-4.5"/><path d="M4,4.5 c0,3 -2,4 -4,4.5"/>
<path d="M11,-4.5 c0,-3 2,-4 4,-4.5"/><path d="M10,4.5 c0,3 -2,4 -4,4.5"/>
<path d="M-13.5,-2 c-3,-1 -5,-3 -4,-6 M-13.5,2 c-3,1 -5,3 -5,5 M13.5,-2 c3,-1 5,-3 4,-6 M13.5,2 c3,1 5,3 4,6"/>
<rect x="-14" y="-4.8" width="28" height="9.6" rx="4.8" fill="#22b04a"/>
</g>
<g transform="translate(1482.8,762.2) rotate(2) scale(1.0)" fill="none" stroke="#1e5a1e" stroke-width="1.6" stroke-linecap="round">
<path d="M-9,-4.5 c0,-3 2,-4 4,-4.5"/><path d="M-10,4.5 c0,3 -2,4 -4,4.5"/>
<path d="M-2,-4.5 c0,-3 2,-4 4,-4.5"/><path d="M-3,4.5 c0,3 -2,4 -4,4.5"/>
<path d="M5,-4.5 c0,-3 2,-4 4,-4.5"/><path d="M4,4.5 c0,3 -2,4 -4,4.5"/>
<path d="M11,-4.5 c0,-3 2,-4 4,-4.5"/><path d="M10,4.5 c0,3 -2,4 -4,4.5"/>
<path d="M-13.5,-2 c-3,-1 -5,-3 -4,-6 M-13.5,2 c-3,1 -5,3 -5,5 M13.5,-2 c3,-1 5,-3 4,-6 M13.5,2 c3,1 5,3 4,6"/>
<rect x="-14" y="-4.8" width="28" height="9.6" rx="4.8" fill="#22b04a"/>
</g>
<g transform="translate(1539.8,766.2) rotate(3) scale(1.0)" fill="none" stroke="#1e5a1e" stroke-width="1.6" stroke-linecap="round">
<path d="M-9,-4.5 c0,-3 2,-4 4,-4.5"/><path d="M-10,4.5 c0,3 -2,4 -4,4.5"/>
<path d="M-2,-4.5 c0,-3 2,-4 4,-4.5"/><path d="M-3,4.5 c0,3 -2,4 -4,4.5"/>
<path d="M5,-4.5 c0,-3 2,-4 4,-4.5"/><path d="M4,4.5 c0,3 -2,4 -4,4.5"/>
<path d="M11,-4.5 c0,-3 2,-4 4,-4.5"/><path d="M10,4.5 c0,3 -2,4 -4,4.5"/>
<path d="M-13.5,-2 c-3,-1 -5,-3 -4,-6 M-13.5,2 c-3,1 -5,3 -5,5 M13.5,-2 c3,-1 5,-3 4,-6 M13.5,2 c3,1 5,3 4,6"/>
<rect x="-14" y="-4.8" width="28" height="9.6" rx="4.8" fill="#22b04a"/>
</g>
<g transform="translate(1455.7,811.5) rotate(-30) scale(1.0)" fill="none" stroke="#1e5a1e" stroke-width="1.6" stroke-linecap="round">
<path d="M-9,-4.5 c0,-3 2,-4 4,-4.5"/><path d="M-10,4.5 c0,3 -2,4 -4,4.5"/>
<path d="M-2,-4.5 c0,-3 2,-4 4,-4.5"/><path d="M-3,4.5 c0,3 -2,4 -4,4.5"/>
<path d="M5,-4.5 c0,-3 2,-4 4,-4.5"/><path d="M4,4.5 c0,3 -2,4 -4,4.5"/>
<path d="M11,-4.5 c0,-3 2,-4 4,-4.5"/><path d="M10,4.5 c0,3 -2,4 -4,4.5"/>
<path d="M-13.5,-2 c-3,-1 -5,-3 -4,-6 M-13.5,2 c-3,1 -5,3 -5,5 M13.5,-2 c3,-1 5,-3 4,-6 M13.5,2 c3,1 5,3 4,6"/>
<rect x="-14" y="-4.8" width="28" height="9.6" rx="4.8" fill="#22b04a"/>
</g>
<g transform="translate(1508.6,802) rotate(2) scale(1.0)" fill="none" stroke="#1e5a1e" stroke-width="1.6" stroke-linecap="round">
<path d="M-9,-4.5 c0,-3 2,-4 4,-4.5"/><path d="M-10,4.5 c0,3 -2,4 -4,4.5"/>
<path d="M-2,-4.5 c0,-3 2,-4 4,-4.5"/><path d="M-3,4.5 c0,3 -2,4 -4,4.5"/>
<path d="M5,-4.5 c0,-3 2,-4 4,-4.5"/><path d="M4,4.5 c0,3 -2,4 -4,4.5"/>
<path d="M11,-4.5 c0,-3 2,-4 4,-4.5"/><path d="M10,4.5 c0,3 -2,4 -4,4.5"/>
<path d="M-13.5,-2 c-3,-1 -5,-3 -4,-6 M-13.5,2 c-3,1 -5,3 -5,5 M13.5,-2 c3,-1 5,-3 4,-6 M13.5,2 c3,1 5,3 4,6"/>
<rect x="-14" y="-4.8" width="28" height="9.6" rx="4.8" fill="#22b04a"/>
</g>
<line x1="1581.4" y1="791.7" x2="1605.6" y2="791.7" stroke="#000" stroke-width="2.2"/>
<polygon points="1616.6,791.7 1604.6,797.2 1604.6,786.2" fill="#000"/>
<text x="1616.6" y="798.7" font-family="'Liberation Serif', serif" font-size="24" font-weight="bold" font-style="normal" fill="#111" text-anchor="start" >Butyrate</text>
<circle cx="1713.3" cy="791.7" r="3.2" fill="#1670b8" stroke="#ccc" stroke-width="1"/>
<path d="M1639.4,805.8 L1639.4,942" fill="none" stroke="#000" stroke-width="2.2"/>
<polygon points="1639.4,955.3 1633.4,941 1645.4,941" fill="#000"/>
<path d="M1718.6,791.7 L1727.4,791.7 L1727.4,935" fill="none" stroke="#000" stroke-width="2.2"/>
<polygon points="1727.4,948.2 1721.4,934 1733.4,934" fill="#000"/>
<g transform="translate(1775.5,823) rotate(-28) scale(1.0)">
<path d="M-18.0,2 C-7.2,-5 5.3999999999999995,6 18.0,-2" stroke="#c84a30" stroke-width="20" stroke-dasharray="0.9 2" fill="none"/>
<circle cx="-18.0" cy="2" r="8.3" fill="none" stroke="#c84a30" stroke-width="3.6" stroke-dasharray="0.9 2"/>
<circle cx="18.0" cy="-2" r="8.3" fill="none" stroke="#c84a30" stroke-width="3.6" stroke-dasharray="0.9 2"/>
<path d="M-18.0,2 C-7.2,-5 5.3999999999999995,6 18.0,-2" stroke="#a8160c" stroke-width="13" stroke-linecap="round" fill="none"/>
<circle cx="-3.6" cy="0" r="1" fill="#8fd0a0"/><circle cx="14.4" cy="-2" r="1" fill="#8fd0a0"/>
</g>
<path d="M1780,841 L1780,881.4 L1812,881.4" fill="none" stroke="#c8a030" stroke-width="2.6"/>
<polygon points="1822,881.4 1810,875 1810,888" fill="#c8a030"/>
<text x="1837" y="879.5" font-family="'Liberation Serif', serif" font-size="25" font-weight="bold" font-style="normal" fill="#c09028" text-anchor="start" >Energy</text>
<text x="1837" y="902.5" font-family="'Liberation Serif', serif" font-size="25" font-weight="bold" font-style="normal" fill="#c09028" text-anchor="start" >excretion</text>
<line x1="1951.4" y1="906" x2="1951.4" y2="875.0" stroke="#f00" stroke-width="2.6"/>
<polygon points="1951.4,862.0 1956.4,876.0 1946.4,876.0" fill="#f00"/>
<text x="1525.1" y="953.5" font-family="'Liberation Serif', serif" font-size="24" font-weight="bold" font-style="normal" fill="#111" text-anchor="start" >LPS</text>
<circle cx="1456.5" cy="935.9" r="7.5" fill="#f8d658"/>
<circle cx="1470.6" cy="940.5" r="7.5" fill="#f8d658"/>
<circle cx="1495.2" cy="939.4" r="7.5" fill="#f8d658"/>
<polygon points="1250.5,922.0 1242.1,923.5 1244.7,927.2 1239.0,926.2 1238.5,930.7 1233.9,927.4 1230.4,931.5 1228.3,927.0 1223.0,929.2 1224.1,925.0 1218.6,924.7 1222.5,922.0 1218.6,919.3 1224.1,919.0 1223.0,914.8 1228.3,917.0 1230.4,912.5 1233.9,916.6 1238.5,913.3 1239.0,917.8 1244.7,916.8 1242.1,920.5" fill="#353b44" transform="rotate(-15 1232.5 922)"/>
<polygon points="1402.4,921.8 1394.0,923.3 1396.6,927.0 1390.9,926.0 1390.4,930.5 1385.8,927.2 1382.3,931.3 1380.2,926.8 1374.9,929.0 1376.0,924.8 1370.5,924.5 1374.4,921.8 1370.5,919.1 1376.0,918.8 1374.9,914.6 1380.2,916.8 1382.3,912.3 1385.8,916.4 1390.4,913.1 1390.9,917.6 1396.6,916.6 1394.0,920.3" fill="#353b44" transform="rotate(-15 1384.4 921.8)"/>
<polygon points="1486.8,923.6 1478.4,925.1 1481.0,928.8 1475.3,927.8 1474.8,932.3 1470.2,929.0 1466.7,933.1 1464.6,928.6 1459.3,930.8 1460.4,926.6 1454.9,926.3 1458.8,923.6 1454.9,920.9 1460.4,920.6 1459.3,916.4 1464.6,918.6 1466.7,914.1 1470.2,918.2 1474.8,914.9 1475.3,919.4 1481.0,918.4 1478.4,922.1" fill="#353b44" transform="rotate(-15 1468.8 923.6)"/>
<polygon points="1576.5,925.4 1568.1,926.9 1570.7,930.6 1565.0,929.6 1564.5,934.1 1559.9,930.8 1556.4,934.9 1554.3,930.4 1549.0,932.6 1550.1,928.4 1544.6,928.1 1548.5,925.4 1544.6,922.7 1550.1,922.4 1549.0,918.2 1554.3,920.4 1556.4,915.9 1559.9,920.0 1564.5,916.7 1565.0,921.2 1570.7,920.2 1568.1,923.9" fill="#353b44" transform="rotate(-15 1558.5 925.4)"/>
<polygon points="1615.2,932.4 1606.8,933.9 1609.4,937.6 1603.7,936.6 1603.2,941.1 1598.6,937.8 1595.1,941.9 1593.0,937.4 1587.7,939.6 1588.8,935.4 1583.3,935.1 1587.2,932.4 1583.3,929.7 1588.8,929.4 1587.7,925.2 1593.0,927.4 1595.1,922.9 1598.6,927.0 1603.2,923.7 1603.7,928.2 1609.4,927.2 1606.8,930.9" fill="#353b44" transform="rotate(-15 1597.2 932.4)"/>
<polygon points="1675.0,914.8 1666.6,916.3 1669.2,920.0 1663.5,919.0 1663.0,923.5 1658.4,920.2 1654.9,924.3 1652.8,919.8 1647.5,922.0 1648.6,917.8 1643.1,917.5 1647.0,914.8 1643.1,912.1 1648.6,911.8 1647.5,907.6 1652.8,909.8 1654.9,905.3 1658.4,909.4 1663.0,906.1 1663.5,910.6 1669.2,909.6 1666.6,913.3" fill="#353b44" transform="rotate(-15 1657 914.8)"/>
<polygon points="1717.2,916.6 1708.8,918.1 1711.4,921.8 1705.7,920.8 1705.2,925.3 1700.6,922.0 1697.1,926.1 1695.0,921.6 1689.7,923.8 1690.8,919.6 1685.3,919.3 1689.2,916.6 1685.3,913.9 1690.8,913.6 1689.7,909.4 1695.0,911.6 1697.1,907.1 1700.6,911.2 1705.2,907.9 1705.7,912.4 1711.4,911.4 1708.8,915.1" fill="#353b44" transform="rotate(-15 1699.2 916.6)"/>
<polygon points="1294.5,997.7 1286.1,999.2 1288.7,1002.9 1283.0,1001.9 1282.5,1006.4 1277.9,1003.1 1274.4,1007.2 1272.3,1002.7 1267.0,1004.9 1268.1,1000.7 1262.6,1000.4 1266.5,997.7 1262.6,995.0 1268.1,994.7 1267.0,990.5 1272.3,992.7 1274.4,988.2 1277.9,992.3 1282.5,989.0 1283.0,993.5 1288.7,992.5 1286.1,996.2" fill="#353b44" transform="rotate(-15 1276.5 997.7)"/>
<text x="1859.3" y="958.8" font-family="'Liberation Serif', serif" font-size="23.4" font-weight="bold" font-style="normal" fill="#111" text-anchor="start" >Mucus</text>
<text x="1859.3" y="986.9" font-family="'Liberation Serif', serif" font-size="23.4" font-weight="bold" font-style="normal" fill="#111" text-anchor="start" >thickness</text>
<line x1="1963" y1="987" x2="1963.0" y2="956.0" stroke="#f00" stroke-width="2.6"/>
<polygon points="1963.0,943.0 1968.0,957.0 1958.0,957.0" fill="#f00"/>
<circle cx="1403.8" cy="962.3" r="3.3" fill="#e060e0" stroke="#dcdcd8" stroke-width="1.6"/>
<circle cx="1414.3" cy="950" r="3.3" fill="#e060e0" stroke="#dcdcd8" stroke-width="1.6"/>
<circle cx="1430" cy="957" r="3.3" fill="#e060e0" stroke="#dcdcd8" stroke-width="1.6"/>
<circle cx="1322.9" cy="962.3" r="3.3" fill="#2a4a1a" stroke="#dcdcd8" stroke-width="1.6"/>
<circle cx="1329.9" cy="957" r="3.3" fill="#2a4a1a" stroke="#dcdcd8" stroke-width="1.6"/>
<circle cx="1344" cy="965.8" r="3.3" fill="#e060e0" stroke="#dcdcd8" stroke-width="1.6"/>
<circle cx="1620" cy="965.8" r="3.3" fill="#1670b8" stroke="#dcdcd8" stroke-width="1.6"/>
<circle cx="1632.4" cy="967.6" r="3.3" fill="#1670b8" stroke="#dcdcd8" stroke-width="1.6"/>
<circle cx="1650" cy="962.3" r="3.3" fill="#1670b8" stroke="#dcdcd8" stroke-width="1.6"/>
<circle cx="1702.7" cy="962.3" r="3.3" fill="#1670b8" stroke="#dcdcd8" stroke-width="1.6"/>
<circle cx="1715" cy="960.5" r="3.3" fill="#1670b8" stroke="#dcdcd8" stroke-width="1.6"/>
<circle cx="1727.4" cy="962.3" r="3.3" fill="#1670b8" stroke="#dcdcd8" stroke-width="1.6"/>
<circle cx="1138.9" cy="957.6" r="3.3" fill="#2a5a1a" stroke="#dcdcd8" stroke-width="1.6"/>
<circle cx="1158.4" cy="957.6" r="3.3" fill="#2a5a1a" stroke="#dcdcd8" stroke-width="1.6"/>
<text x="1666" y="1024" font-family="'Liberation Serif', serif" font-size="24" font-weight="normal" font-style="normal" fill="#111" text-anchor="start" >O<tspan font-size="15" dy="5">2</tspan></text>
<line x1="1700" y1="1007.4" x2="1700.0" y2="1016.4" stroke="#2f5597" stroke-width="3.5"/>
<polygon points="1700.0,1026.4 1694.0,1015.4 1706.0,1015.4" fill="#2f5597"/>
<ellipse cx="1705" cy="1061" rx="21" ry="10" fill="#7ed85a"/>
<text x="1687" y="1067.8" font-family="'Liberation Serif', serif" font-size="18.5" font-weight="bold" font-style="normal" fill="#111" text-anchor="start" >HIF1</text>
<line x1="1734.7" y1="1070" x2="1734.7" y2="1060.0" stroke="#f00" stroke-width="3"/>
<polygon points="1734.7,1051.0 1740.2,1061.0 1729.2,1061.0" fill="#f00"/>
<line x1="1691.4" y1="1036.8" x2="1696.8" y2="1044.8" stroke="#000" stroke-width="2.2"/>
<polygon points="1702.5,1053.0 1691.7,1047.0 1700.8,1040.8" fill="#000"/>
<line x1="1720.8" y1="1042" x2="1724.2" y2="1035.8" stroke="#000" stroke-width="2.2"/>
<polygon points="1729.0,1027.0 1728.5,1039.3 1718.9,1034.0" fill="#000"/>
<path d="M531.6,1183 C600,1178 650,1177 700,1178 C800,1180 900,1186 1000,1182 C1080,1178 1150,1170 1225,1171 C1300,1172 1350,1180 1400,1183 C1460,1185 1510,1183 1554.5,1183.3 L1554.5,1266.5 C1500,1268 1420,1266 1340,1262 C1290,1258 1260,1252 1225,1252 C1180,1252 1140,1257 1100,1261 C1000,1270 900,1273 800,1274 C700,1275 600,1271 531.6,1269 Z" fill="#ff8787" stroke="#e00000" stroke-width="1.6"/>
<ellipse cx="1554.5" cy="1225" rx="34.8" ry="41.5" fill="#ff8787" stroke="#e00000" stroke-width="1.8"/>
<ellipse cx="529" cy="1228" rx="34" ry="43" fill="#ff0000"/>
<path d="M69.9,1292.7 C66,1275 65,1258 66.5,1243 C68,1225 72,1206 79.8,1196.5 C92,1183 108,1177 123,1176.6 C145,1176 170,1178 189.3,1179.9 C205,1181 215,1184 225.8,1184.9 C233,1185.5 238,1186 245.7,1184.9 C255,1183.5 262,1183 272.3,1183.2 C290,1183.5 308,1182 322,1184.9 C332,1187 335,1193 332,1199.8 C330,1207 327,1213 322,1219.7 C315,1229 308,1238 298.8,1243 C285,1250 270,1251 255.7,1254.6 C244,1258 236,1264 225.8,1269.5 C208,1277 190,1280 172.7,1286.1 C155,1292 138,1300 123,1306 C110,1311 100,1316 89.8,1316 C80,1316 73,1310 71.5,1306 C70,1301 70,1297 69.9,1292.7 Z" fill="#814f5f"/>
<line x1="223.5" y1="871" x2="197" y2="1186" stroke="#000" stroke-width="3"/>
<line x1="176" y1="1187" x2="220" y2="1189" stroke="#000" stroke-width="4"/>
<text x="166.5" y="1213.5" font-family="'Liberation Serif', serif" font-size="17.8" font-weight="bold" font-style="normal" fill="#111" text-anchor="start" >FMO3</text>
<text x="83" y="1240.5" font-family="'Liberation Serif', serif" font-size="24" font-weight="bold" font-style="normal" fill="#111" text-anchor="start" >TMA</text>
<line x1="145.8" y1="1228.9" x2="223.3" y2="1230.2" stroke="#000" stroke-width="2.5"/>
<polygon points="236.3,1230.4 222.2,1236.2 222.4,1224.2" fill="#000"/>
<text x="240.3" y="1238" font-family="'Liberation Serif', serif" font-size="24" font-weight="bold" font-style="normal" fill="#111" text-anchor="start" >TMAO</text>
<line x1="318.5" y1="1210.3" x2="318.5" y2="1238.0" stroke="#2f5597" stroke-width="3"/>
<polygon points="318.5,1251.0 312.5,1237.0 324.5,1237.0" fill="#2f5597"/>
<path d="M261.4,1250.6 C275,1285 330,1292 400,1285 C470,1278 520,1250 550,1220" fill="none" stroke="#000" stroke-width="2.2"/>
<polygon points="556,1214.5 552,1229 542,1220" fill="#000"/>
<text x="565.6" y="1228" font-family="'Liberation Serif', serif" font-size="23.5" font-weight="bold" font-style="normal" fill="#111" text-anchor="start" >TMAO</text>
<line x1="651" y1="1202.8" x2="651.0" y2="1230.0" stroke="#2f5597" stroke-width="3"/>
<polygon points="651.0,1243.0 645.0,1229.0 657.0,1229.0" fill="#2f5597"/>
<rect x="849.7" y="1191.2" width="94.5" height="80.5" fill="none" stroke="#111" stroke-width="2.2"/>
<text x="859.7" y="1217.9" font-family="'Liberation Serif', serif" font-size="21" font-weight="bold" font-style="normal" fill="#111" text-anchor="start" >GLP-1</text>
<text x="859.7" y="1242" font-family="'Liberation Serif', serif" font-size="21" font-weight="bold" font-style="normal" fill="#111" text-anchor="start" >GLP-2</text>
<text x="859.7" y="1265.6" font-family="'Liberation Serif', serif" font-size="21" font-weight="bold" font-style="normal" fill="#111" text-anchor="start" >PYY</text>
<line x1="927.6" y1="1217" x2="927.6" y2="1205.0" stroke="#f00" stroke-width="3"/>
<polygon points="927.6,1195.0 933.1,1206.0 922.1,1206.0" fill="#f00"/>
<line x1="927.6" y1="1241" x2="927.6" y2="1229.0" stroke="#f00" stroke-width="3"/>
<polygon points="927.6,1219.0 933.1,1230.0 922.1,1230.0" fill="#f00"/>
<line x1="927.6" y1="1265" x2="927.6" y2="1253.0" stroke="#f00" stroke-width="3"/>
<polygon points="927.6,1243.0 933.1,1254.0 922.1,1254.0" fill="#f00"/>
<rect x="728" y="1300.8" width="336.6" height="104.6" fill="#e2efda"/>
<polygon points="884.9,1271.7 884.9,1293.3 872.3,1293.3 896.4,1316 921.6,1293.3 909,1293.3 909,1271.7" fill="#fff" stroke="#111" stroke-width="2"/>
<text x="744.1" y="1331" font-family="'Liberation Serif', serif" font-size="24" font-weight="bold" font-style="normal" fill="#111" text-anchor="start" >1. Decrease food intake</text>
<text x="744.1" y="1360.2" font-family="'Liberation Serif', serif" font-size="24" font-weight="bold" font-style="normal" fill="#111" text-anchor="start" >2. Regulate glucose and lipid</text>
<text x="744.1" y="1388.8" font-family="'Liberation Serif', serif" font-size="24" font-weight="bold" font-style="normal" fill="#111" text-anchor="start" >metabolism</text>
<circle cx="1191.4" cy="1219.6" r="7.5" fill="#f6d860"/>
<text x="1206.4" y="1232" font-family="'Liberation Serif', serif" font-size="24" font-weight="bold" font-style="normal" fill="#111" text-anchor="start" >LPS</text>
<line x1="1279.5" y1="1203.7" x2="1279.5" y2="1230.5" stroke="#2f5597" stroke-width="3"/>
<polygon points="1279.5,1243.5 1273.5,1229.5 1285.5,1229.5" fill="#2f5597"/>
<line x1="1241.2" y1="1247" x2="1338.9" y2="1281.7" stroke="#000" stroke-width="2.4"/>
<polygon points="1353.0,1286.7 1335.9,1287.0 1339.9,1275.7" fill="#000"/>
<rect x="1147.7" y="1286.7" width="410.3" height="132.8" fill="#e2efda"/>
<text x="1164.1" y="1316.6" font-family="'Liberation Serif', serif" font-size="24" font-weight="bold" font-style="normal" fill="#111" text-anchor="start" >1. Improve insulin resistance</text>
<text x="1164.1" y="1345" font-family="'Liberation Serif', serif" font-size="24" font-weight="bold" font-style="normal" fill="#111" text-anchor="start" >2. Alleviate systemic inflammation</text>
<text x="1164.1" y="1374.8" font-family="'Liberation Serif', serif" font-size="24" font-weight="bold" font-style="normal" fill="#111" text-anchor="start" >3. Reduce inflammation of the liver</text>
<text x="1164.1" y="1403.6" font-family="'Liberation Serif', serif" font-size="24" font-weight="bold" font-style="normal" fill="#111" text-anchor="start" >and the degree of fatty degeneration</text>
<text x="336.6" y="1520.1" font-family="'Liberation Serif', serif" font-size="26.7" font-weight="bold" font-style="normal" fill="#111" text-anchor="start" >Pathogenic bacteria</text>
<text x="334.5" y="1566.6" font-family="'Liberation Serif', serif" font-size="26.7" font-weight="bold" font-style="italic" fill="#111" text-anchor="start" >Akkermansia muciniphila</text>
<text x="336.6" y="1615.1" font-family="'Liberation Serif', serif" font-size="26.7" font-weight="bold" font-style="normal" fill="#111" text-anchor="start" >AmEVs</text>
<text x="336.6" y="1678.5" font-family="'Liberation Serif', serif" font-size="26.7" font-weight="bold" font-style="normal" fill="#111" text-anchor="start" >Increased in healthy individuals</text>
<text x="731.4" y="1520.1" font-family="'Liberation Serif', serif" font-size="26.7" font-weight="bold" font-style="normal" fill="#111" text-anchor="start" >Butyrate producing bacteria</text>
<text x="731.4" y="1566.6" font-family="'Liberation Serif', serif" font-size="26.7" font-weight="bold" font-style="normal" fill="#111" text-anchor="start" >Pasteurized <tspan font-style="italic">A. muciniphila</tspan></text>
<text x="731.4" y="1615.1" font-family="'Liberation Serif', serif" font-size="26.7" font-weight="bold" font-style="normal" fill="#111" text-anchor="start" >Amuc_1100</text>
<text x="868.7" y="1677.6" font-family="'Liberation Serif', serif" font-size="26.7" font-weight="bold" font-style="normal" fill="#111" text-anchor="start" >Decreased in healthy individuals</text>
<text x="1178.7" y="1519" font-family="'Liberation Serif', serif" font-size="26.7" font-weight="bold" font-style="normal" fill="#111" text-anchor="start" >LPS</text>
<text x="1178.7" y="1566" font-family="'Liberation Serif', serif" font-size="26.7" font-weight="bold" font-style="normal" fill="#111" text-anchor="start" >Mucins</text>
<text x="1178.7" y="1614.5" font-family="'Liberation Serif', serif" font-size="26.7" font-weight="bold" font-style="normal" fill="#111" text-anchor="start" >P9</text>
<text x="1360.5" y="1519" font-family="'Liberation Serif', serif" font-size="26.7" font-weight="bold" font-style="normal" fill="#111" text-anchor="start" >Tight junction</text>
<text x="1360.5" y="1566" font-family="'Liberation Serif', serif" font-size="26.7" font-weight="bold" font-style="normal" fill="#111" text-anchor="start" >Intestinal peptides</text>
<text x="1360.5" y="1615.6" font-family="'Liberation Serif', serif" font-size="26.7" font-weight="bold" font-style="normal" fill="#111" text-anchor="start" >ICAM-2</text>
<text x="1686.1" y="1519" font-family="'Liberation Serif', serif" font-size="26.7" font-weight="bold" font-style="normal" fill="#111" text-anchor="start" >Acetate</text>
<text x="1686.1" y="1566" font-family="'Liberation Serif', serif" font-size="26.7" font-weight="bold" font-style="normal" fill="#111" text-anchor="start" >Propionate</text>
<text x="1686.1" y="1614.5" font-family="'Liberation Serif', serif" font-size="26.7" font-weight="bold" font-style="normal" fill="#111" text-anchor="start" >Butyrate</text>
<polygon points="316.6,1512.0 306.5,1513.9 309.6,1518.2 302.9,1517.0 302.2,1522.4 296.7,1518.5 292.5,1523.3 290.0,1518.0 283.6,1520.7 284.9,1515.6 278.3,1515.2 283.0,1512.0 278.3,1508.8 284.9,1508.4 283.6,1503.3 290.0,1506.0 292.5,1500.7 296.7,1505.5 302.2,1501.6 302.9,1507.0 309.6,1505.8 306.5,1510.1" fill="#353b44" transform="rotate(-15 295 1512)"/>
<g transform="translate(291.5,1557) rotate(-10) scale(1.0)">
<path d="M-16.0,2 C-6.4,-5 4.8,6 16.0,-2" stroke="#7a8aa0" stroke-width="21.5" stroke-dasharray="0.9 2" fill="none"/>
<circle cx="-16.0" cy="2" r="9.05" fill="none" stroke="#7a8aa0" stroke-width="3.6" stroke-dasharray="0.9 2"/>
<circle cx="16.0" cy="-2" r="9.05" fill="none" stroke="#7a8aa0" stroke-width="3.6" stroke-dasharray="0.9 2"/>
<path d="M-16.0,2 C-6.4,-5 4.8,6 16.0,-2" stroke="#0f72c0" stroke-width="14.5" stroke-linecap="round" fill="none"/>
<circle cx="-3.2" cy="0" r="1" fill="#8fd0a0"/><circle cx="12.8" cy="-2" r="1" fill="#8fd0a0"/>
</g>
<circle cx="285.9" cy="1604.6" r="11.8" fill="#1670b8" stroke="#333" stroke-width="1"/>
<line x1="288.9" y1="1699.6" x2="288.9" y2="1663.6" stroke="#f00" stroke-width="5.5"/>
<polygon points="288.9,1642.6 297.9,1664.6 279.9,1664.6" fill="#f00"/>
<g transform="translate(692,1509.6) rotate(-10) scale(1.05)" fill="none" stroke="#1e5a1e" stroke-width="1.6" stroke-linecap="round">
<path d="M-9,-4.5 c0,-3 2,-4 4,-4.5"/><path d="M-10,4.5 c0,3 -2,4 -4,4.5"/>
<path d="M-2,-4.5 c0,-3 2,-4 4,-4.5"/><path d="M-3,4.5 c0,3 -2,4 -4,4.5"/>
<path d="M5,-4.5 c0,-3 2,-4 4,-4.5"/><path d="M4,4.5 c0,3 -2,4 -4,4.5"/>
<path d="M11,-4.5 c0,-3 2,-4 4,-4.5"/><path d="M10,4.5 c0,3 -2,4 -4,4.5"/>
<path d="M-13.5,-2 c-3,-1 -5,-3 -4,-6 M-13.5,2 c-3,1 -5,3 -5,5 M13.5,-2 c3,-1 5,-3 4,-6 M13.5,2 c3,1 5,3 4,6"/>
<rect x="-14" y="-4.8" width="28" height="9.6" rx="4.8" fill="#22b04a"/>
</g>
<g transform="translate(696.3,1554.5) rotate(-26) scale(1.0)">
<path d="M-20.0,2 C-8.0,-5 6.0,6 20.0,-2" stroke="#c84a30" stroke-width="19.5" stroke-dasharray="0.9 2" fill="none"/>
<circle cx="-20.0" cy="2" r="8.05" fill="none" stroke="#c84a30" stroke-width="3.6" stroke-dasharray="0.9 2"/>
<circle cx="20.0" cy="-2" r="8.05" fill="none" stroke="#c84a30" stroke-width="3.6" stroke-dasharray="0.9 2"/>
<path d="M-20.0,2 C-8.0,-5 6.0,6 20.0,-2" stroke="#a8160c" stroke-width="12.5" stroke-linecap="round" fill="none"/>
<circle cx="-4.0" cy="0" r="1" fill="#8fd0a0"/><circle cx="16.0" cy="-2" r="1" fill="#8fd0a0"/>
</g>
<ellipse cx="696.8" cy="1605.4" rx="11" ry="5" fill="url(#orb)"/>
<line x1="834.9" y1="1642.6" x2="834.9" y2="1678.6" stroke="#2f5597" stroke-width="5.5"/>
<polygon points="834.9,1699.6 825.4,1677.6 844.4,1677.6" fill="#2f5597"/>
<ellipse cx="1142.7" cy="1510.6" rx="8" ry="9" fill="#f6d860"/>
<ellipse cx="1141.6" cy="1553.4" rx="11" ry="9" fill="#8ba6e0" stroke="#7a94d0" stroke-width="1"/>
<circle cx="1142.7" cy="1602.3" r="8.5" fill="url(#grb)" stroke="#111" stroke-width="1.5"/>
<g transform="translate(1333.8,1504.8) scale(1.3) translate(-1333.8,-1504.8)">
<circle cx="1330.0" cy="1501.0" r="3.8" fill="#f5f0a0" stroke="#111" stroke-width="1.3"/>
<circle cx="1330.0" cy="1508.6" r="3.8" fill="#f5f0a0" stroke="#111" stroke-width="1.3"/>
<circle cx="1337.6" cy="1501.0" r="3.8" fill="#f5f0a0" stroke="#111" stroke-width="1.3"/>
<circle cx="1337.6" cy="1508.6" r="3.8" fill="#f5f0a0" stroke="#111" stroke-width="1.3"/>
</g>
<ellipse cx="1331.5" cy="1563.3" rx="5" ry="8" transform="rotate(-50 1331.5 1563.3)" fill="#f6c0d0"/>
<rect x="1330" y="1615" width="5" height="27" fill="#20a888"/>
<ellipse cx="1332.6" cy="1593.0" rx="5.5" ry="2.8" fill="#20a888"/>
<ellipse cx="1332.6" cy="1598.5" rx="5.5" ry="2.8" fill="#20a888"/>
<ellipse cx="1332.6" cy="1604.0" rx="5.5" ry="2.8" fill="#20a888"/>
<ellipse cx="1332.6" cy="1609.5" rx="5.5" ry="2.8" fill="#20a888"/>
<ellipse cx="1332.6" cy="1615.0" rx="5.5" ry="2.8" fill="#20a888"/>
<ellipse cx="1649.8" cy="1518.2" rx="5" ry="3" fill="#e060e0" stroke="#ddd" stroke-width="1.5"/>
<circle cx="1651" cy="1559.5" r="7" fill="#2a4a1a" stroke="#ccc" stroke-width="1.5"/>
<ellipse cx="1648.7" cy="1606.9" rx="5" ry="6" fill="#1670b8" stroke="#ccc" stroke-width="1.5"/>
</svg></body></html>
